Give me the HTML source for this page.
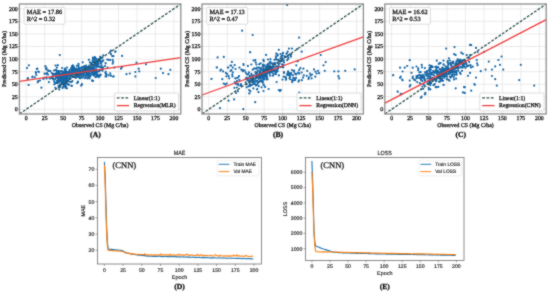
<!DOCTYPE html>
<html><head><meta charset="utf-8"><style>
html,body{margin:0;padding:0;background:#fff;overflow:hidden;}
svg{display:block;text-rendering:geometricPrecision;}
.sc text{stroke:#111;stroke-width:0.28px;}
.ln text{stroke:#222;stroke-width:0.15px;}
.ln text.cn,.ln text.bl{stroke:#111;stroke-width:0.25px;}
</style></head><body>
<svg width="550" height="294" viewBox="0 0 550 294">
<defs><filter id="bl" x="0" y="0" width="550" height="294" filterUnits="userSpaceOnUse" color-interpolation-filters="sRGB"><feConvolveMatrix order="3" kernelMatrix="1 2 1 2 14 2 1 2 1" divisor="26" edgeMode="duplicate"/></filter></defs>
<g filter="url(#bl)">
<rect width="550" height="294" fill="#fff"/>
<g class="sc" font-family='"Liberation Serif", serif' fill="#1a1a1a"><line x1="26.20" y1="4.0" x2="26.20" y2="113.95" stroke="#e2e2e2" stroke-width="0.7"/>
<line x1="19.4" y1="109.32" x2="180.80" y2="109.32" stroke="#e2e2e2" stroke-width="0.7"/>
<line x1="26.20" y1="113.95" x2="26.20" y2="115.75" stroke="#8e8e8e" stroke-width="0.6"/>
<line x1="17.599999999999998" y1="109.32" x2="19.4" y2="109.32" stroke="#8e8e8e" stroke-width="0.6"/>
<text transform="translate(26.20,120.45)" text-anchor="middle" font-size="5.8">0</text>
<text transform="translate(17.70,111.32)" text-anchor="end" font-size="5.8">0</text>
<line x1="44.66" y1="4.0" x2="44.66" y2="113.95" stroke="#e2e2e2" stroke-width="0.7"/>
<line x1="19.4" y1="96.76" x2="180.80" y2="96.76" stroke="#e2e2e2" stroke-width="0.7"/>
<line x1="44.66" y1="113.95" x2="44.66" y2="115.75" stroke="#8e8e8e" stroke-width="0.6"/>
<line x1="17.599999999999998" y1="96.76" x2="19.4" y2="96.76" stroke="#8e8e8e" stroke-width="0.6"/>
<text transform="translate(44.66,120.45)" text-anchor="middle" font-size="5.8">25</text>
<text transform="translate(17.70,98.76)" text-anchor="end" font-size="5.8">25</text>
<line x1="63.13" y1="4.0" x2="63.13" y2="113.95" stroke="#e2e2e2" stroke-width="0.7"/>
<line x1="19.4" y1="84.19" x2="180.80" y2="84.19" stroke="#e2e2e2" stroke-width="0.7"/>
<line x1="63.13" y1="113.95" x2="63.13" y2="115.75" stroke="#8e8e8e" stroke-width="0.6"/>
<line x1="17.599999999999998" y1="84.19" x2="19.4" y2="84.19" stroke="#8e8e8e" stroke-width="0.6"/>
<text transform="translate(63.13,120.45)" text-anchor="middle" font-size="5.8">50</text>
<text transform="translate(17.70,86.19)" text-anchor="end" font-size="5.8">50</text>
<line x1="81.60" y1="4.0" x2="81.60" y2="113.95" stroke="#e2e2e2" stroke-width="0.7"/>
<line x1="19.4" y1="71.62" x2="180.80" y2="71.62" stroke="#e2e2e2" stroke-width="0.7"/>
<line x1="81.60" y1="113.95" x2="81.60" y2="115.75" stroke="#8e8e8e" stroke-width="0.6"/>
<line x1="17.599999999999998" y1="71.62" x2="19.4" y2="71.62" stroke="#8e8e8e" stroke-width="0.6"/>
<text transform="translate(81.60,120.45)" text-anchor="middle" font-size="5.8">75</text>
<text transform="translate(17.70,73.62)" text-anchor="end" font-size="5.8">75</text>
<line x1="100.06" y1="4.0" x2="100.06" y2="113.95" stroke="#e2e2e2" stroke-width="0.7"/>
<line x1="19.4" y1="59.05" x2="180.80" y2="59.05" stroke="#e2e2e2" stroke-width="0.7"/>
<line x1="100.06" y1="113.95" x2="100.06" y2="115.75" stroke="#8e8e8e" stroke-width="0.6"/>
<line x1="17.599999999999998" y1="59.05" x2="19.4" y2="59.05" stroke="#8e8e8e" stroke-width="0.6"/>
<text transform="translate(100.06,120.45)" text-anchor="middle" font-size="5.8">100</text>
<text transform="translate(17.70,61.05)" text-anchor="end" font-size="5.8">100</text>
<line x1="118.53" y1="4.0" x2="118.53" y2="113.95" stroke="#e2e2e2" stroke-width="0.7"/>
<line x1="19.4" y1="46.48" x2="180.80" y2="46.48" stroke="#e2e2e2" stroke-width="0.7"/>
<line x1="118.53" y1="113.95" x2="118.53" y2="115.75" stroke="#8e8e8e" stroke-width="0.6"/>
<line x1="17.599999999999998" y1="46.48" x2="19.4" y2="46.48" stroke="#8e8e8e" stroke-width="0.6"/>
<text transform="translate(118.53,120.45)" text-anchor="middle" font-size="5.8">125</text>
<text transform="translate(17.70,48.48)" text-anchor="end" font-size="5.8">125</text>
<line x1="137.00" y1="4.0" x2="137.00" y2="113.95" stroke="#e2e2e2" stroke-width="0.7"/>
<line x1="19.4" y1="33.91" x2="180.80" y2="33.91" stroke="#e2e2e2" stroke-width="0.7"/>
<line x1="137.00" y1="113.95" x2="137.00" y2="115.75" stroke="#8e8e8e" stroke-width="0.6"/>
<line x1="17.599999999999998" y1="33.91" x2="19.4" y2="33.91" stroke="#8e8e8e" stroke-width="0.6"/>
<text transform="translate(137.00,120.45)" text-anchor="middle" font-size="5.8">150</text>
<text transform="translate(17.70,35.91)" text-anchor="end" font-size="5.8">150</text>
<line x1="155.46" y1="4.0" x2="155.46" y2="113.95" stroke="#e2e2e2" stroke-width="0.7"/>
<line x1="19.4" y1="21.34" x2="180.80" y2="21.34" stroke="#e2e2e2" stroke-width="0.7"/>
<line x1="155.46" y1="113.95" x2="155.46" y2="115.75" stroke="#8e8e8e" stroke-width="0.6"/>
<line x1="17.599999999999998" y1="21.34" x2="19.4" y2="21.34" stroke="#8e8e8e" stroke-width="0.6"/>
<text transform="translate(155.46,120.45)" text-anchor="middle" font-size="5.8">175</text>
<text transform="translate(17.70,23.34)" text-anchor="end" font-size="5.8">175</text>
<line x1="173.93" y1="4.0" x2="173.93" y2="113.95" stroke="#e2e2e2" stroke-width="0.7"/>
<line x1="19.4" y1="8.78" x2="180.80" y2="8.78" stroke="#e2e2e2" stroke-width="0.7"/>
<line x1="173.93" y1="113.95" x2="173.93" y2="115.75" stroke="#8e8e8e" stroke-width="0.6"/>
<line x1="17.599999999999998" y1="8.78" x2="19.4" y2="8.78" stroke="#8e8e8e" stroke-width="0.6"/>
<text transform="translate(173.93,120.45)" text-anchor="middle" font-size="5.8">200</text>
<text transform="translate(17.70,10.78)" text-anchor="end" font-size="5.8">200</text>
<path fill="#1666a6" d="M65.5 72.6a1.1 1.1 0 1 0 2.2 0a1.1 1.1 0 1 0 -2.2 0M70.7 74.7a1.1 1.1 0 1 0 2.2 0a1.1 1.1 0 1 0 -2.2 0M70.2 76.1a1.1 1.1 0 1 0 2.2 0a1.1 1.1 0 1 0 -2.2 0M84.1 78.0a1.1 1.1 0 1 0 2.2 0a1.1 1.1 0 1 0 -2.2 0M76.6 71.7a1.1 1.1 0 1 0 2.2 0a1.1 1.1 0 1 0 -2.2 0M81.4 70.6a1.1 1.1 0 1 0 2.2 0a1.1 1.1 0 1 0 -2.2 0M90.6 69.4a1.1 1.1 0 1 0 2.2 0a1.1 1.1 0 1 0 -2.2 0M90.2 64.3a1.1 1.1 0 1 0 2.2 0a1.1 1.1 0 1 0 -2.2 0M85.5 67.2a1.1 1.1 0 1 0 2.2 0a1.1 1.1 0 1 0 -2.2 0M74.1 73.1a1.1 1.1 0 1 0 2.2 0a1.1 1.1 0 1 0 -2.2 0M70.2 73.6a1.1 1.1 0 1 0 2.2 0a1.1 1.1 0 1 0 -2.2 0M70.4 81.8a1.1 1.1 0 1 0 2.2 0a1.1 1.1 0 1 0 -2.2 0M76.0 76.6a1.1 1.1 0 1 0 2.2 0a1.1 1.1 0 1 0 -2.2 0M79.5 74.5a1.1 1.1 0 1 0 2.2 0a1.1 1.1 0 1 0 -2.2 0M67.9 78.3a1.1 1.1 0 1 0 2.2 0a1.1 1.1 0 1 0 -2.2 0M65.0 71.5a1.1 1.1 0 1 0 2.2 0a1.1 1.1 0 1 0 -2.2 0M83.6 69.5a1.1 1.1 0 1 0 2.2 0a1.1 1.1 0 1 0 -2.2 0M55.7 72.3a1.1 1.1 0 1 0 2.2 0a1.1 1.1 0 1 0 -2.2 0M77.5 71.6a1.1 1.1 0 1 0 2.2 0a1.1 1.1 0 1 0 -2.2 0M86.3 78.4a1.1 1.1 0 1 0 2.2 0a1.1 1.1 0 1 0 -2.2 0M67.1 72.6a1.1 1.1 0 1 0 2.2 0a1.1 1.1 0 1 0 -2.2 0M65.3 71.5a1.1 1.1 0 1 0 2.2 0a1.1 1.1 0 1 0 -2.2 0M70.1 73.2a1.1 1.1 0 1 0 2.2 0a1.1 1.1 0 1 0 -2.2 0M88.6 73.7a1.1 1.1 0 1 0 2.2 0a1.1 1.1 0 1 0 -2.2 0M78.4 73.7a1.1 1.1 0 1 0 2.2 0a1.1 1.1 0 1 0 -2.2 0M56.1 77.7a1.1 1.1 0 1 0 2.2 0a1.1 1.1 0 1 0 -2.2 0M73.9 68.5a1.1 1.1 0 1 0 2.2 0a1.1 1.1 0 1 0 -2.2 0M92.6 67.4a1.1 1.1 0 1 0 2.2 0a1.1 1.1 0 1 0 -2.2 0M92.5 69.6a1.1 1.1 0 1 0 2.2 0a1.1 1.1 0 1 0 -2.2 0M88.1 71.2a1.1 1.1 0 1 0 2.2 0a1.1 1.1 0 1 0 -2.2 0M77.4 76.9a1.1 1.1 0 1 0 2.2 0a1.1 1.1 0 1 0 -2.2 0M55.6 70.6a1.1 1.1 0 1 0 2.2 0a1.1 1.1 0 1 0 -2.2 0M82.3 73.8a1.1 1.1 0 1 0 2.2 0a1.1 1.1 0 1 0 -2.2 0M77.5 71.4a1.1 1.1 0 1 0 2.2 0a1.1 1.1 0 1 0 -2.2 0M81.1 73.9a1.1 1.1 0 1 0 2.2 0a1.1 1.1 0 1 0 -2.2 0M99.5 67.3a1.1 1.1 0 1 0 2.2 0a1.1 1.1 0 1 0 -2.2 0M81.7 67.0a1.1 1.1 0 1 0 2.2 0a1.1 1.1 0 1 0 -2.2 0M83.9 75.5a1.1 1.1 0 1 0 2.2 0a1.1 1.1 0 1 0 -2.2 0M87.8 72.0a1.1 1.1 0 1 0 2.2 0a1.1 1.1 0 1 0 -2.2 0M75.8 65.8a1.1 1.1 0 1 0 2.2 0a1.1 1.1 0 1 0 -2.2 0M71.6 75.3a1.1 1.1 0 1 0 2.2 0a1.1 1.1 0 1 0 -2.2 0M70.0 69.7a1.1 1.1 0 1 0 2.2 0a1.1 1.1 0 1 0 -2.2 0M89.7 70.4a1.1 1.1 0 1 0 2.2 0a1.1 1.1 0 1 0 -2.2 0M86.4 71.1a1.1 1.1 0 1 0 2.2 0a1.1 1.1 0 1 0 -2.2 0M73.0 68.2a1.1 1.1 0 1 0 2.2 0a1.1 1.1 0 1 0 -2.2 0M95.2 73.8a1.1 1.1 0 1 0 2.2 0a1.1 1.1 0 1 0 -2.2 0M82.1 69.9a1.1 1.1 0 1 0 2.2 0a1.1 1.1 0 1 0 -2.2 0M63.3 79.5a1.1 1.1 0 1 0 2.2 0a1.1 1.1 0 1 0 -2.2 0M87.9 72.6a1.1 1.1 0 1 0 2.2 0a1.1 1.1 0 1 0 -2.2 0M78.3 73.9a1.1 1.1 0 1 0 2.2 0a1.1 1.1 0 1 0 -2.2 0M62.9 74.9a1.1 1.1 0 1 0 2.2 0a1.1 1.1 0 1 0 -2.2 0M87.4 77.7a1.1 1.1 0 1 0 2.2 0a1.1 1.1 0 1 0 -2.2 0M75.0 69.1a1.1 1.1 0 1 0 2.2 0a1.1 1.1 0 1 0 -2.2 0M74.5 69.9a1.1 1.1 0 1 0 2.2 0a1.1 1.1 0 1 0 -2.2 0M87.2 68.8a1.1 1.1 0 1 0 2.2 0a1.1 1.1 0 1 0 -2.2 0M52.1 79.3a1.1 1.1 0 1 0 2.2 0a1.1 1.1 0 1 0 -2.2 0M63.8 77.5a1.1 1.1 0 1 0 2.2 0a1.1 1.1 0 1 0 -2.2 0M74.5 72.9a1.1 1.1 0 1 0 2.2 0a1.1 1.1 0 1 0 -2.2 0M83.2 72.5a1.1 1.1 0 1 0 2.2 0a1.1 1.1 0 1 0 -2.2 0M70.6 67.5a1.1 1.1 0 1 0 2.2 0a1.1 1.1 0 1 0 -2.2 0M67.6 78.5a1.1 1.1 0 1 0 2.2 0a1.1 1.1 0 1 0 -2.2 0M66.2 72.9a1.1 1.1 0 1 0 2.2 0a1.1 1.1 0 1 0 -2.2 0M78.4 72.6a1.1 1.1 0 1 0 2.2 0a1.1 1.1 0 1 0 -2.2 0M88.5 69.9a1.1 1.1 0 1 0 2.2 0a1.1 1.1 0 1 0 -2.2 0M61.5 76.5a1.1 1.1 0 1 0 2.2 0a1.1 1.1 0 1 0 -2.2 0M53.0 74.5a1.1 1.1 0 1 0 2.2 0a1.1 1.1 0 1 0 -2.2 0M76.1 72.8a1.1 1.1 0 1 0 2.2 0a1.1 1.1 0 1 0 -2.2 0M75.0 72.9a1.1 1.1 0 1 0 2.2 0a1.1 1.1 0 1 0 -2.2 0M68.0 71.7a1.1 1.1 0 1 0 2.2 0a1.1 1.1 0 1 0 -2.2 0M87.5 68.9a1.1 1.1 0 1 0 2.2 0a1.1 1.1 0 1 0 -2.2 0M90.4 72.0a1.1 1.1 0 1 0 2.2 0a1.1 1.1 0 1 0 -2.2 0M72.8 74.2a1.1 1.1 0 1 0 2.2 0a1.1 1.1 0 1 0 -2.2 0M75.8 75.0a1.1 1.1 0 1 0 2.2 0a1.1 1.1 0 1 0 -2.2 0M87.9 76.0a1.1 1.1 0 1 0 2.2 0a1.1 1.1 0 1 0 -2.2 0M73.8 68.5a1.1 1.1 0 1 0 2.2 0a1.1 1.1 0 1 0 -2.2 0M61.0 68.0a1.1 1.1 0 1 0 2.2 0a1.1 1.1 0 1 0 -2.2 0M78.9 70.7a1.1 1.1 0 1 0 2.2 0a1.1 1.1 0 1 0 -2.2 0M68.8 77.7a1.1 1.1 0 1 0 2.2 0a1.1 1.1 0 1 0 -2.2 0M84.1 71.3a1.1 1.1 0 1 0 2.2 0a1.1 1.1 0 1 0 -2.2 0M72.6 66.7a1.1 1.1 0 1 0 2.2 0a1.1 1.1 0 1 0 -2.2 0M78.1 77.6a1.1 1.1 0 1 0 2.2 0a1.1 1.1 0 1 0 -2.2 0M86.8 72.9a1.1 1.1 0 1 0 2.2 0a1.1 1.1 0 1 0 -2.2 0M77.7 67.2a1.1 1.1 0 1 0 2.2 0a1.1 1.1 0 1 0 -2.2 0M71.4 70.2a1.1 1.1 0 1 0 2.2 0a1.1 1.1 0 1 0 -2.2 0M67.0 73.9a1.1 1.1 0 1 0 2.2 0a1.1 1.1 0 1 0 -2.2 0M101.9 67.4a1.1 1.1 0 1 0 2.2 0a1.1 1.1 0 1 0 -2.2 0M94.1 69.8a1.1 1.1 0 1 0 2.2 0a1.1 1.1 0 1 0 -2.2 0M60.7 76.1a1.1 1.1 0 1 0 2.2 0a1.1 1.1 0 1 0 -2.2 0M66.3 73.7a1.1 1.1 0 1 0 2.2 0a1.1 1.1 0 1 0 -2.2 0M88.0 75.8a1.1 1.1 0 1 0 2.2 0a1.1 1.1 0 1 0 -2.2 0M72.2 72.3a1.1 1.1 0 1 0 2.2 0a1.1 1.1 0 1 0 -2.2 0M80.7 77.0a1.1 1.1 0 1 0 2.2 0a1.1 1.1 0 1 0 -2.2 0M90.2 68.7a1.1 1.1 0 1 0 2.2 0a1.1 1.1 0 1 0 -2.2 0M81.1 67.9a1.1 1.1 0 1 0 2.2 0a1.1 1.1 0 1 0 -2.2 0M77.4 65.1a1.1 1.1 0 1 0 2.2 0a1.1 1.1 0 1 0 -2.2 0M73.4 69.8a1.1 1.1 0 1 0 2.2 0a1.1 1.1 0 1 0 -2.2 0M78.8 72.4a1.1 1.1 0 1 0 2.2 0a1.1 1.1 0 1 0 -2.2 0M85.3 74.6a1.1 1.1 0 1 0 2.2 0a1.1 1.1 0 1 0 -2.2 0M100.9 57.7a1.1 1.1 0 1 0 2.2 0a1.1 1.1 0 1 0 -2.2 0M93.6 70.2a1.1 1.1 0 1 0 2.2 0a1.1 1.1 0 1 0 -2.2 0M76.9 69.0a1.1 1.1 0 1 0 2.2 0a1.1 1.1 0 1 0 -2.2 0M92.0 72.9a1.1 1.1 0 1 0 2.2 0a1.1 1.1 0 1 0 -2.2 0M81.2 70.1a1.1 1.1 0 1 0 2.2 0a1.1 1.1 0 1 0 -2.2 0M60.9 75.3a1.1 1.1 0 1 0 2.2 0a1.1 1.1 0 1 0 -2.2 0M79.3 78.2a1.1 1.1 0 1 0 2.2 0a1.1 1.1 0 1 0 -2.2 0M92.8 70.8a1.1 1.1 0 1 0 2.2 0a1.1 1.1 0 1 0 -2.2 0M72.1 72.4a1.1 1.1 0 1 0 2.2 0a1.1 1.1 0 1 0 -2.2 0M92.4 73.8a1.1 1.1 0 1 0 2.2 0a1.1 1.1 0 1 0 -2.2 0M76.1 73.4a1.1 1.1 0 1 0 2.2 0a1.1 1.1 0 1 0 -2.2 0M80.2 71.3a1.1 1.1 0 1 0 2.2 0a1.1 1.1 0 1 0 -2.2 0M63.9 68.5a1.1 1.1 0 1 0 2.2 0a1.1 1.1 0 1 0 -2.2 0M106.5 67.5a1.1 1.1 0 1 0 2.2 0a1.1 1.1 0 1 0 -2.2 0M85.1 65.6a1.1 1.1 0 1 0 2.2 0a1.1 1.1 0 1 0 -2.2 0M93.0 71.0a1.1 1.1 0 1 0 2.2 0a1.1 1.1 0 1 0 -2.2 0M74.3 74.6a1.1 1.1 0 1 0 2.2 0a1.1 1.1 0 1 0 -2.2 0M61.0 74.5a1.1 1.1 0 1 0 2.2 0a1.1 1.1 0 1 0 -2.2 0M96.3 76.2a1.1 1.1 0 1 0 2.2 0a1.1 1.1 0 1 0 -2.2 0M70.2 69.2a1.1 1.1 0 1 0 2.2 0a1.1 1.1 0 1 0 -2.2 0M101.4 70.7a1.1 1.1 0 1 0 2.2 0a1.1 1.1 0 1 0 -2.2 0M77.7 72.4a1.1 1.1 0 1 0 2.2 0a1.1 1.1 0 1 0 -2.2 0M100.4 65.4a1.1 1.1 0 1 0 2.2 0a1.1 1.1 0 1 0 -2.2 0M70.7 74.8a1.1 1.1 0 1 0 2.2 0a1.1 1.1 0 1 0 -2.2 0M57.5 77.5a1.1 1.1 0 1 0 2.2 0a1.1 1.1 0 1 0 -2.2 0M89.4 74.6a1.1 1.1 0 1 0 2.2 0a1.1 1.1 0 1 0 -2.2 0M78.9 71.5a1.1 1.1 0 1 0 2.2 0a1.1 1.1 0 1 0 -2.2 0M80.1 74.1a1.1 1.1 0 1 0 2.2 0a1.1 1.1 0 1 0 -2.2 0M93.2 68.1a1.1 1.1 0 1 0 2.2 0a1.1 1.1 0 1 0 -2.2 0M69.1 78.3a1.1 1.1 0 1 0 2.2 0a1.1 1.1 0 1 0 -2.2 0M63.9 80.0a1.1 1.1 0 1 0 2.2 0a1.1 1.1 0 1 0 -2.2 0M64.9 74.3a1.1 1.1 0 1 0 2.2 0a1.1 1.1 0 1 0 -2.2 0M58.3 75.4a1.1 1.1 0 1 0 2.2 0a1.1 1.1 0 1 0 -2.2 0M56.1 71.3a1.1 1.1 0 1 0 2.2 0a1.1 1.1 0 1 0 -2.2 0M63.3 74.1a1.1 1.1 0 1 0 2.2 0a1.1 1.1 0 1 0 -2.2 0M67.2 72.3a1.1 1.1 0 1 0 2.2 0a1.1 1.1 0 1 0 -2.2 0M74.1 73.5a1.1 1.1 0 1 0 2.2 0a1.1 1.1 0 1 0 -2.2 0M63.7 69.2a1.1 1.1 0 1 0 2.2 0a1.1 1.1 0 1 0 -2.2 0M78.7 78.2a1.1 1.1 0 1 0 2.2 0a1.1 1.1 0 1 0 -2.2 0M89.4 71.5a1.1 1.1 0 1 0 2.2 0a1.1 1.1 0 1 0 -2.2 0M77.1 76.0a1.1 1.1 0 1 0 2.2 0a1.1 1.1 0 1 0 -2.2 0M85.0 73.1a1.1 1.1 0 1 0 2.2 0a1.1 1.1 0 1 0 -2.2 0M67.4 72.6a1.1 1.1 0 1 0 2.2 0a1.1 1.1 0 1 0 -2.2 0M83.8 78.1a1.1 1.1 0 1 0 2.2 0a1.1 1.1 0 1 0 -2.2 0M85.6 75.1a1.1 1.1 0 1 0 2.2 0a1.1 1.1 0 1 0 -2.2 0M70.0 68.2a1.1 1.1 0 1 0 2.2 0a1.1 1.1 0 1 0 -2.2 0M59.1 74.5a1.1 1.1 0 1 0 2.2 0a1.1 1.1 0 1 0 -2.2 0M76.2 71.7a1.1 1.1 0 1 0 2.2 0a1.1 1.1 0 1 0 -2.2 0M78.1 69.5a1.1 1.1 0 1 0 2.2 0a1.1 1.1 0 1 0 -2.2 0M97.6 77.2a1.1 1.1 0 1 0 2.2 0a1.1 1.1 0 1 0 -2.2 0M72.4 68.8a1.1 1.1 0 1 0 2.2 0a1.1 1.1 0 1 0 -2.2 0M99.7 74.8a1.1 1.1 0 1 0 2.2 0a1.1 1.1 0 1 0 -2.2 0M46.4 70.3a1.1 1.1 0 1 0 2.2 0a1.1 1.1 0 1 0 -2.2 0M74.4 77.4a1.1 1.1 0 1 0 2.2 0a1.1 1.1 0 1 0 -2.2 0M71.2 71.3a1.1 1.1 0 1 0 2.2 0a1.1 1.1 0 1 0 -2.2 0M71.8 65.4a1.1 1.1 0 1 0 2.2 0a1.1 1.1 0 1 0 -2.2 0M70.9 74.1a1.1 1.1 0 1 0 2.2 0a1.1 1.1 0 1 0 -2.2 0M77.1 74.0a1.1 1.1 0 1 0 2.2 0a1.1 1.1 0 1 0 -2.2 0M98.1 66.7a1.1 1.1 0 1 0 2.2 0a1.1 1.1 0 1 0 -2.2 0M76.0 76.2a1.1 1.1 0 1 0 2.2 0a1.1 1.1 0 1 0 -2.2 0M92.0 64.8a1.1 1.1 0 1 0 2.2 0a1.1 1.1 0 1 0 -2.2 0M76.7 76.3a1.1 1.1 0 1 0 2.2 0a1.1 1.1 0 1 0 -2.2 0M79.0 74.2a1.1 1.1 0 1 0 2.2 0a1.1 1.1 0 1 0 -2.2 0M47.8 82.1a1.1 1.1 0 1 0 2.2 0a1.1 1.1 0 1 0 -2.2 0M78.3 70.9a1.1 1.1 0 1 0 2.2 0a1.1 1.1 0 1 0 -2.2 0M85.5 74.4a1.1 1.1 0 1 0 2.2 0a1.1 1.1 0 1 0 -2.2 0M62.6 72.2a1.1 1.1 0 1 0 2.2 0a1.1 1.1 0 1 0 -2.2 0M69.9 76.1a1.1 1.1 0 1 0 2.2 0a1.1 1.1 0 1 0 -2.2 0M66.6 74.6a1.1 1.1 0 1 0 2.2 0a1.1 1.1 0 1 0 -2.2 0M104.7 71.8a1.1 1.1 0 1 0 2.2 0a1.1 1.1 0 1 0 -2.2 0M64.3 69.6a1.1 1.1 0 1 0 2.2 0a1.1 1.1 0 1 0 -2.2 0M68.3 75.2a1.1 1.1 0 1 0 2.2 0a1.1 1.1 0 1 0 -2.2 0M42.9 77.9a1.1 1.1 0 1 0 2.2 0a1.1 1.1 0 1 0 -2.2 0M57.8 79.9a1.1 1.1 0 1 0 2.2 0a1.1 1.1 0 1 0 -2.2 0M79.8 70.9a1.1 1.1 0 1 0 2.2 0a1.1 1.1 0 1 0 -2.2 0M60.9 73.8a1.1 1.1 0 1 0 2.2 0a1.1 1.1 0 1 0 -2.2 0M42.3 78.9a1.1 1.1 0 1 0 2.2 0a1.1 1.1 0 1 0 -2.2 0M73.7 74.6a1.1 1.1 0 1 0 2.2 0a1.1 1.1 0 1 0 -2.2 0M77.4 63.8a1.1 1.1 0 1 0 2.2 0a1.1 1.1 0 1 0 -2.2 0M80.4 71.1a1.1 1.1 0 1 0 2.2 0a1.1 1.1 0 1 0 -2.2 0M82.2 74.7a1.1 1.1 0 1 0 2.2 0a1.1 1.1 0 1 0 -2.2 0M69.2 72.2a1.1 1.1 0 1 0 2.2 0a1.1 1.1 0 1 0 -2.2 0M112.0 61.8a1.1 1.1 0 1 0 2.2 0a1.1 1.1 0 1 0 -2.2 0M69.9 72.1a1.1 1.1 0 1 0 2.2 0a1.1 1.1 0 1 0 -2.2 0M82.7 71.6a1.1 1.1 0 1 0 2.2 0a1.1 1.1 0 1 0 -2.2 0M60.6 71.1a1.1 1.1 0 1 0 2.2 0a1.1 1.1 0 1 0 -2.2 0M69.2 73.6a1.1 1.1 0 1 0 2.2 0a1.1 1.1 0 1 0 -2.2 0M57.2 71.1a1.1 1.1 0 1 0 2.2 0a1.1 1.1 0 1 0 -2.2 0M79.8 71.4a1.1 1.1 0 1 0 2.2 0a1.1 1.1 0 1 0 -2.2 0M72.1 73.3a1.1 1.1 0 1 0 2.2 0a1.1 1.1 0 1 0 -2.2 0M65.1 79.9a1.1 1.1 0 1 0 2.2 0a1.1 1.1 0 1 0 -2.2 0M51.8 76.7a1.1 1.1 0 1 0 2.2 0a1.1 1.1 0 1 0 -2.2 0M84.7 75.8a1.1 1.1 0 1 0 2.2 0a1.1 1.1 0 1 0 -2.2 0M87.7 71.8a1.1 1.1 0 1 0 2.2 0a1.1 1.1 0 1 0 -2.2 0M87.4 67.2a1.1 1.1 0 1 0 2.2 0a1.1 1.1 0 1 0 -2.2 0M75.6 68.6a1.1 1.1 0 1 0 2.2 0a1.1 1.1 0 1 0 -2.2 0M86.4 73.9a1.1 1.1 0 1 0 2.2 0a1.1 1.1 0 1 0 -2.2 0M88.2 65.5a1.1 1.1 0 1 0 2.2 0a1.1 1.1 0 1 0 -2.2 0M83.2 66.2a1.1 1.1 0 1 0 2.2 0a1.1 1.1 0 1 0 -2.2 0M96.0 73.1a1.1 1.1 0 1 0 2.2 0a1.1 1.1 0 1 0 -2.2 0M75.0 69.8a1.1 1.1 0 1 0 2.2 0a1.1 1.1 0 1 0 -2.2 0M79.6 68.1a1.1 1.1 0 1 0 2.2 0a1.1 1.1 0 1 0 -2.2 0M58.9 80.2a1.1 1.1 0 1 0 2.2 0a1.1 1.1 0 1 0 -2.2 0M103.9 66.1a1.1 1.1 0 1 0 2.2 0a1.1 1.1 0 1 0 -2.2 0M68.4 75.5a1.1 1.1 0 1 0 2.2 0a1.1 1.1 0 1 0 -2.2 0M81.9 71.6a1.1 1.1 0 1 0 2.2 0a1.1 1.1 0 1 0 -2.2 0M85.9 71.7a1.1 1.1 0 1 0 2.2 0a1.1 1.1 0 1 0 -2.2 0M67.5 73.6a1.1 1.1 0 1 0 2.2 0a1.1 1.1 0 1 0 -2.2 0M77.8 75.7a1.1 1.1 0 1 0 2.2 0a1.1 1.1 0 1 0 -2.2 0M87.4 76.1a1.1 1.1 0 1 0 2.2 0a1.1 1.1 0 1 0 -2.2 0M76.4 69.2a1.1 1.1 0 1 0 2.2 0a1.1 1.1 0 1 0 -2.2 0M74.8 77.8a1.1 1.1 0 1 0 2.2 0a1.1 1.1 0 1 0 -2.2 0M74.0 72.0a1.1 1.1 0 1 0 2.2 0a1.1 1.1 0 1 0 -2.2 0M69.0 72.7a1.1 1.1 0 1 0 2.2 0a1.1 1.1 0 1 0 -2.2 0M76.3 74.7a1.1 1.1 0 1 0 2.2 0a1.1 1.1 0 1 0 -2.2 0M82.7 69.8a1.1 1.1 0 1 0 2.2 0a1.1 1.1 0 1 0 -2.2 0M83.7 68.4a1.1 1.1 0 1 0 2.2 0a1.1 1.1 0 1 0 -2.2 0M92.9 75.5a1.1 1.1 0 1 0 2.2 0a1.1 1.1 0 1 0 -2.2 0M78.8 70.1a1.1 1.1 0 1 0 2.2 0a1.1 1.1 0 1 0 -2.2 0M71.0 65.9a1.1 1.1 0 1 0 2.2 0a1.1 1.1 0 1 0 -2.2 0M87.8 59.8a1.1 1.1 0 1 0 2.2 0a1.1 1.1 0 1 0 -2.2 0M83.0 72.7a1.1 1.1 0 1 0 2.2 0a1.1 1.1 0 1 0 -2.2 0M91.2 70.1a1.1 1.1 0 1 0 2.2 0a1.1 1.1 0 1 0 -2.2 0M81.6 77.6a1.1 1.1 0 1 0 2.2 0a1.1 1.1 0 1 0 -2.2 0M84.9 67.4a1.1 1.1 0 1 0 2.2 0a1.1 1.1 0 1 0 -2.2 0M83.1 67.4a1.1 1.1 0 1 0 2.2 0a1.1 1.1 0 1 0 -2.2 0M87.9 71.1a1.1 1.1 0 1 0 2.2 0a1.1 1.1 0 1 0 -2.2 0M66.7 78.1a1.1 1.1 0 1 0 2.2 0a1.1 1.1 0 1 0 -2.2 0M77.9 77.0a1.1 1.1 0 1 0 2.2 0a1.1 1.1 0 1 0 -2.2 0M81.0 72.0a1.1 1.1 0 1 0 2.2 0a1.1 1.1 0 1 0 -2.2 0M100.3 67.3a1.1 1.1 0 1 0 2.2 0a1.1 1.1 0 1 0 -2.2 0M77.8 72.7a1.1 1.1 0 1 0 2.2 0a1.1 1.1 0 1 0 -2.2 0M85.2 76.5a1.1 1.1 0 1 0 2.2 0a1.1 1.1 0 1 0 -2.2 0M76.4 72.1a1.1 1.1 0 1 0 2.2 0a1.1 1.1 0 1 0 -2.2 0M52.2 73.9a1.1 1.1 0 1 0 2.2 0a1.1 1.1 0 1 0 -2.2 0M94.8 71.7a1.1 1.1 0 1 0 2.2 0a1.1 1.1 0 1 0 -2.2 0M87.4 71.8a1.1 1.1 0 1 0 2.2 0a1.1 1.1 0 1 0 -2.2 0M94.7 70.6a1.1 1.1 0 1 0 2.2 0a1.1 1.1 0 1 0 -2.2 0M62.2 81.3a1.1 1.1 0 1 0 2.2 0a1.1 1.1 0 1 0 -2.2 0M82.6 74.0a1.1 1.1 0 1 0 2.2 0a1.1 1.1 0 1 0 -2.2 0M81.0 72.3a1.1 1.1 0 1 0 2.2 0a1.1 1.1 0 1 0 -2.2 0M58.6 73.5a1.1 1.1 0 1 0 2.2 0a1.1 1.1 0 1 0 -2.2 0M84.5 70.5a1.1 1.1 0 1 0 2.2 0a1.1 1.1 0 1 0 -2.2 0M71.2 74.8a1.1 1.1 0 1 0 2.2 0a1.1 1.1 0 1 0 -2.2 0M85.3 73.8a1.1 1.1 0 1 0 2.2 0a1.1 1.1 0 1 0 -2.2 0M57.3 72.7a1.1 1.1 0 1 0 2.2 0a1.1 1.1 0 1 0 -2.2 0M67.2 71.8a1.1 1.1 0 1 0 2.2 0a1.1 1.1 0 1 0 -2.2 0M69.6 72.4a1.1 1.1 0 1 0 2.2 0a1.1 1.1 0 1 0 -2.2 0M58.9 71.4a1.1 1.1 0 1 0 2.2 0a1.1 1.1 0 1 0 -2.2 0M79.9 75.8a1.1 1.1 0 1 0 2.2 0a1.1 1.1 0 1 0 -2.2 0M95.1 67.1a1.1 1.1 0 1 0 2.2 0a1.1 1.1 0 1 0 -2.2 0M78.5 72.7a1.1 1.1 0 1 0 2.2 0a1.1 1.1 0 1 0 -2.2 0M87.2 74.5a1.1 1.1 0 1 0 2.2 0a1.1 1.1 0 1 0 -2.2 0M97.1 66.6a1.1 1.1 0 1 0 2.2 0a1.1 1.1 0 1 0 -2.2 0M85.5 68.5a1.1 1.1 0 1 0 2.2 0a1.1 1.1 0 1 0 -2.2 0M73.9 72.3a1.1 1.1 0 1 0 2.2 0a1.1 1.1 0 1 0 -2.2 0M54.5 76.9a1.1 1.1 0 1 0 2.2 0a1.1 1.1 0 1 0 -2.2 0M83.3 72.3a1.1 1.1 0 1 0 2.2 0a1.1 1.1 0 1 0 -2.2 0M74.6 72.9a1.1 1.1 0 1 0 2.2 0a1.1 1.1 0 1 0 -2.2 0M73.4 77.1a1.1 1.1 0 1 0 2.2 0a1.1 1.1 0 1 0 -2.2 0M87.8 69.1a1.1 1.1 0 1 0 2.2 0a1.1 1.1 0 1 0 -2.2 0M85.5 69.1a1.1 1.1 0 1 0 2.2 0a1.1 1.1 0 1 0 -2.2 0M59.0 76.8a1.1 1.1 0 1 0 2.2 0a1.1 1.1 0 1 0 -2.2 0M81.9 72.2a1.1 1.1 0 1 0 2.2 0a1.1 1.1 0 1 0 -2.2 0M75.1 75.9a1.1 1.1 0 1 0 2.2 0a1.1 1.1 0 1 0 -2.2 0M90.2 74.5a1.1 1.1 0 1 0 2.2 0a1.1 1.1 0 1 0 -2.2 0M78.1 68.6a1.1 1.1 0 1 0 2.2 0a1.1 1.1 0 1 0 -2.2 0M89.8 63.7a1.1 1.1 0 1 0 2.2 0a1.1 1.1 0 1 0 -2.2 0M70.6 75.1a1.1 1.1 0 1 0 2.2 0a1.1 1.1 0 1 0 -2.2 0M73.7 72.7a1.1 1.1 0 1 0 2.2 0a1.1 1.1 0 1 0 -2.2 0M72.0 74.0a1.1 1.1 0 1 0 2.2 0a1.1 1.1 0 1 0 -2.2 0M76.1 69.4a1.1 1.1 0 1 0 2.2 0a1.1 1.1 0 1 0 -2.2 0M76.1 75.2a1.1 1.1 0 1 0 2.2 0a1.1 1.1 0 1 0 -2.2 0M93.9 69.6a1.1 1.1 0 1 0 2.2 0a1.1 1.1 0 1 0 -2.2 0M66.5 75.6a1.1 1.1 0 1 0 2.2 0a1.1 1.1 0 1 0 -2.2 0M80.3 75.1a1.1 1.1 0 1 0 2.2 0a1.1 1.1 0 1 0 -2.2 0M64.0 74.4a1.1 1.1 0 1 0 2.2 0a1.1 1.1 0 1 0 -2.2 0M60.4 74.2a1.1 1.1 0 1 0 2.2 0a1.1 1.1 0 1 0 -2.2 0M70.9 70.8a1.1 1.1 0 1 0 2.2 0a1.1 1.1 0 1 0 -2.2 0M60.7 83.6a1.1 1.1 0 1 0 2.2 0a1.1 1.1 0 1 0 -2.2 0M80.5 67.3a1.1 1.1 0 1 0 2.2 0a1.1 1.1 0 1 0 -2.2 0M69.7 75.7a1.1 1.1 0 1 0 2.2 0a1.1 1.1 0 1 0 -2.2 0M71.4 68.0a1.1 1.1 0 1 0 2.2 0a1.1 1.1 0 1 0 -2.2 0M84.3 68.7a1.1 1.1 0 1 0 2.2 0a1.1 1.1 0 1 0 -2.2 0M99.3 74.5a1.1 1.1 0 1 0 2.2 0a1.1 1.1 0 1 0 -2.2 0M71.7 70.6a1.1 1.1 0 1 0 2.2 0a1.1 1.1 0 1 0 -2.2 0M54.3 78.8a1.1 1.1 0 1 0 2.2 0a1.1 1.1 0 1 0 -2.2 0M73.6 71.5a1.1 1.1 0 1 0 2.2 0a1.1 1.1 0 1 0 -2.2 0M79.2 75.1a1.1 1.1 0 1 0 2.2 0a1.1 1.1 0 1 0 -2.2 0M92.8 65.7a1.1 1.1 0 1 0 2.2 0a1.1 1.1 0 1 0 -2.2 0M77.9 68.4a1.1 1.1 0 1 0 2.2 0a1.1 1.1 0 1 0 -2.2 0M68.2 78.4a1.1 1.1 0 1 0 2.2 0a1.1 1.1 0 1 0 -2.2 0M90.9 71.8a1.1 1.1 0 1 0 2.2 0a1.1 1.1 0 1 0 -2.2 0M92.4 67.0a1.1 1.1 0 1 0 2.2 0a1.1 1.1 0 1 0 -2.2 0M76.4 70.8a1.1 1.1 0 1 0 2.2 0a1.1 1.1 0 1 0 -2.2 0M81.6 62.3a1.1 1.1 0 1 0 2.2 0a1.1 1.1 0 1 0 -2.2 0M83.6 70.5a1.1 1.1 0 1 0 2.2 0a1.1 1.1 0 1 0 -2.2 0M111.6 63.6a1.1 1.1 0 1 0 2.2 0a1.1 1.1 0 1 0 -2.2 0M71.1 69.8a1.1 1.1 0 1 0 2.2 0a1.1 1.1 0 1 0 -2.2 0M74.5 77.8a1.1 1.1 0 1 0 2.2 0a1.1 1.1 0 1 0 -2.2 0M77.7 70.4a1.1 1.1 0 1 0 2.2 0a1.1 1.1 0 1 0 -2.2 0M88.2 68.8a1.1 1.1 0 1 0 2.2 0a1.1 1.1 0 1 0 -2.2 0M56.3 76.2a1.1 1.1 0 1 0 2.2 0a1.1 1.1 0 1 0 -2.2 0M65.2 79.8a1.1 1.1 0 1 0 2.2 0a1.1 1.1 0 1 0 -2.2 0M64.6 70.7a1.1 1.1 0 1 0 2.2 0a1.1 1.1 0 1 0 -2.2 0M57.6 81.0a1.1 1.1 0 1 0 2.2 0a1.1 1.1 0 1 0 -2.2 0M53.5 74.1a1.1 1.1 0 1 0 2.2 0a1.1 1.1 0 1 0 -2.2 0M60.7 80.9a1.1 1.1 0 1 0 2.2 0a1.1 1.1 0 1 0 -2.2 0M62.4 77.0a1.1 1.1 0 1 0 2.2 0a1.1 1.1 0 1 0 -2.2 0M51.9 78.6a1.1 1.1 0 1 0 2.2 0a1.1 1.1 0 1 0 -2.2 0M67.5 73.7a1.1 1.1 0 1 0 2.2 0a1.1 1.1 0 1 0 -2.2 0M57.2 77.2a1.1 1.1 0 1 0 2.2 0a1.1 1.1 0 1 0 -2.2 0M62.3 72.1a1.1 1.1 0 1 0 2.2 0a1.1 1.1 0 1 0 -2.2 0M57.9 74.3a1.1 1.1 0 1 0 2.2 0a1.1 1.1 0 1 0 -2.2 0M57.9 71.1a1.1 1.1 0 1 0 2.2 0a1.1 1.1 0 1 0 -2.2 0M66.4 77.0a1.1 1.1 0 1 0 2.2 0a1.1 1.1 0 1 0 -2.2 0M62.2 72.9a1.1 1.1 0 1 0 2.2 0a1.1 1.1 0 1 0 -2.2 0M54.2 87.8a1.1 1.1 0 1 0 2.2 0a1.1 1.1 0 1 0 -2.2 0M63.4 73.4a1.1 1.1 0 1 0 2.2 0a1.1 1.1 0 1 0 -2.2 0M65.9 67.6a1.1 1.1 0 1 0 2.2 0a1.1 1.1 0 1 0 -2.2 0M60.9 82.3a1.1 1.1 0 1 0 2.2 0a1.1 1.1 0 1 0 -2.2 0M67.1 75.7a1.1 1.1 0 1 0 2.2 0a1.1 1.1 0 1 0 -2.2 0M57.1 79.5a1.1 1.1 0 1 0 2.2 0a1.1 1.1 0 1 0 -2.2 0M66.5 77.6a1.1 1.1 0 1 0 2.2 0a1.1 1.1 0 1 0 -2.2 0M62.8 73.8a1.1 1.1 0 1 0 2.2 0a1.1 1.1 0 1 0 -2.2 0M62.6 74.6a1.1 1.1 0 1 0 2.2 0a1.1 1.1 0 1 0 -2.2 0M68.6 72.5a1.1 1.1 0 1 0 2.2 0a1.1 1.1 0 1 0 -2.2 0M65.2 83.6a1.1 1.1 0 1 0 2.2 0a1.1 1.1 0 1 0 -2.2 0M60.2 80.2a1.1 1.1 0 1 0 2.2 0a1.1 1.1 0 1 0 -2.2 0M64.3 71.4a1.1 1.1 0 1 0 2.2 0a1.1 1.1 0 1 0 -2.2 0M58.4 81.7a1.1 1.1 0 1 0 2.2 0a1.1 1.1 0 1 0 -2.2 0M64.3 79.9a1.1 1.1 0 1 0 2.2 0a1.1 1.1 0 1 0 -2.2 0M68.3 70.0a1.1 1.1 0 1 0 2.2 0a1.1 1.1 0 1 0 -2.2 0M67.8 73.6a1.1 1.1 0 1 0 2.2 0a1.1 1.1 0 1 0 -2.2 0M58.2 79.0a1.1 1.1 0 1 0 2.2 0a1.1 1.1 0 1 0 -2.2 0M60.6 78.5a1.1 1.1 0 1 0 2.2 0a1.1 1.1 0 1 0 -2.2 0M64.9 86.4a1.1 1.1 0 1 0 2.2 0a1.1 1.1 0 1 0 -2.2 0M64.7 77.2a1.1 1.1 0 1 0 2.2 0a1.1 1.1 0 1 0 -2.2 0M58.0 81.5a1.1 1.1 0 1 0 2.2 0a1.1 1.1 0 1 0 -2.2 0M62.8 75.1a1.1 1.1 0 1 0 2.2 0a1.1 1.1 0 1 0 -2.2 0M63.7 76.7a1.1 1.1 0 1 0 2.2 0a1.1 1.1 0 1 0 -2.2 0M69.3 77.3a1.1 1.1 0 1 0 2.2 0a1.1 1.1 0 1 0 -2.2 0M62.9 77.0a1.1 1.1 0 1 0 2.2 0a1.1 1.1 0 1 0 -2.2 0M61.3 78.1a1.1 1.1 0 1 0 2.2 0a1.1 1.1 0 1 0 -2.2 0M56.3 77.6a1.1 1.1 0 1 0 2.2 0a1.1 1.1 0 1 0 -2.2 0M54.9 69.9a1.1 1.1 0 1 0 2.2 0a1.1 1.1 0 1 0 -2.2 0M66.3 80.3a1.1 1.1 0 1 0 2.2 0a1.1 1.1 0 1 0 -2.2 0M62.1 72.1a1.1 1.1 0 1 0 2.2 0a1.1 1.1 0 1 0 -2.2 0M59.5 80.9a1.1 1.1 0 1 0 2.2 0a1.1 1.1 0 1 0 -2.2 0M66.6 80.1a1.1 1.1 0 1 0 2.2 0a1.1 1.1 0 1 0 -2.2 0M64.1 80.3a1.1 1.1 0 1 0 2.2 0a1.1 1.1 0 1 0 -2.2 0M61.2 74.6a1.1 1.1 0 1 0 2.2 0a1.1 1.1 0 1 0 -2.2 0M65.3 78.5a1.1 1.1 0 1 0 2.2 0a1.1 1.1 0 1 0 -2.2 0M59.7 80.5a1.1 1.1 0 1 0 2.2 0a1.1 1.1 0 1 0 -2.2 0M65.3 74.9a1.1 1.1 0 1 0 2.2 0a1.1 1.1 0 1 0 -2.2 0M63.7 70.6a1.1 1.1 0 1 0 2.2 0a1.1 1.1 0 1 0 -2.2 0M59.6 85.0a1.1 1.1 0 1 0 2.2 0a1.1 1.1 0 1 0 -2.2 0M59.8 76.2a1.1 1.1 0 1 0 2.2 0a1.1 1.1 0 1 0 -2.2 0M58.1 75.0a1.1 1.1 0 1 0 2.2 0a1.1 1.1 0 1 0 -2.2 0M66.2 72.8a1.1 1.1 0 1 0 2.2 0a1.1 1.1 0 1 0 -2.2 0M61.1 71.7a1.1 1.1 0 1 0 2.2 0a1.1 1.1 0 1 0 -2.2 0M56.7 65.2a1.1 1.1 0 1 0 2.2 0a1.1 1.1 0 1 0 -2.2 0M65.4 72.4a1.1 1.1 0 1 0 2.2 0a1.1 1.1 0 1 0 -2.2 0M64.2 72.4a1.1 1.1 0 1 0 2.2 0a1.1 1.1 0 1 0 -2.2 0M61.8 73.4a1.1 1.1 0 1 0 2.2 0a1.1 1.1 0 1 0 -2.2 0M62.8 86.0a1.1 1.1 0 1 0 2.2 0a1.1 1.1 0 1 0 -2.2 0M59.9 76.8a1.1 1.1 0 1 0 2.2 0a1.1 1.1 0 1 0 -2.2 0M58.8 75.5a1.1 1.1 0 1 0 2.2 0a1.1 1.1 0 1 0 -2.2 0M66.0 77.7a1.1 1.1 0 1 0 2.2 0a1.1 1.1 0 1 0 -2.2 0M56.1 73.9a1.1 1.1 0 1 0 2.2 0a1.1 1.1 0 1 0 -2.2 0M54.1 83.2a1.1 1.1 0 1 0 2.2 0a1.1 1.1 0 1 0 -2.2 0M55.1 82.9a1.1 1.1 0 1 0 2.2 0a1.1 1.1 0 1 0 -2.2 0M66.0 74.0a1.1 1.1 0 1 0 2.2 0a1.1 1.1 0 1 0 -2.2 0M56.4 81.9a1.1 1.1 0 1 0 2.2 0a1.1 1.1 0 1 0 -2.2 0M60.3 80.8a1.1 1.1 0 1 0 2.2 0a1.1 1.1 0 1 0 -2.2 0M58.1 89.4a1.1 1.1 0 1 0 2.2 0a1.1 1.1 0 1 0 -2.2 0M56.6 83.1a1.1 1.1 0 1 0 2.2 0a1.1 1.1 0 1 0 -2.2 0M60.8 71.2a1.1 1.1 0 1 0 2.2 0a1.1 1.1 0 1 0 -2.2 0M61.0 75.7a1.1 1.1 0 1 0 2.2 0a1.1 1.1 0 1 0 -2.2 0M71.4 81.1a1.1 1.1 0 1 0 2.2 0a1.1 1.1 0 1 0 -2.2 0M60.0 80.1a1.1 1.1 0 1 0 2.2 0a1.1 1.1 0 1 0 -2.2 0M62.9 83.1a1.1 1.1 0 1 0 2.2 0a1.1 1.1 0 1 0 -2.2 0M71.7 76.9a1.1 1.1 0 1 0 2.2 0a1.1 1.1 0 1 0 -2.2 0M68.7 78.7a1.1 1.1 0 1 0 2.2 0a1.1 1.1 0 1 0 -2.2 0M64.8 84.1a1.1 1.1 0 1 0 2.2 0a1.1 1.1 0 1 0 -2.2 0M66.2 80.2a1.1 1.1 0 1 0 2.2 0a1.1 1.1 0 1 0 -2.2 0M61.6 77.4a1.1 1.1 0 1 0 2.2 0a1.1 1.1 0 1 0 -2.2 0M65.9 88.3a1.1 1.1 0 1 0 2.2 0a1.1 1.1 0 1 0 -2.2 0M63.1 77.2a1.1 1.1 0 1 0 2.2 0a1.1 1.1 0 1 0 -2.2 0M57.7 78.3a1.1 1.1 0 1 0 2.2 0a1.1 1.1 0 1 0 -2.2 0M70.4 73.7a1.1 1.1 0 1 0 2.2 0a1.1 1.1 0 1 0 -2.2 0M61.8 78.8a1.1 1.1 0 1 0 2.2 0a1.1 1.1 0 1 0 -2.2 0M64.7 69.8a1.1 1.1 0 1 0 2.2 0a1.1 1.1 0 1 0 -2.2 0M59.3 84.5a1.1 1.1 0 1 0 2.2 0a1.1 1.1 0 1 0 -2.2 0M55.8 67.6a1.1 1.1 0 1 0 2.2 0a1.1 1.1 0 1 0 -2.2 0M53.1 81.5a1.1 1.1 0 1 0 2.2 0a1.1 1.1 0 1 0 -2.2 0M45.4 73.7a1.1 1.1 0 1 0 2.2 0a1.1 1.1 0 1 0 -2.2 0M64.8 79.1a1.1 1.1 0 1 0 2.2 0a1.1 1.1 0 1 0 -2.2 0M53.1 84.3a1.1 1.1 0 1 0 2.2 0a1.1 1.1 0 1 0 -2.2 0M59.1 77.6a1.1 1.1 0 1 0 2.2 0a1.1 1.1 0 1 0 -2.2 0M61.8 79.8a1.1 1.1 0 1 0 2.2 0a1.1 1.1 0 1 0 -2.2 0M54.4 74.6a1.1 1.1 0 1 0 2.2 0a1.1 1.1 0 1 0 -2.2 0M59.2 76.1a1.1 1.1 0 1 0 2.2 0a1.1 1.1 0 1 0 -2.2 0M63.6 83.0a1.1 1.1 0 1 0 2.2 0a1.1 1.1 0 1 0 -2.2 0M60.5 74.2a1.1 1.1 0 1 0 2.2 0a1.1 1.1 0 1 0 -2.2 0M64.6 81.5a1.1 1.1 0 1 0 2.2 0a1.1 1.1 0 1 0 -2.2 0M48.5 78.4a1.1 1.1 0 1 0 2.2 0a1.1 1.1 0 1 0 -2.2 0M64.7 75.7a1.1 1.1 0 1 0 2.2 0a1.1 1.1 0 1 0 -2.2 0M66.0 81.8a1.1 1.1 0 1 0 2.2 0a1.1 1.1 0 1 0 -2.2 0M55.1 73.2a1.1 1.1 0 1 0 2.2 0a1.1 1.1 0 1 0 -2.2 0M65.6 79.0a1.1 1.1 0 1 0 2.2 0a1.1 1.1 0 1 0 -2.2 0M59.8 71.5a1.1 1.1 0 1 0 2.2 0a1.1 1.1 0 1 0 -2.2 0M95.6 62.9a1.1 1.1 0 1 0 2.2 0a1.1 1.1 0 1 0 -2.2 0M93.5 65.6a1.1 1.1 0 1 0 2.2 0a1.1 1.1 0 1 0 -2.2 0M94.3 58.2a1.1 1.1 0 1 0 2.2 0a1.1 1.1 0 1 0 -2.2 0M99.7 63.3a1.1 1.1 0 1 0 2.2 0a1.1 1.1 0 1 0 -2.2 0M97.7 59.0a1.1 1.1 0 1 0 2.2 0a1.1 1.1 0 1 0 -2.2 0M97.3 61.9a1.1 1.1 0 1 0 2.2 0a1.1 1.1 0 1 0 -2.2 0M97.1 62.8a1.1 1.1 0 1 0 2.2 0a1.1 1.1 0 1 0 -2.2 0M95.5 64.0a1.1 1.1 0 1 0 2.2 0a1.1 1.1 0 1 0 -2.2 0M94.5 62.0a1.1 1.1 0 1 0 2.2 0a1.1 1.1 0 1 0 -2.2 0M91.5 60.1a1.1 1.1 0 1 0 2.2 0a1.1 1.1 0 1 0 -2.2 0M102.1 60.4a1.1 1.1 0 1 0 2.2 0a1.1 1.1 0 1 0 -2.2 0M97.1 64.6a1.1 1.1 0 1 0 2.2 0a1.1 1.1 0 1 0 -2.2 0M96.8 64.6a1.1 1.1 0 1 0 2.2 0a1.1 1.1 0 1 0 -2.2 0M97.5 64.1a1.1 1.1 0 1 0 2.2 0a1.1 1.1 0 1 0 -2.2 0M95.6 66.6a1.1 1.1 0 1 0 2.2 0a1.1 1.1 0 1 0 -2.2 0M101.2 61.4a1.1 1.1 0 1 0 2.2 0a1.1 1.1 0 1 0 -2.2 0M94.1 61.7a1.1 1.1 0 1 0 2.2 0a1.1 1.1 0 1 0 -2.2 0M94.1 64.9a1.1 1.1 0 1 0 2.2 0a1.1 1.1 0 1 0 -2.2 0M99.0 56.8a1.1 1.1 0 1 0 2.2 0a1.1 1.1 0 1 0 -2.2 0M98.8 60.0a1.1 1.1 0 1 0 2.2 0a1.1 1.1 0 1 0 -2.2 0M97.6 61.1a1.1 1.1 0 1 0 2.2 0a1.1 1.1 0 1 0 -2.2 0M95.9 65.0a1.1 1.1 0 1 0 2.2 0a1.1 1.1 0 1 0 -2.2 0M99.2 59.0a1.1 1.1 0 1 0 2.2 0a1.1 1.1 0 1 0 -2.2 0M95.5 61.4a1.1 1.1 0 1 0 2.2 0a1.1 1.1 0 1 0 -2.2 0M95.8 60.3a1.1 1.1 0 1 0 2.2 0a1.1 1.1 0 1 0 -2.2 0M99.3 61.2a1.1 1.1 0 1 0 2.2 0a1.1 1.1 0 1 0 -2.2 0M94.1 57.9a1.1 1.1 0 1 0 2.2 0a1.1 1.1 0 1 0 -2.2 0M91.8 57.7a1.1 1.1 0 1 0 2.2 0a1.1 1.1 0 1 0 -2.2 0M92.2 68.7a1.1 1.1 0 1 0 2.2 0a1.1 1.1 0 1 0 -2.2 0M100.2 62.8a1.1 1.1 0 1 0 2.2 0a1.1 1.1 0 1 0 -2.2 0M90.7 66.7a1.1 1.1 0 1 0 2.2 0a1.1 1.1 0 1 0 -2.2 0M94.1 63.8a1.1 1.1 0 1 0 2.2 0a1.1 1.1 0 1 0 -2.2 0M92.5 62.0a1.1 1.1 0 1 0 2.2 0a1.1 1.1 0 1 0 -2.2 0M92.3 59.5a1.1 1.1 0 1 0 2.2 0a1.1 1.1 0 1 0 -2.2 0M95.0 63.5a1.1 1.1 0 1 0 2.2 0a1.1 1.1 0 1 0 -2.2 0M95.3 58.9a1.1 1.1 0 1 0 2.2 0a1.1 1.1 0 1 0 -2.2 0M95.8 64.5a1.1 1.1 0 1 0 2.2 0a1.1 1.1 0 1 0 -2.2 0M88.5 66.7a1.1 1.1 0 1 0 2.2 0a1.1 1.1 0 1 0 -2.2 0M93.6 59.0a1.1 1.1 0 1 0 2.2 0a1.1 1.1 0 1 0 -2.2 0M92.6 64.4a1.1 1.1 0 1 0 2.2 0a1.1 1.1 0 1 0 -2.2 0M92.1 58.9a1.1 1.1 0 1 0 2.2 0a1.1 1.1 0 1 0 -2.2 0M91.1 62.4a1.1 1.1 0 1 0 2.2 0a1.1 1.1 0 1 0 -2.2 0M96.1 64.3a1.1 1.1 0 1 0 2.2 0a1.1 1.1 0 1 0 -2.2 0M93.7 61.0a1.1 1.1 0 1 0 2.2 0a1.1 1.1 0 1 0 -2.2 0M97.0 60.3a1.1 1.1 0 1 0 2.2 0a1.1 1.1 0 1 0 -2.2 0M87.3 74.9a1.1 1.1 0 1 0 2.2 0a1.1 1.1 0 1 0 -2.2 0M87.9 74.0a1.1 1.1 0 1 0 2.2 0a1.1 1.1 0 1 0 -2.2 0M95.3 69.7a1.1 1.1 0 1 0 2.2 0a1.1 1.1 0 1 0 -2.2 0M92.8 75.1a1.1 1.1 0 1 0 2.2 0a1.1 1.1 0 1 0 -2.2 0M93.1 75.7a1.1 1.1 0 1 0 2.2 0a1.1 1.1 0 1 0 -2.2 0M83.0 69.5a1.1 1.1 0 1 0 2.2 0a1.1 1.1 0 1 0 -2.2 0M89.4 69.4a1.1 1.1 0 1 0 2.2 0a1.1 1.1 0 1 0 -2.2 0M87.0 70.9a1.1 1.1 0 1 0 2.2 0a1.1 1.1 0 1 0 -2.2 0M91.4 73.3a1.1 1.1 0 1 0 2.2 0a1.1 1.1 0 1 0 -2.2 0M85.8 69.3a1.1 1.1 0 1 0 2.2 0a1.1 1.1 0 1 0 -2.2 0M95.7 75.8a1.1 1.1 0 1 0 2.2 0a1.1 1.1 0 1 0 -2.2 0M104.2 72.8a1.1 1.1 0 1 0 2.2 0a1.1 1.1 0 1 0 -2.2 0M91.6 74.7a1.1 1.1 0 1 0 2.2 0a1.1 1.1 0 1 0 -2.2 0M88.2 70.6a1.1 1.1 0 1 0 2.2 0a1.1 1.1 0 1 0 -2.2 0M94.9 69.7a1.1 1.1 0 1 0 2.2 0a1.1 1.1 0 1 0 -2.2 0M82.9 73.5a1.1 1.1 0 1 0 2.2 0a1.1 1.1 0 1 0 -2.2 0M88.4 78.4a1.1 1.1 0 1 0 2.2 0a1.1 1.1 0 1 0 -2.2 0M95.3 74.7a1.1 1.1 0 1 0 2.2 0a1.1 1.1 0 1 0 -2.2 0M89.2 76.4a1.1 1.1 0 1 0 2.2 0a1.1 1.1 0 1 0 -2.2 0M90.9 71.2a1.1 1.1 0 1 0 2.2 0a1.1 1.1 0 1 0 -2.2 0M97.8 70.7a1.1 1.1 0 1 0 2.2 0a1.1 1.1 0 1 0 -2.2 0M92.2 72.4a1.1 1.1 0 1 0 2.2 0a1.1 1.1 0 1 0 -2.2 0M93.9 74.3a1.1 1.1 0 1 0 2.2 0a1.1 1.1 0 1 0 -2.2 0M86.3 72.6a1.1 1.1 0 1 0 2.2 0a1.1 1.1 0 1 0 -2.2 0M101.6 68.9a1.1 1.1 0 1 0 2.2 0a1.1 1.1 0 1 0 -2.2 0M89.3 67.8a1.1 1.1 0 1 0 2.2 0a1.1 1.1 0 1 0 -2.2 0M93.4 73.2a1.1 1.1 0 1 0 2.2 0a1.1 1.1 0 1 0 -2.2 0M91.5 71.9a1.1 1.1 0 1 0 2.2 0a1.1 1.1 0 1 0 -2.2 0M90.9 80.4a1.1 1.1 0 1 0 2.2 0a1.1 1.1 0 1 0 -2.2 0M85.0 70.6a1.1 1.1 0 1 0 2.2 0a1.1 1.1 0 1 0 -2.2 0M89.9 69.5a1.1 1.1 0 1 0 2.2 0a1.1 1.1 0 1 0 -2.2 0M91.7 74.4a1.1 1.1 0 1 0 2.2 0a1.1 1.1 0 1 0 -2.2 0M98.1 71.3a1.1 1.1 0 1 0 2.2 0a1.1 1.1 0 1 0 -2.2 0M92.1 72.3a1.1 1.1 0 1 0 2.2 0a1.1 1.1 0 1 0 -2.2 0M89.1 75.1a1.1 1.1 0 1 0 2.2 0a1.1 1.1 0 1 0 -2.2 0M92.3 69.2a1.1 1.1 0 1 0 2.2 0a1.1 1.1 0 1 0 -2.2 0M92.1 70.7a1.1 1.1 0 1 0 2.2 0a1.1 1.1 0 1 0 -2.2 0M90.8 70.1a1.1 1.1 0 1 0 2.2 0a1.1 1.1 0 1 0 -2.2 0M92.6 70.0a1.1 1.1 0 1 0 2.2 0a1.1 1.1 0 1 0 -2.2 0M99.3 70.0a1.1 1.1 0 1 0 2.2 0a1.1 1.1 0 1 0 -2.2 0M91.3 71.1a1.1 1.1 0 1 0 2.2 0a1.1 1.1 0 1 0 -2.2 0M85.0 76.0a1.1 1.1 0 1 0 2.2 0a1.1 1.1 0 1 0 -2.2 0M88.7 71.5a1.1 1.1 0 1 0 2.2 0a1.1 1.1 0 1 0 -2.2 0M89.9 69.0a1.1 1.1 0 1 0 2.2 0a1.1 1.1 0 1 0 -2.2 0M87.8 71.5a1.1 1.1 0 1 0 2.2 0a1.1 1.1 0 1 0 -2.2 0M92.1 69.9a1.1 1.1 0 1 0 2.2 0a1.1 1.1 0 1 0 -2.2 0M96.0 72.2a1.1 1.1 0 1 0 2.2 0a1.1 1.1 0 1 0 -2.2 0M81.7 71.8a1.1 1.1 0 1 0 2.2 0a1.1 1.1 0 1 0 -2.2 0M85.9 69.6a1.1 1.1 0 1 0 2.2 0a1.1 1.1 0 1 0 -2.2 0M89.0 71.1a1.1 1.1 0 1 0 2.2 0a1.1 1.1 0 1 0 -2.2 0M94.5 73.7a1.1 1.1 0 1 0 2.2 0a1.1 1.1 0 1 0 -2.2 0M82.4 75.9a1.1 1.1 0 1 0 2.2 0a1.1 1.1 0 1 0 -2.2 0M96.2 71.7a1.1 1.1 0 1 0 2.2 0a1.1 1.1 0 1 0 -2.2 0M98.8 76.0a1.1 1.1 0 1 0 2.2 0a1.1 1.1 0 1 0 -2.2 0M97.2 75.1a1.1 1.1 0 1 0 2.2 0a1.1 1.1 0 1 0 -2.2 0M92.5 68.0a1.1 1.1 0 1 0 2.2 0a1.1 1.1 0 1 0 -2.2 0M84.9 70.4a1.1 1.1 0 1 0 2.2 0a1.1 1.1 0 1 0 -2.2 0M88.8 62.3a1.1 1.1 0 1 0 2.2 0a1.1 1.1 0 1 0 -2.2 0M88.1 68.7a1.1 1.1 0 1 0 2.2 0a1.1 1.1 0 1 0 -2.2 0M91.8 71.2a1.1 1.1 0 1 0 2.2 0a1.1 1.1 0 1 0 -2.2 0M58.7 84.7a1.1 1.1 0 1 0 2.2 0a1.1 1.1 0 1 0 -2.2 0M60.9 80.3a1.1 1.1 0 1 0 2.2 0a1.1 1.1 0 1 0 -2.2 0M58.6 78.8a1.1 1.1 0 1 0 2.2 0a1.1 1.1 0 1 0 -2.2 0M63.7 84.5a1.1 1.1 0 1 0 2.2 0a1.1 1.1 0 1 0 -2.2 0M61.4 87.9a1.1 1.1 0 1 0 2.2 0a1.1 1.1 0 1 0 -2.2 0M63.6 83.2a1.1 1.1 0 1 0 2.2 0a1.1 1.1 0 1 0 -2.2 0M61.1 79.8a1.1 1.1 0 1 0 2.2 0a1.1 1.1 0 1 0 -2.2 0M62.6 82.6a1.1 1.1 0 1 0 2.2 0a1.1 1.1 0 1 0 -2.2 0M64.1 78.6a1.1 1.1 0 1 0 2.2 0a1.1 1.1 0 1 0 -2.2 0M57.2 79.1a1.1 1.1 0 1 0 2.2 0a1.1 1.1 0 1 0 -2.2 0M69.0 81.8a1.1 1.1 0 1 0 2.2 0a1.1 1.1 0 1 0 -2.2 0M62.4 84.2a1.1 1.1 0 1 0 2.2 0a1.1 1.1 0 1 0 -2.2 0M63.3 82.7a1.1 1.1 0 1 0 2.2 0a1.1 1.1 0 1 0 -2.2 0M60.2 80.1a1.1 1.1 0 1 0 2.2 0a1.1 1.1 0 1 0 -2.2 0M58.3 77.4a1.1 1.1 0 1 0 2.2 0a1.1 1.1 0 1 0 -2.2 0M57.5 86.0a1.1 1.1 0 1 0 2.2 0a1.1 1.1 0 1 0 -2.2 0M60.3 83.3a1.1 1.1 0 1 0 2.2 0a1.1 1.1 0 1 0 -2.2 0M57.6 87.2a1.1 1.1 0 1 0 2.2 0a1.1 1.1 0 1 0 -2.2 0M55.9 80.8a1.1 1.1 0 1 0 2.2 0a1.1 1.1 0 1 0 -2.2 0M65.6 75.1a1.1 1.1 0 1 0 2.2 0a1.1 1.1 0 1 0 -2.2 0M62.8 85.0a1.1 1.1 0 1 0 2.2 0a1.1 1.1 0 1 0 -2.2 0M62.2 86.8a1.1 1.1 0 1 0 2.2 0a1.1 1.1 0 1 0 -2.2 0M59.1 86.7a1.1 1.1 0 1 0 2.2 0a1.1 1.1 0 1 0 -2.2 0M62.3 84.3a1.1 1.1 0 1 0 2.2 0a1.1 1.1 0 1 0 -2.2 0M62.0 83.2a1.1 1.1 0 1 0 2.2 0a1.1 1.1 0 1 0 -2.2 0M64.7 83.5a1.1 1.1 0 1 0 2.2 0a1.1 1.1 0 1 0 -2.2 0M60.8 81.6a1.1 1.1 0 1 0 2.2 0a1.1 1.1 0 1 0 -2.2 0M64.3 87.7a1.1 1.1 0 1 0 2.2 0a1.1 1.1 0 1 0 -2.2 0M67.7 84.9a1.1 1.1 0 1 0 2.2 0a1.1 1.1 0 1 0 -2.2 0M62.2 77.9a1.1 1.1 0 1 0 2.2 0a1.1 1.1 0 1 0 -2.2 0M66.8 84.3a1.1 1.1 0 1 0 2.2 0a1.1 1.1 0 1 0 -2.2 0M53.7 79.5a1.1 1.1 0 1 0 2.2 0a1.1 1.1 0 1 0 -2.2 0M61.0 83.9a1.1 1.1 0 1 0 2.2 0a1.1 1.1 0 1 0 -2.2 0M65.9 80.3a1.1 1.1 0 1 0 2.2 0a1.1 1.1 0 1 0 -2.2 0M63.7 86.1a1.1 1.1 0 1 0 2.2 0a1.1 1.1 0 1 0 -2.2 0M67.3 81.1a1.1 1.1 0 1 0 2.2 0a1.1 1.1 0 1 0 -2.2 0M60.6 82.6a1.1 1.1 0 1 0 2.2 0a1.1 1.1 0 1 0 -2.2 0M67.2 84.1a1.1 1.1 0 1 0 2.2 0a1.1 1.1 0 1 0 -2.2 0M54.2 83.4a1.1 1.1 0 1 0 2.2 0a1.1 1.1 0 1 0 -2.2 0M58.3 81.9a1.1 1.1 0 1 0 2.2 0a1.1 1.1 0 1 0 -2.2 0M27.8 65.3a1.1 1.1 0 1 0 2.2 0a1.1 1.1 0 1 0 -2.2 0M25.9 68.1a1.1 1.1 0 1 0 2.2 0a1.1 1.1 0 1 0 -2.2 0M36.3 68.7a1.1 1.1 0 1 0 2.2 0a1.1 1.1 0 1 0 -2.2 0M34.7 72.2a1.1 1.1 0 1 0 2.2 0a1.1 1.1 0 1 0 -2.2 0M37.8 71.9a1.1 1.1 0 1 0 2.2 0a1.1 1.1 0 1 0 -2.2 0M35.2 75.0a1.1 1.1 0 1 0 2.2 0a1.1 1.1 0 1 0 -2.2 0M31.2 77.3a1.1 1.1 0 1 0 2.2 0a1.1 1.1 0 1 0 -2.2 0M33.7 77.3a1.1 1.1 0 1 0 2.2 0a1.1 1.1 0 1 0 -2.2 0M26.6 78.8a1.1 1.1 0 1 0 2.2 0a1.1 1.1 0 1 0 -2.2 0M44.4 66.3a1.1 1.1 0 1 0 2.2 0a1.1 1.1 0 1 0 -2.2 0M44.9 68.9a1.1 1.1 0 1 0 2.2 0a1.1 1.1 0 1 0 -2.2 0M47.5 70.9a1.1 1.1 0 1 0 2.2 0a1.1 1.1 0 1 0 -2.2 0M43.4 73.5a1.1 1.1 0 1 0 2.2 0a1.1 1.1 0 1 0 -2.2 0M45.5 74.0a1.1 1.1 0 1 0 2.2 0a1.1 1.1 0 1 0 -2.2 0M47.0 74.5a1.1 1.1 0 1 0 2.2 0a1.1 1.1 0 1 0 -2.2 0M50.6 73.0a1.1 1.1 0 1 0 2.2 0a1.1 1.1 0 1 0 -2.2 0M51.6 75.0a1.1 1.1 0 1 0 2.2 0a1.1 1.1 0 1 0 -2.2 0M45.5 78.6a1.1 1.1 0 1 0 2.2 0a1.1 1.1 0 1 0 -2.2 0M53.1 70.4a1.1 1.1 0 1 0 2.2 0a1.1 1.1 0 1 0 -2.2 0M27.6 85.0a1.1 1.1 0 1 0 2.2 0a1.1 1.1 0 1 0 -2.2 0M40.3 87.7a1.1 1.1 0 1 0 2.2 0a1.1 1.1 0 1 0 -2.2 0M37.1 81.2a1.1 1.1 0 1 0 2.2 0a1.1 1.1 0 1 0 -2.2 0M38.9 80.5a1.1 1.1 0 1 0 2.2 0a1.1 1.1 0 1 0 -2.2 0M35.7 68.9a1.1 1.1 0 1 0 2.2 0a1.1 1.1 0 1 0 -2.2 0M37.1 71.6a1.1 1.1 0 1 0 2.2 0a1.1 1.1 0 1 0 -2.2 0M34.9 73.1a1.1 1.1 0 1 0 2.2 0a1.1 1.1 0 1 0 -2.2 0M31.5 76.5a1.1 1.1 0 1 0 2.2 0a1.1 1.1 0 1 0 -2.2 0M26.9 78.2a1.1 1.1 0 1 0 2.2 0a1.1 1.1 0 1 0 -2.2 0M36.6 82.2a1.1 1.1 0 1 0 2.2 0a1.1 1.1 0 1 0 -2.2 0M44.2 66.3a1.1 1.1 0 1 0 2.2 0a1.1 1.1 0 1 0 -2.2 0M45.4 68.0a1.1 1.1 0 1 0 2.2 0a1.1 1.1 0 1 0 -2.2 0M43.4 73.7a1.1 1.1 0 1 0 2.2 0a1.1 1.1 0 1 0 -2.2 0M45.9 73.1a1.1 1.1 0 1 0 2.2 0a1.1 1.1 0 1 0 -2.2 0M47.6 70.6a1.1 1.1 0 1 0 2.2 0a1.1 1.1 0 1 0 -2.2 0M49.3 71.1a1.1 1.1 0 1 0 2.2 0a1.1 1.1 0 1 0 -2.2 0M45.1 77.4a1.1 1.1 0 1 0 2.2 0a1.1 1.1 0 1 0 -2.2 0M50.2 78.2a1.1 1.1 0 1 0 2.2 0a1.1 1.1 0 1 0 -2.2 0M54.4 65.5a1.1 1.1 0 1 0 2.2 0a1.1 1.1 0 1 0 -2.2 0M58.7 55.0a1.1 1.1 0 1 0 2.2 0a1.1 1.1 0 1 0 -2.2 0M121.0 55.9a1.1 1.1 0 1 0 2.2 0a1.1 1.1 0 1 0 -2.2 0M114.4 51.4a1.1 1.1 0 1 0 2.2 0a1.1 1.1 0 1 0 -2.2 0M109.5 51.4a1.1 1.1 0 1 0 2.2 0a1.1 1.1 0 1 0 -2.2 0M111.1 56.1a1.1 1.1 0 1 0 2.2 0a1.1 1.1 0 1 0 -2.2 0M107.7 59.8a1.1 1.1 0 1 0 2.2 0a1.1 1.1 0 1 0 -2.2 0M111.5 59.8a1.1 1.1 0 1 0 2.2 0a1.1 1.1 0 1 0 -2.2 0M113.3 67.6a1.1 1.1 0 1 0 2.2 0a1.1 1.1 0 1 0 -2.2 0M119.9 68.7a1.1 1.1 0 1 0 2.2 0a1.1 1.1 0 1 0 -2.2 0M121.0 67.1a1.1 1.1 0 1 0 2.2 0a1.1 1.1 0 1 0 -2.2 0M105.5 74.2a1.1 1.1 0 1 0 2.2 0a1.1 1.1 0 1 0 -2.2 0M107.7 75.3a1.1 1.1 0 1 0 2.2 0a1.1 1.1 0 1 0 -2.2 0M112.6 76.4a1.1 1.1 0 1 0 2.2 0a1.1 1.1 0 1 0 -2.2 0M104.4 76.4a1.1 1.1 0 1 0 2.2 0a1.1 1.1 0 1 0 -2.2 0M125.4 74.2a1.1 1.1 0 1 0 2.2 0a1.1 1.1 0 1 0 -2.2 0M128.7 73.5a1.1 1.1 0 1 0 2.2 0a1.1 1.1 0 1 0 -2.2 0M134.3 72.0a1.1 1.1 0 1 0 2.2 0a1.1 1.1 0 1 0 -2.2 0M134.3 76.4a1.1 1.1 0 1 0 2.2 0a1.1 1.1 0 1 0 -2.2 0M135.4 62.7a1.1 1.1 0 1 0 2.2 0a1.1 1.1 0 1 0 -2.2 0M138.2 71.3a1.1 1.1 0 1 0 2.2 0a1.1 1.1 0 1 0 -2.2 0M137.6 68.7a1.1 1.1 0 1 0 2.2 0a1.1 1.1 0 1 0 -2.2 0M144.9 64.3a1.1 1.1 0 1 0 2.2 0a1.1 1.1 0 1 0 -2.2 0M154.6 78.0a1.1 1.1 0 1 0 2.2 0a1.1 1.1 0 1 0 -2.2 0M159.7 68.7a1.1 1.1 0 1 0 2.2 0a1.1 1.1 0 1 0 -2.2 0M161.9 73.1a1.1 1.1 0 1 0 2.2 0a1.1 1.1 0 1 0 -2.2 0M167.4 74.2a1.1 1.1 0 1 0 2.2 0a1.1 1.1 0 1 0 -2.2 0M169.2 69.8a1.1 1.1 0 1 0 2.2 0a1.1 1.1 0 1 0 -2.2 0M109.9 50.5a1.1 1.1 0 1 0 2.2 0a1.1 1.1 0 1 0 -2.2 0M114.1 51.9a1.1 1.1 0 1 0 2.2 0a1.1 1.1 0 1 0 -2.2 0M112.4 56.1a1.1 1.1 0 1 0 2.2 0a1.1 1.1 0 1 0 -2.2 0M109.0 60.0a1.1 1.1 0 1 0 2.2 0a1.1 1.1 0 1 0 -2.2 0M104.5 63.0a1.1 1.1 0 1 0 2.2 0a1.1 1.1 0 1 0 -2.2 0M105.1 74.8a1.1 1.1 0 1 0 2.2 0a1.1 1.1 0 1 0 -2.2 0M109.9 75.7a1.1 1.1 0 1 0 2.2 0a1.1 1.1 0 1 0 -2.2 0M111.9 76.5a1.1 1.1 0 1 0 2.2 0a1.1 1.1 0 1 0 -2.2 0M99.7 58.4a1.1 1.1 0 1 0 2.2 0a1.1 1.1 0 1 0 -2.2 0M93.7 57.0a1.1 1.1 0 1 0 2.2 0a1.1 1.1 0 1 0 -2.2 0M94.6 58.7a1.1 1.1 0 1 0 2.2 0a1.1 1.1 0 1 0 -2.2 0M92.0 80.8a1.1 1.1 0 1 0 2.2 0a1.1 1.1 0 1 0 -2.2 0M81.0 84.5a1.1 1.1 0 1 0 2.2 0a1.1 1.1 0 1 0 -2.2 0M76.7 82.5a1.1 1.1 0 1 0 2.2 0a1.1 1.1 0 1 0 -2.2 0M70.8 85.9a1.1 1.1 0 1 0 2.2 0a1.1 1.1 0 1 0 -2.2 0M64.0 82.5a1.1 1.1 0 1 0 2.2 0a1.1 1.1 0 1 0 -2.2 0M70.3 85.7a1.1 1.1 0 1 0 2.2 0a1.1 1.1 0 1 0 -2.2 0M76.0 82.9a1.1 1.1 0 1 0 2.2 0a1.1 1.1 0 1 0 -2.2 0M80.8 84.0a1.1 1.1 0 1 0 2.2 0a1.1 1.1 0 1 0 -2.2 0M80.0 85.6a1.1 1.1 0 1 0 2.2 0a1.1 1.1 0 1 0 -2.2 0M91.5 81.0a1.1 1.1 0 1 0 2.2 0a1.1 1.1 0 1 0 -2.2 0M76.9 81.7a1.1 1.1 0 1 0 2.2 0a1.1 1.1 0 1 0 -2.2 0M94.6 77.2a1.1 1.1 0 1 0 2.2 0a1.1 1.1 0 1 0 -2.2 0M109.9 54.2a1.1 1.1 0 1 0 2.2 0a1.1 1.1 0 1 0 -2.2 0M102.2 55.4a1.1 1.1 0 1 0 2.2 0a1.1 1.1 0 1 0 -2.2 0M106.1 59.5a1.1 1.1 0 1 0 2.2 0a1.1 1.1 0 1 0 -2.2 0M104.5 63.4a1.1 1.1 0 1 0 2.2 0a1.1 1.1 0 1 0 -2.2 0M109.1 73.3a1.1 1.1 0 1 0 2.2 0a1.1 1.1 0 1 0 -2.2 0M109.9 75.6a1.1 1.1 0 1 0 2.2 0a1.1 1.1 0 1 0 -2.2 0M105.3 76.4a1.1 1.1 0 1 0 2.2 0a1.1 1.1 0 1 0 -2.2 0"/>
<line x1="19.4" y1="113.95" x2="180.80" y2="4.0" stroke="#2f4f4f" stroke-width="1.3" stroke-dasharray="2.8 1.5"/>
<line x1="19.4" y1="81.3" x2="180.80" y2="57.7" stroke="#f03c3c" stroke-width="1.3"/>
<rect x="19.4" y="4.0" width="161.4" height="109.95" fill="none" stroke="#8e8e8e" stroke-width="1.3"/>
<rect x="24.10" y="7.5" width="40.9" height="16.7" rx="0.6" fill="white" fill-opacity="0.9" stroke="#cfcfcf" stroke-width="0.7"/>
<text transform="translate(26.80,13.90)" font-size="6.4">MAE = 17.86</text>
<text transform="translate(26.80,20.90)" font-size="6.4">R^2 = 0.32</text>
<rect x="114.40" y="93" width="64.2" height="17.9" rx="0.6" fill="white" fill-opacity="0.9" stroke="#cfcfcf" stroke-width="0.7"/>
<line x1="116.80" y1="97.9" x2="129.00" y2="97.9" stroke="#2f4f4f" stroke-width="1.3" stroke-dasharray="2.8 1.5"/>
<line x1="116.80" y1="105.6" x2="129.00" y2="105.6" stroke="#f03c3c" stroke-width="1.3"/>
<text transform="translate(133.70,99.60)" font-size="5.75">Linear(1:1)</text>
<text transform="translate(133.70,107.40)" font-size="5.75">Regression(MLR)</text>
<text transform="translate(100.10,126.90)" text-anchor="middle" font-size="5.8">Observed CS (Mg C/ha)</text>
<text transform="translate(6.00,59.00) rotate(-90)" text-anchor="middle" font-size="5.8">Predicted CS (Mg C/ha)</text>
<text transform="translate(95.40,137.00)" text-anchor="middle" font-size="7.7" font-weight="bold" fill="#000">(A)</text></g>
<g class="sc" font-family='"Liberation Serif", serif' fill="#1a1a1a"><line x1="208.80" y1="4.0" x2="208.80" y2="113.95" stroke="#e2e2e2" stroke-width="0.7"/>
<line x1="202.0" y1="109.32" x2="363.40" y2="109.32" stroke="#e2e2e2" stroke-width="0.7"/>
<line x1="208.80" y1="113.95" x2="208.80" y2="115.75" stroke="#8e8e8e" stroke-width="0.6"/>
<line x1="200.2" y1="109.32" x2="202.0" y2="109.32" stroke="#8e8e8e" stroke-width="0.6"/>
<text transform="translate(208.80,120.45)" text-anchor="middle" font-size="5.8">0</text>
<text transform="translate(200.30,111.32)" text-anchor="end" font-size="5.8">0</text>
<line x1="227.26" y1="4.0" x2="227.26" y2="113.95" stroke="#e2e2e2" stroke-width="0.7"/>
<line x1="202.0" y1="96.76" x2="363.40" y2="96.76" stroke="#e2e2e2" stroke-width="0.7"/>
<line x1="227.26" y1="113.95" x2="227.26" y2="115.75" stroke="#8e8e8e" stroke-width="0.6"/>
<line x1="200.2" y1="96.76" x2="202.0" y2="96.76" stroke="#8e8e8e" stroke-width="0.6"/>
<text transform="translate(227.26,120.45)" text-anchor="middle" font-size="5.8">25</text>
<text transform="translate(200.30,98.76)" text-anchor="end" font-size="5.8">25</text>
<line x1="245.73" y1="4.0" x2="245.73" y2="113.95" stroke="#e2e2e2" stroke-width="0.7"/>
<line x1="202.0" y1="84.19" x2="363.40" y2="84.19" stroke="#e2e2e2" stroke-width="0.7"/>
<line x1="245.73" y1="113.95" x2="245.73" y2="115.75" stroke="#8e8e8e" stroke-width="0.6"/>
<line x1="200.2" y1="84.19" x2="202.0" y2="84.19" stroke="#8e8e8e" stroke-width="0.6"/>
<text transform="translate(245.73,120.45)" text-anchor="middle" font-size="5.8">50</text>
<text transform="translate(200.30,86.19)" text-anchor="end" font-size="5.8">50</text>
<line x1="264.20" y1="4.0" x2="264.20" y2="113.95" stroke="#e2e2e2" stroke-width="0.7"/>
<line x1="202.0" y1="71.62" x2="363.40" y2="71.62" stroke="#e2e2e2" stroke-width="0.7"/>
<line x1="264.20" y1="113.95" x2="264.20" y2="115.75" stroke="#8e8e8e" stroke-width="0.6"/>
<line x1="200.2" y1="71.62" x2="202.0" y2="71.62" stroke="#8e8e8e" stroke-width="0.6"/>
<text transform="translate(264.20,120.45)" text-anchor="middle" font-size="5.8">75</text>
<text transform="translate(200.30,73.62)" text-anchor="end" font-size="5.8">75</text>
<line x1="282.66" y1="4.0" x2="282.66" y2="113.95" stroke="#e2e2e2" stroke-width="0.7"/>
<line x1="202.0" y1="59.05" x2="363.40" y2="59.05" stroke="#e2e2e2" stroke-width="0.7"/>
<line x1="282.66" y1="113.95" x2="282.66" y2="115.75" stroke="#8e8e8e" stroke-width="0.6"/>
<line x1="200.2" y1="59.05" x2="202.0" y2="59.05" stroke="#8e8e8e" stroke-width="0.6"/>
<text transform="translate(282.66,120.45)" text-anchor="middle" font-size="5.8">100</text>
<text transform="translate(200.30,61.05)" text-anchor="end" font-size="5.8">100</text>
<line x1="301.13" y1="4.0" x2="301.13" y2="113.95" stroke="#e2e2e2" stroke-width="0.7"/>
<line x1="202.0" y1="46.48" x2="363.40" y2="46.48" stroke="#e2e2e2" stroke-width="0.7"/>
<line x1="301.13" y1="113.95" x2="301.13" y2="115.75" stroke="#8e8e8e" stroke-width="0.6"/>
<line x1="200.2" y1="46.48" x2="202.0" y2="46.48" stroke="#8e8e8e" stroke-width="0.6"/>
<text transform="translate(301.13,120.45)" text-anchor="middle" font-size="5.8">125</text>
<text transform="translate(200.30,48.48)" text-anchor="end" font-size="5.8">125</text>
<line x1="319.60" y1="4.0" x2="319.60" y2="113.95" stroke="#e2e2e2" stroke-width="0.7"/>
<line x1="202.0" y1="33.91" x2="363.40" y2="33.91" stroke="#e2e2e2" stroke-width="0.7"/>
<line x1="319.60" y1="113.95" x2="319.60" y2="115.75" stroke="#8e8e8e" stroke-width="0.6"/>
<line x1="200.2" y1="33.91" x2="202.0" y2="33.91" stroke="#8e8e8e" stroke-width="0.6"/>
<text transform="translate(319.60,120.45)" text-anchor="middle" font-size="5.8">150</text>
<text transform="translate(200.30,35.91)" text-anchor="end" font-size="5.8">150</text>
<line x1="338.06" y1="4.0" x2="338.06" y2="113.95" stroke="#e2e2e2" stroke-width="0.7"/>
<line x1="202.0" y1="21.34" x2="363.40" y2="21.34" stroke="#e2e2e2" stroke-width="0.7"/>
<line x1="338.06" y1="113.95" x2="338.06" y2="115.75" stroke="#8e8e8e" stroke-width="0.6"/>
<line x1="200.2" y1="21.34" x2="202.0" y2="21.34" stroke="#8e8e8e" stroke-width="0.6"/>
<text transform="translate(338.06,120.45)" text-anchor="middle" font-size="5.8">175</text>
<text transform="translate(200.30,23.34)" text-anchor="end" font-size="5.8">175</text>
<line x1="356.53" y1="4.0" x2="356.53" y2="113.95" stroke="#e2e2e2" stroke-width="0.7"/>
<line x1="202.0" y1="8.78" x2="363.40" y2="8.78" stroke="#e2e2e2" stroke-width="0.7"/>
<line x1="356.53" y1="113.95" x2="356.53" y2="115.75" stroke="#8e8e8e" stroke-width="0.6"/>
<line x1="200.2" y1="8.78" x2="202.0" y2="8.78" stroke="#8e8e8e" stroke-width="0.6"/>
<text transform="translate(356.53,120.45)" text-anchor="middle" font-size="5.8">200</text>
<text transform="translate(200.30,10.78)" text-anchor="end" font-size="5.8">200</text>
<path fill="#1666a6" d="M265.6 74.2a1.1 1.1 0 1 0 2.2 0a1.1 1.1 0 1 0 -2.2 0M273.9 63.1a1.1 1.1 0 1 0 2.2 0a1.1 1.1 0 1 0 -2.2 0M269.3 59.1a1.1 1.1 0 1 0 2.2 0a1.1 1.1 0 1 0 -2.2 0M258.2 73.3a1.1 1.1 0 1 0 2.2 0a1.1 1.1 0 1 0 -2.2 0M262.1 75.1a1.1 1.1 0 1 0 2.2 0a1.1 1.1 0 1 0 -2.2 0M261.1 77.7a1.1 1.1 0 1 0 2.2 0a1.1 1.1 0 1 0 -2.2 0M268.9 69.7a1.1 1.1 0 1 0 2.2 0a1.1 1.1 0 1 0 -2.2 0M263.6 73.0a1.1 1.1 0 1 0 2.2 0a1.1 1.1 0 1 0 -2.2 0M271.0 69.6a1.1 1.1 0 1 0 2.2 0a1.1 1.1 0 1 0 -2.2 0M248.5 82.7a1.1 1.1 0 1 0 2.2 0a1.1 1.1 0 1 0 -2.2 0M279.3 67.1a1.1 1.1 0 1 0 2.2 0a1.1 1.1 0 1 0 -2.2 0M263.5 73.5a1.1 1.1 0 1 0 2.2 0a1.1 1.1 0 1 0 -2.2 0M270.1 69.5a1.1 1.1 0 1 0 2.2 0a1.1 1.1 0 1 0 -2.2 0M264.1 75.1a1.1 1.1 0 1 0 2.2 0a1.1 1.1 0 1 0 -2.2 0M258.3 71.3a1.1 1.1 0 1 0 2.2 0a1.1 1.1 0 1 0 -2.2 0M266.0 67.5a1.1 1.1 0 1 0 2.2 0a1.1 1.1 0 1 0 -2.2 0M274.2 72.6a1.1 1.1 0 1 0 2.2 0a1.1 1.1 0 1 0 -2.2 0M263.0 74.8a1.1 1.1 0 1 0 2.2 0a1.1 1.1 0 1 0 -2.2 0M262.0 72.5a1.1 1.1 0 1 0 2.2 0a1.1 1.1 0 1 0 -2.2 0M270.3 69.6a1.1 1.1 0 1 0 2.2 0a1.1 1.1 0 1 0 -2.2 0M255.7 76.1a1.1 1.1 0 1 0 2.2 0a1.1 1.1 0 1 0 -2.2 0M252.3 82.3a1.1 1.1 0 1 0 2.2 0a1.1 1.1 0 1 0 -2.2 0M265.5 68.0a1.1 1.1 0 1 0 2.2 0a1.1 1.1 0 1 0 -2.2 0M259.1 77.3a1.1 1.1 0 1 0 2.2 0a1.1 1.1 0 1 0 -2.2 0M244.7 78.7a1.1 1.1 0 1 0 2.2 0a1.1 1.1 0 1 0 -2.2 0M260.4 81.6a1.1 1.1 0 1 0 2.2 0a1.1 1.1 0 1 0 -2.2 0M258.9 73.6a1.1 1.1 0 1 0 2.2 0a1.1 1.1 0 1 0 -2.2 0M250.5 74.4a1.1 1.1 0 1 0 2.2 0a1.1 1.1 0 1 0 -2.2 0M251.3 80.5a1.1 1.1 0 1 0 2.2 0a1.1 1.1 0 1 0 -2.2 0M263.3 71.1a1.1 1.1 0 1 0 2.2 0a1.1 1.1 0 1 0 -2.2 0M271.5 67.7a1.1 1.1 0 1 0 2.2 0a1.1 1.1 0 1 0 -2.2 0M259.3 70.2a1.1 1.1 0 1 0 2.2 0a1.1 1.1 0 1 0 -2.2 0M258.8 78.2a1.1 1.1 0 1 0 2.2 0a1.1 1.1 0 1 0 -2.2 0M275.5 82.0a1.1 1.1 0 1 0 2.2 0a1.1 1.1 0 1 0 -2.2 0M266.7 64.1a1.1 1.1 0 1 0 2.2 0a1.1 1.1 0 1 0 -2.2 0M262.3 75.4a1.1 1.1 0 1 0 2.2 0a1.1 1.1 0 1 0 -2.2 0M267.6 68.3a1.1 1.1 0 1 0 2.2 0a1.1 1.1 0 1 0 -2.2 0M272.8 67.0a1.1 1.1 0 1 0 2.2 0a1.1 1.1 0 1 0 -2.2 0M258.0 67.9a1.1 1.1 0 1 0 2.2 0a1.1 1.1 0 1 0 -2.2 0M254.6 73.6a1.1 1.1 0 1 0 2.2 0a1.1 1.1 0 1 0 -2.2 0M267.8 71.9a1.1 1.1 0 1 0 2.2 0a1.1 1.1 0 1 0 -2.2 0M265.8 70.9a1.1 1.1 0 1 0 2.2 0a1.1 1.1 0 1 0 -2.2 0M276.6 71.3a1.1 1.1 0 1 0 2.2 0a1.1 1.1 0 1 0 -2.2 0M251.9 77.8a1.1 1.1 0 1 0 2.2 0a1.1 1.1 0 1 0 -2.2 0M259.0 77.0a1.1 1.1 0 1 0 2.2 0a1.1 1.1 0 1 0 -2.2 0M264.0 86.9a1.1 1.1 0 1 0 2.2 0a1.1 1.1 0 1 0 -2.2 0M248.1 80.2a1.1 1.1 0 1 0 2.2 0a1.1 1.1 0 1 0 -2.2 0M262.8 68.8a1.1 1.1 0 1 0 2.2 0a1.1 1.1 0 1 0 -2.2 0M268.1 69.3a1.1 1.1 0 1 0 2.2 0a1.1 1.1 0 1 0 -2.2 0M257.8 76.7a1.1 1.1 0 1 0 2.2 0a1.1 1.1 0 1 0 -2.2 0M277.1 67.1a1.1 1.1 0 1 0 2.2 0a1.1 1.1 0 1 0 -2.2 0M270.9 68.1a1.1 1.1 0 1 0 2.2 0a1.1 1.1 0 1 0 -2.2 0M267.2 66.4a1.1 1.1 0 1 0 2.2 0a1.1 1.1 0 1 0 -2.2 0M267.6 70.8a1.1 1.1 0 1 0 2.2 0a1.1 1.1 0 1 0 -2.2 0M277.8 75.4a1.1 1.1 0 1 0 2.2 0a1.1 1.1 0 1 0 -2.2 0M256.1 84.4a1.1 1.1 0 1 0 2.2 0a1.1 1.1 0 1 0 -2.2 0M262.3 59.9a1.1 1.1 0 1 0 2.2 0a1.1 1.1 0 1 0 -2.2 0M268.4 68.5a1.1 1.1 0 1 0 2.2 0a1.1 1.1 0 1 0 -2.2 0M247.5 80.1a1.1 1.1 0 1 0 2.2 0a1.1 1.1 0 1 0 -2.2 0M268.2 72.5a1.1 1.1 0 1 0 2.2 0a1.1 1.1 0 1 0 -2.2 0M261.5 73.4a1.1 1.1 0 1 0 2.2 0a1.1 1.1 0 1 0 -2.2 0M274.8 74.2a1.1 1.1 0 1 0 2.2 0a1.1 1.1 0 1 0 -2.2 0M262.5 78.1a1.1 1.1 0 1 0 2.2 0a1.1 1.1 0 1 0 -2.2 0M265.8 75.5a1.1 1.1 0 1 0 2.2 0a1.1 1.1 0 1 0 -2.2 0M267.1 71.1a1.1 1.1 0 1 0 2.2 0a1.1 1.1 0 1 0 -2.2 0M256.7 77.5a1.1 1.1 0 1 0 2.2 0a1.1 1.1 0 1 0 -2.2 0M269.5 70.1a1.1 1.1 0 1 0 2.2 0a1.1 1.1 0 1 0 -2.2 0M266.1 77.3a1.1 1.1 0 1 0 2.2 0a1.1 1.1 0 1 0 -2.2 0M269.1 71.3a1.1 1.1 0 1 0 2.2 0a1.1 1.1 0 1 0 -2.2 0M258.9 74.4a1.1 1.1 0 1 0 2.2 0a1.1 1.1 0 1 0 -2.2 0M275.7 70.2a1.1 1.1 0 1 0 2.2 0a1.1 1.1 0 1 0 -2.2 0M269.2 69.6a1.1 1.1 0 1 0 2.2 0a1.1 1.1 0 1 0 -2.2 0M262.3 73.3a1.1 1.1 0 1 0 2.2 0a1.1 1.1 0 1 0 -2.2 0M267.2 66.2a1.1 1.1 0 1 0 2.2 0a1.1 1.1 0 1 0 -2.2 0M272.8 63.3a1.1 1.1 0 1 0 2.2 0a1.1 1.1 0 1 0 -2.2 0M276.9 59.9a1.1 1.1 0 1 0 2.2 0a1.1 1.1 0 1 0 -2.2 0M244.6 72.7a1.1 1.1 0 1 0 2.2 0a1.1 1.1 0 1 0 -2.2 0M273.4 70.6a1.1 1.1 0 1 0 2.2 0a1.1 1.1 0 1 0 -2.2 0M269.0 71.6a1.1 1.1 0 1 0 2.2 0a1.1 1.1 0 1 0 -2.2 0M262.6 72.4a1.1 1.1 0 1 0 2.2 0a1.1 1.1 0 1 0 -2.2 0M258.2 81.8a1.1 1.1 0 1 0 2.2 0a1.1 1.1 0 1 0 -2.2 0M275.1 66.5a1.1 1.1 0 1 0 2.2 0a1.1 1.1 0 1 0 -2.2 0M254.6 81.1a1.1 1.1 0 1 0 2.2 0a1.1 1.1 0 1 0 -2.2 0M262.7 61.2a1.1 1.1 0 1 0 2.2 0a1.1 1.1 0 1 0 -2.2 0M273.9 64.1a1.1 1.1 0 1 0 2.2 0a1.1 1.1 0 1 0 -2.2 0M252.2 83.6a1.1 1.1 0 1 0 2.2 0a1.1 1.1 0 1 0 -2.2 0M265.2 79.5a1.1 1.1 0 1 0 2.2 0a1.1 1.1 0 1 0 -2.2 0M257.6 86.2a1.1 1.1 0 1 0 2.2 0a1.1 1.1 0 1 0 -2.2 0M269.2 75.7a1.1 1.1 0 1 0 2.2 0a1.1 1.1 0 1 0 -2.2 0M273.4 59.8a1.1 1.1 0 1 0 2.2 0a1.1 1.1 0 1 0 -2.2 0M275.1 53.5a1.1 1.1 0 1 0 2.2 0a1.1 1.1 0 1 0 -2.2 0M250.9 84.8a1.1 1.1 0 1 0 2.2 0a1.1 1.1 0 1 0 -2.2 0M259.3 76.0a1.1 1.1 0 1 0 2.2 0a1.1 1.1 0 1 0 -2.2 0M271.9 71.5a1.1 1.1 0 1 0 2.2 0a1.1 1.1 0 1 0 -2.2 0M276.4 62.8a1.1 1.1 0 1 0 2.2 0a1.1 1.1 0 1 0 -2.2 0M267.8 70.7a1.1 1.1 0 1 0 2.2 0a1.1 1.1 0 1 0 -2.2 0M254.3 72.0a1.1 1.1 0 1 0 2.2 0a1.1 1.1 0 1 0 -2.2 0M267.4 72.2a1.1 1.1 0 1 0 2.2 0a1.1 1.1 0 1 0 -2.2 0M262.7 71.2a1.1 1.1 0 1 0 2.2 0a1.1 1.1 0 1 0 -2.2 0M263.1 74.8a1.1 1.1 0 1 0 2.2 0a1.1 1.1 0 1 0 -2.2 0M259.0 78.3a1.1 1.1 0 1 0 2.2 0a1.1 1.1 0 1 0 -2.2 0M266.8 69.8a1.1 1.1 0 1 0 2.2 0a1.1 1.1 0 1 0 -2.2 0M267.1 71.7a1.1 1.1 0 1 0 2.2 0a1.1 1.1 0 1 0 -2.2 0M263.1 73.0a1.1 1.1 0 1 0 2.2 0a1.1 1.1 0 1 0 -2.2 0M263.9 76.3a1.1 1.1 0 1 0 2.2 0a1.1 1.1 0 1 0 -2.2 0M254.7 81.7a1.1 1.1 0 1 0 2.2 0a1.1 1.1 0 1 0 -2.2 0M258.7 73.6a1.1 1.1 0 1 0 2.2 0a1.1 1.1 0 1 0 -2.2 0M272.3 63.5a1.1 1.1 0 1 0 2.2 0a1.1 1.1 0 1 0 -2.2 0M266.5 79.3a1.1 1.1 0 1 0 2.2 0a1.1 1.1 0 1 0 -2.2 0M252.0 80.6a1.1 1.1 0 1 0 2.2 0a1.1 1.1 0 1 0 -2.2 0M277.0 67.9a1.1 1.1 0 1 0 2.2 0a1.1 1.1 0 1 0 -2.2 0M269.1 70.7a1.1 1.1 0 1 0 2.2 0a1.1 1.1 0 1 0 -2.2 0M279.6 58.3a1.1 1.1 0 1 0 2.2 0a1.1 1.1 0 1 0 -2.2 0M262.6 69.7a1.1 1.1 0 1 0 2.2 0a1.1 1.1 0 1 0 -2.2 0M260.4 75.6a1.1 1.1 0 1 0 2.2 0a1.1 1.1 0 1 0 -2.2 0M252.8 81.8a1.1 1.1 0 1 0 2.2 0a1.1 1.1 0 1 0 -2.2 0M276.1 66.7a1.1 1.1 0 1 0 2.2 0a1.1 1.1 0 1 0 -2.2 0M281.7 53.3a1.1 1.1 0 1 0 2.2 0a1.1 1.1 0 1 0 -2.2 0M255.9 75.4a1.1 1.1 0 1 0 2.2 0a1.1 1.1 0 1 0 -2.2 0M258.4 76.0a1.1 1.1 0 1 0 2.2 0a1.1 1.1 0 1 0 -2.2 0M272.5 74.2a1.1 1.1 0 1 0 2.2 0a1.1 1.1 0 1 0 -2.2 0M251.6 69.7a1.1 1.1 0 1 0 2.2 0a1.1 1.1 0 1 0 -2.2 0M262.7 75.5a1.1 1.1 0 1 0 2.2 0a1.1 1.1 0 1 0 -2.2 0M259.8 72.8a1.1 1.1 0 1 0 2.2 0a1.1 1.1 0 1 0 -2.2 0M266.5 72.8a1.1 1.1 0 1 0 2.2 0a1.1 1.1 0 1 0 -2.2 0M271.6 64.5a1.1 1.1 0 1 0 2.2 0a1.1 1.1 0 1 0 -2.2 0M264.9 73.6a1.1 1.1 0 1 0 2.2 0a1.1 1.1 0 1 0 -2.2 0M275.0 72.2a1.1 1.1 0 1 0 2.2 0a1.1 1.1 0 1 0 -2.2 0M261.3 76.1a1.1 1.1 0 1 0 2.2 0a1.1 1.1 0 1 0 -2.2 0M267.6 72.0a1.1 1.1 0 1 0 2.2 0a1.1 1.1 0 1 0 -2.2 0M247.5 86.3a1.1 1.1 0 1 0 2.2 0a1.1 1.1 0 1 0 -2.2 0M250.4 78.6a1.1 1.1 0 1 0 2.2 0a1.1 1.1 0 1 0 -2.2 0M271.6 69.6a1.1 1.1 0 1 0 2.2 0a1.1 1.1 0 1 0 -2.2 0M258.6 75.3a1.1 1.1 0 1 0 2.2 0a1.1 1.1 0 1 0 -2.2 0M266.7 66.5a1.1 1.1 0 1 0 2.2 0a1.1 1.1 0 1 0 -2.2 0M268.2 69.2a1.1 1.1 0 1 0 2.2 0a1.1 1.1 0 1 0 -2.2 0M274.1 64.0a1.1 1.1 0 1 0 2.2 0a1.1 1.1 0 1 0 -2.2 0M272.2 70.2a1.1 1.1 0 1 0 2.2 0a1.1 1.1 0 1 0 -2.2 0M272.0 66.4a1.1 1.1 0 1 0 2.2 0a1.1 1.1 0 1 0 -2.2 0M261.8 71.4a1.1 1.1 0 1 0 2.2 0a1.1 1.1 0 1 0 -2.2 0M261.7 81.3a1.1 1.1 0 1 0 2.2 0a1.1 1.1 0 1 0 -2.2 0M260.3 80.0a1.1 1.1 0 1 0 2.2 0a1.1 1.1 0 1 0 -2.2 0M262.9 79.5a1.1 1.1 0 1 0 2.2 0a1.1 1.1 0 1 0 -2.2 0M256.2 81.1a1.1 1.1 0 1 0 2.2 0a1.1 1.1 0 1 0 -2.2 0M259.2 75.4a1.1 1.1 0 1 0 2.2 0a1.1 1.1 0 1 0 -2.2 0M262.2 71.7a1.1 1.1 0 1 0 2.2 0a1.1 1.1 0 1 0 -2.2 0M265.3 70.1a1.1 1.1 0 1 0 2.2 0a1.1 1.1 0 1 0 -2.2 0M263.4 77.6a1.1 1.1 0 1 0 2.2 0a1.1 1.1 0 1 0 -2.2 0M248.6 84.2a1.1 1.1 0 1 0 2.2 0a1.1 1.1 0 1 0 -2.2 0M259.8 68.1a1.1 1.1 0 1 0 2.2 0a1.1 1.1 0 1 0 -2.2 0M265.6 71.0a1.1 1.1 0 1 0 2.2 0a1.1 1.1 0 1 0 -2.2 0M269.3 61.5a1.1 1.1 0 1 0 2.2 0a1.1 1.1 0 1 0 -2.2 0M269.0 69.6a1.1 1.1 0 1 0 2.2 0a1.1 1.1 0 1 0 -2.2 0M255.9 72.4a1.1 1.1 0 1 0 2.2 0a1.1 1.1 0 1 0 -2.2 0M255.1 72.7a1.1 1.1 0 1 0 2.2 0a1.1 1.1 0 1 0 -2.2 0M280.4 61.1a1.1 1.1 0 1 0 2.2 0a1.1 1.1 0 1 0 -2.2 0M269.8 67.8a1.1 1.1 0 1 0 2.2 0a1.1 1.1 0 1 0 -2.2 0M274.8 56.4a1.1 1.1 0 1 0 2.2 0a1.1 1.1 0 1 0 -2.2 0M282.9 62.4a1.1 1.1 0 1 0 2.2 0a1.1 1.1 0 1 0 -2.2 0M262.4 84.3a1.1 1.1 0 1 0 2.2 0a1.1 1.1 0 1 0 -2.2 0M263.5 65.4a1.1 1.1 0 1 0 2.2 0a1.1 1.1 0 1 0 -2.2 0M271.9 75.7a1.1 1.1 0 1 0 2.2 0a1.1 1.1 0 1 0 -2.2 0M266.8 67.0a1.1 1.1 0 1 0 2.2 0a1.1 1.1 0 1 0 -2.2 0M267.1 67.7a1.1 1.1 0 1 0 2.2 0a1.1 1.1 0 1 0 -2.2 0M265.1 70.7a1.1 1.1 0 1 0 2.2 0a1.1 1.1 0 1 0 -2.2 0M261.9 66.8a1.1 1.1 0 1 0 2.2 0a1.1 1.1 0 1 0 -2.2 0M254.8 85.5a1.1 1.1 0 1 0 2.2 0a1.1 1.1 0 1 0 -2.2 0M263.7 75.1a1.1 1.1 0 1 0 2.2 0a1.1 1.1 0 1 0 -2.2 0M256.1 74.5a1.1 1.1 0 1 0 2.2 0a1.1 1.1 0 1 0 -2.2 0M264.3 70.9a1.1 1.1 0 1 0 2.2 0a1.1 1.1 0 1 0 -2.2 0M256.6 70.3a1.1 1.1 0 1 0 2.2 0a1.1 1.1 0 1 0 -2.2 0M268.1 67.7a1.1 1.1 0 1 0 2.2 0a1.1 1.1 0 1 0 -2.2 0M272.7 70.7a1.1 1.1 0 1 0 2.2 0a1.1 1.1 0 1 0 -2.2 0M262.4 65.1a1.1 1.1 0 1 0 2.2 0a1.1 1.1 0 1 0 -2.2 0M265.4 69.2a1.1 1.1 0 1 0 2.2 0a1.1 1.1 0 1 0 -2.2 0M265.0 72.4a1.1 1.1 0 1 0 2.2 0a1.1 1.1 0 1 0 -2.2 0M262.7 78.5a1.1 1.1 0 1 0 2.2 0a1.1 1.1 0 1 0 -2.2 0M265.7 77.8a1.1 1.1 0 1 0 2.2 0a1.1 1.1 0 1 0 -2.2 0M258.8 73.9a1.1 1.1 0 1 0 2.2 0a1.1 1.1 0 1 0 -2.2 0M265.3 67.8a1.1 1.1 0 1 0 2.2 0a1.1 1.1 0 1 0 -2.2 0M265.1 73.9a1.1 1.1 0 1 0 2.2 0a1.1 1.1 0 1 0 -2.2 0M267.7 67.9a1.1 1.1 0 1 0 2.2 0a1.1 1.1 0 1 0 -2.2 0M252.4 79.3a1.1 1.1 0 1 0 2.2 0a1.1 1.1 0 1 0 -2.2 0M273.6 70.8a1.1 1.1 0 1 0 2.2 0a1.1 1.1 0 1 0 -2.2 0M261.7 82.5a1.1 1.1 0 1 0 2.2 0a1.1 1.1 0 1 0 -2.2 0M258.6 77.7a1.1 1.1 0 1 0 2.2 0a1.1 1.1 0 1 0 -2.2 0M261.9 73.0a1.1 1.1 0 1 0 2.2 0a1.1 1.1 0 1 0 -2.2 0M260.7 77.7a1.1 1.1 0 1 0 2.2 0a1.1 1.1 0 1 0 -2.2 0M261.8 64.7a1.1 1.1 0 1 0 2.2 0a1.1 1.1 0 1 0 -2.2 0M259.2 75.8a1.1 1.1 0 1 0 2.2 0a1.1 1.1 0 1 0 -2.2 0M252.8 75.4a1.1 1.1 0 1 0 2.2 0a1.1 1.1 0 1 0 -2.2 0M262.7 85.2a1.1 1.1 0 1 0 2.2 0a1.1 1.1 0 1 0 -2.2 0M276.2 67.1a1.1 1.1 0 1 0 2.2 0a1.1 1.1 0 1 0 -2.2 0M264.6 72.7a1.1 1.1 0 1 0 2.2 0a1.1 1.1 0 1 0 -2.2 0M254.0 78.7a1.1 1.1 0 1 0 2.2 0a1.1 1.1 0 1 0 -2.2 0M258.1 64.3a1.1 1.1 0 1 0 2.2 0a1.1 1.1 0 1 0 -2.2 0M253.0 84.0a1.1 1.1 0 1 0 2.2 0a1.1 1.1 0 1 0 -2.2 0M282.2 67.3a1.1 1.1 0 1 0 2.2 0a1.1 1.1 0 1 0 -2.2 0M249.9 79.1a1.1 1.1 0 1 0 2.2 0a1.1 1.1 0 1 0 -2.2 0M269.4 71.9a1.1 1.1 0 1 0 2.2 0a1.1 1.1 0 1 0 -2.2 0M270.0 71.6a1.1 1.1 0 1 0 2.2 0a1.1 1.1 0 1 0 -2.2 0M248.5 76.0a1.1 1.1 0 1 0 2.2 0a1.1 1.1 0 1 0 -2.2 0M268.5 73.8a1.1 1.1 0 1 0 2.2 0a1.1 1.1 0 1 0 -2.2 0M275.2 71.0a1.1 1.1 0 1 0 2.2 0a1.1 1.1 0 1 0 -2.2 0M268.2 70.5a1.1 1.1 0 1 0 2.2 0a1.1 1.1 0 1 0 -2.2 0M265.9 70.8a1.1 1.1 0 1 0 2.2 0a1.1 1.1 0 1 0 -2.2 0M273.4 69.5a1.1 1.1 0 1 0 2.2 0a1.1 1.1 0 1 0 -2.2 0M261.6 66.6a1.1 1.1 0 1 0 2.2 0a1.1 1.1 0 1 0 -2.2 0M266.8 70.8a1.1 1.1 0 1 0 2.2 0a1.1 1.1 0 1 0 -2.2 0M265.4 76.7a1.1 1.1 0 1 0 2.2 0a1.1 1.1 0 1 0 -2.2 0M266.1 64.8a1.1 1.1 0 1 0 2.2 0a1.1 1.1 0 1 0 -2.2 0M258.6 81.2a1.1 1.1 0 1 0 2.2 0a1.1 1.1 0 1 0 -2.2 0M269.3 66.5a1.1 1.1 0 1 0 2.2 0a1.1 1.1 0 1 0 -2.2 0M254.9 68.7a1.1 1.1 0 1 0 2.2 0a1.1 1.1 0 1 0 -2.2 0M254.8 78.6a1.1 1.1 0 1 0 2.2 0a1.1 1.1 0 1 0 -2.2 0M264.6 67.2a1.1 1.1 0 1 0 2.2 0a1.1 1.1 0 1 0 -2.2 0M278.3 63.6a1.1 1.1 0 1 0 2.2 0a1.1 1.1 0 1 0 -2.2 0M268.9 63.1a1.1 1.1 0 1 0 2.2 0a1.1 1.1 0 1 0 -2.2 0M262.2 78.9a1.1 1.1 0 1 0 2.2 0a1.1 1.1 0 1 0 -2.2 0M267.8 66.0a1.1 1.1 0 1 0 2.2 0a1.1 1.1 0 1 0 -2.2 0M261.1 76.3a1.1 1.1 0 1 0 2.2 0a1.1 1.1 0 1 0 -2.2 0M261.5 71.3a1.1 1.1 0 1 0 2.2 0a1.1 1.1 0 1 0 -2.2 0M263.9 70.9a1.1 1.1 0 1 0 2.2 0a1.1 1.1 0 1 0 -2.2 0M248.0 90.0a1.1 1.1 0 1 0 2.2 0a1.1 1.1 0 1 0 -2.2 0M266.0 72.1a1.1 1.1 0 1 0 2.2 0a1.1 1.1 0 1 0 -2.2 0M254.6 77.3a1.1 1.1 0 1 0 2.2 0a1.1 1.1 0 1 0 -2.2 0M255.3 72.5a1.1 1.1 0 1 0 2.2 0a1.1 1.1 0 1 0 -2.2 0M254.7 84.9a1.1 1.1 0 1 0 2.2 0a1.1 1.1 0 1 0 -2.2 0M253.4 83.8a1.1 1.1 0 1 0 2.2 0a1.1 1.1 0 1 0 -2.2 0M255.5 77.0a1.1 1.1 0 1 0 2.2 0a1.1 1.1 0 1 0 -2.2 0M271.2 68.4a1.1 1.1 0 1 0 2.2 0a1.1 1.1 0 1 0 -2.2 0M275.0 59.4a1.1 1.1 0 1 0 2.2 0a1.1 1.1 0 1 0 -2.2 0M261.3 69.4a1.1 1.1 0 1 0 2.2 0a1.1 1.1 0 1 0 -2.2 0M270.8 63.4a1.1 1.1 0 1 0 2.2 0a1.1 1.1 0 1 0 -2.2 0M262.6 75.2a1.1 1.1 0 1 0 2.2 0a1.1 1.1 0 1 0 -2.2 0M249.1 84.7a1.1 1.1 0 1 0 2.2 0a1.1 1.1 0 1 0 -2.2 0M263.4 69.2a1.1 1.1 0 1 0 2.2 0a1.1 1.1 0 1 0 -2.2 0M269.2 72.3a1.1 1.1 0 1 0 2.2 0a1.1 1.1 0 1 0 -2.2 0M262.3 77.6a1.1 1.1 0 1 0 2.2 0a1.1 1.1 0 1 0 -2.2 0M266.8 71.3a1.1 1.1 0 1 0 2.2 0a1.1 1.1 0 1 0 -2.2 0M271.0 72.5a1.1 1.1 0 1 0 2.2 0a1.1 1.1 0 1 0 -2.2 0M256.2 76.6a1.1 1.1 0 1 0 2.2 0a1.1 1.1 0 1 0 -2.2 0M251.7 80.8a1.1 1.1 0 1 0 2.2 0a1.1 1.1 0 1 0 -2.2 0M263.2 75.3a1.1 1.1 0 1 0 2.2 0a1.1 1.1 0 1 0 -2.2 0M262.1 73.6a1.1 1.1 0 1 0 2.2 0a1.1 1.1 0 1 0 -2.2 0M262.9 77.1a1.1 1.1 0 1 0 2.2 0a1.1 1.1 0 1 0 -2.2 0M268.9 62.6a1.1 1.1 0 1 0 2.2 0a1.1 1.1 0 1 0 -2.2 0M281.2 67.0a1.1 1.1 0 1 0 2.2 0a1.1 1.1 0 1 0 -2.2 0M258.7 72.4a1.1 1.1 0 1 0 2.2 0a1.1 1.1 0 1 0 -2.2 0M269.2 67.9a1.1 1.1 0 1 0 2.2 0a1.1 1.1 0 1 0 -2.2 0M268.3 62.5a1.1 1.1 0 1 0 2.2 0a1.1 1.1 0 1 0 -2.2 0M271.1 70.3a1.1 1.1 0 1 0 2.2 0a1.1 1.1 0 1 0 -2.2 0M275.4 70.5a1.1 1.1 0 1 0 2.2 0a1.1 1.1 0 1 0 -2.2 0M263.3 78.3a1.1 1.1 0 1 0 2.2 0a1.1 1.1 0 1 0 -2.2 0M271.8 70.8a1.1 1.1 0 1 0 2.2 0a1.1 1.1 0 1 0 -2.2 0M276.6 55.6a1.1 1.1 0 1 0 2.2 0a1.1 1.1 0 1 0 -2.2 0M268.6 65.2a1.1 1.1 0 1 0 2.2 0a1.1 1.1 0 1 0 -2.2 0M257.8 74.6a1.1 1.1 0 1 0 2.2 0a1.1 1.1 0 1 0 -2.2 0M266.6 65.9a1.1 1.1 0 1 0 2.2 0a1.1 1.1 0 1 0 -2.2 0M276.8 68.7a1.1 1.1 0 1 0 2.2 0a1.1 1.1 0 1 0 -2.2 0M267.3 70.9a1.1 1.1 0 1 0 2.2 0a1.1 1.1 0 1 0 -2.2 0M259.3 75.7a1.1 1.1 0 1 0 2.2 0a1.1 1.1 0 1 0 -2.2 0M277.5 65.0a1.1 1.1 0 1 0 2.2 0a1.1 1.1 0 1 0 -2.2 0M251.6 76.8a1.1 1.1 0 1 0 2.2 0a1.1 1.1 0 1 0 -2.2 0M265.8 66.6a1.1 1.1 0 1 0 2.2 0a1.1 1.1 0 1 0 -2.2 0M261.7 69.7a1.1 1.1 0 1 0 2.2 0a1.1 1.1 0 1 0 -2.2 0M255.4 81.1a1.1 1.1 0 1 0 2.2 0a1.1 1.1 0 1 0 -2.2 0M274.6 66.4a1.1 1.1 0 1 0 2.2 0a1.1 1.1 0 1 0 -2.2 0M268.1 72.3a1.1 1.1 0 1 0 2.2 0a1.1 1.1 0 1 0 -2.2 0M257.0 82.8a1.1 1.1 0 1 0 2.2 0a1.1 1.1 0 1 0 -2.2 0M278.1 60.6a1.1 1.1 0 1 0 2.2 0a1.1 1.1 0 1 0 -2.2 0M280.1 56.6a1.1 1.1 0 1 0 2.2 0a1.1 1.1 0 1 0 -2.2 0M284.8 57.0a1.1 1.1 0 1 0 2.2 0a1.1 1.1 0 1 0 -2.2 0M280.9 64.4a1.1 1.1 0 1 0 2.2 0a1.1 1.1 0 1 0 -2.2 0M281.5 58.3a1.1 1.1 0 1 0 2.2 0a1.1 1.1 0 1 0 -2.2 0M289.9 56.6a1.1 1.1 0 1 0 2.2 0a1.1 1.1 0 1 0 -2.2 0M288.8 54.3a1.1 1.1 0 1 0 2.2 0a1.1 1.1 0 1 0 -2.2 0M286.6 51.6a1.1 1.1 0 1 0 2.2 0a1.1 1.1 0 1 0 -2.2 0M283.7 56.4a1.1 1.1 0 1 0 2.2 0a1.1 1.1 0 1 0 -2.2 0M281.6 55.6a1.1 1.1 0 1 0 2.2 0a1.1 1.1 0 1 0 -2.2 0M289.4 55.4a1.1 1.1 0 1 0 2.2 0a1.1 1.1 0 1 0 -2.2 0M280.7 55.8a1.1 1.1 0 1 0 2.2 0a1.1 1.1 0 1 0 -2.2 0M287.2 58.7a1.1 1.1 0 1 0 2.2 0a1.1 1.1 0 1 0 -2.2 0M290.1 54.3a1.1 1.1 0 1 0 2.2 0a1.1 1.1 0 1 0 -2.2 0M279.4 54.0a1.1 1.1 0 1 0 2.2 0a1.1 1.1 0 1 0 -2.2 0M282.6 60.4a1.1 1.1 0 1 0 2.2 0a1.1 1.1 0 1 0 -2.2 0M286.1 60.2a1.1 1.1 0 1 0 2.2 0a1.1 1.1 0 1 0 -2.2 0M285.2 53.6a1.1 1.1 0 1 0 2.2 0a1.1 1.1 0 1 0 -2.2 0M287.3 57.6a1.1 1.1 0 1 0 2.2 0a1.1 1.1 0 1 0 -2.2 0M281.9 52.9a1.1 1.1 0 1 0 2.2 0a1.1 1.1 0 1 0 -2.2 0M286.5 55.9a1.1 1.1 0 1 0 2.2 0a1.1 1.1 0 1 0 -2.2 0M275.0 58.3a1.1 1.1 0 1 0 2.2 0a1.1 1.1 0 1 0 -2.2 0M281.1 60.5a1.1 1.1 0 1 0 2.2 0a1.1 1.1 0 1 0 -2.2 0M281.9 52.9a1.1 1.1 0 1 0 2.2 0a1.1 1.1 0 1 0 -2.2 0M276.3 54.4a1.1 1.1 0 1 0 2.2 0a1.1 1.1 0 1 0 -2.2 0M279.1 61.7a1.1 1.1 0 1 0 2.2 0a1.1 1.1 0 1 0 -2.2 0M282.4 65.2a1.1 1.1 0 1 0 2.2 0a1.1 1.1 0 1 0 -2.2 0M279.3 58.5a1.1 1.1 0 1 0 2.2 0a1.1 1.1 0 1 0 -2.2 0M252.7 81.2a1.1 1.1 0 1 0 2.2 0a1.1 1.1 0 1 0 -2.2 0M247.7 78.1a1.1 1.1 0 1 0 2.2 0a1.1 1.1 0 1 0 -2.2 0M244.6 82.3a1.1 1.1 0 1 0 2.2 0a1.1 1.1 0 1 0 -2.2 0M251.2 79.5a1.1 1.1 0 1 0 2.2 0a1.1 1.1 0 1 0 -2.2 0M258.4 76.7a1.1 1.1 0 1 0 2.2 0a1.1 1.1 0 1 0 -2.2 0M238.3 79.9a1.1 1.1 0 1 0 2.2 0a1.1 1.1 0 1 0 -2.2 0M250.8 81.8a1.1 1.1 0 1 0 2.2 0a1.1 1.1 0 1 0 -2.2 0M249.3 91.3a1.1 1.1 0 1 0 2.2 0a1.1 1.1 0 1 0 -2.2 0M236.9 77.5a1.1 1.1 0 1 0 2.2 0a1.1 1.1 0 1 0 -2.2 0M258.2 81.5a1.1 1.1 0 1 0 2.2 0a1.1 1.1 0 1 0 -2.2 0M260.5 87.3a1.1 1.1 0 1 0 2.2 0a1.1 1.1 0 1 0 -2.2 0M240.2 69.6a1.1 1.1 0 1 0 2.2 0a1.1 1.1 0 1 0 -2.2 0M259.1 71.3a1.1 1.1 0 1 0 2.2 0a1.1 1.1 0 1 0 -2.2 0M247.3 74.1a1.1 1.1 0 1 0 2.2 0a1.1 1.1 0 1 0 -2.2 0M245.8 79.4a1.1 1.1 0 1 0 2.2 0a1.1 1.1 0 1 0 -2.2 0M257.4 92.2a1.1 1.1 0 1 0 2.2 0a1.1 1.1 0 1 0 -2.2 0M248.5 82.0a1.1 1.1 0 1 0 2.2 0a1.1 1.1 0 1 0 -2.2 0M249.2 86.0a1.1 1.1 0 1 0 2.2 0a1.1 1.1 0 1 0 -2.2 0M257.5 78.9a1.1 1.1 0 1 0 2.2 0a1.1 1.1 0 1 0 -2.2 0M255.9 67.7a1.1 1.1 0 1 0 2.2 0a1.1 1.1 0 1 0 -2.2 0M253.2 68.4a1.1 1.1 0 1 0 2.2 0a1.1 1.1 0 1 0 -2.2 0M237.1 85.1a1.1 1.1 0 1 0 2.2 0a1.1 1.1 0 1 0 -2.2 0M235.9 80.9a1.1 1.1 0 1 0 2.2 0a1.1 1.1 0 1 0 -2.2 0M254.8 73.5a1.1 1.1 0 1 0 2.2 0a1.1 1.1 0 1 0 -2.2 0M240.4 85.6a1.1 1.1 0 1 0 2.2 0a1.1 1.1 0 1 0 -2.2 0M247.9 72.3a1.1 1.1 0 1 0 2.2 0a1.1 1.1 0 1 0 -2.2 0M239.4 85.7a1.1 1.1 0 1 0 2.2 0a1.1 1.1 0 1 0 -2.2 0M245.6 87.3a1.1 1.1 0 1 0 2.2 0a1.1 1.1 0 1 0 -2.2 0M237.9 76.2a1.1 1.1 0 1 0 2.2 0a1.1 1.1 0 1 0 -2.2 0M258.3 74.5a1.1 1.1 0 1 0 2.2 0a1.1 1.1 0 1 0 -2.2 0M239.8 84.2a1.1 1.1 0 1 0 2.2 0a1.1 1.1 0 1 0 -2.2 0M246.0 74.5a1.1 1.1 0 1 0 2.2 0a1.1 1.1 0 1 0 -2.2 0M245.6 84.3a1.1 1.1 0 1 0 2.2 0a1.1 1.1 0 1 0 -2.2 0M255.3 74.0a1.1 1.1 0 1 0 2.2 0a1.1 1.1 0 1 0 -2.2 0M237.0 84.0a1.1 1.1 0 1 0 2.2 0a1.1 1.1 0 1 0 -2.2 0M246.7 80.5a1.1 1.1 0 1 0 2.2 0a1.1 1.1 0 1 0 -2.2 0M245.4 77.8a1.1 1.1 0 1 0 2.2 0a1.1 1.1 0 1 0 -2.2 0M250.6 75.5a1.1 1.1 0 1 0 2.2 0a1.1 1.1 0 1 0 -2.2 0M250.2 81.2a1.1 1.1 0 1 0 2.2 0a1.1 1.1 0 1 0 -2.2 0M243.7 70.5a1.1 1.1 0 1 0 2.2 0a1.1 1.1 0 1 0 -2.2 0M291.1 82.1a1.1 1.1 0 1 0 2.2 0a1.1 1.1 0 1 0 -2.2 0M289.9 73.1a1.1 1.1 0 1 0 2.2 0a1.1 1.1 0 1 0 -2.2 0M300.7 80.2a1.1 1.1 0 1 0 2.2 0a1.1 1.1 0 1 0 -2.2 0M281.4 79.6a1.1 1.1 0 1 0 2.2 0a1.1 1.1 0 1 0 -2.2 0M311.0 74.5a1.1 1.1 0 1 0 2.2 0a1.1 1.1 0 1 0 -2.2 0M290.8 70.0a1.1 1.1 0 1 0 2.2 0a1.1 1.1 0 1 0 -2.2 0M282.5 76.6a1.1 1.1 0 1 0 2.2 0a1.1 1.1 0 1 0 -2.2 0M307.8 77.4a1.1 1.1 0 1 0 2.2 0a1.1 1.1 0 1 0 -2.2 0M310.5 78.4a1.1 1.1 0 1 0 2.2 0a1.1 1.1 0 1 0 -2.2 0M292.0 75.3a1.1 1.1 0 1 0 2.2 0a1.1 1.1 0 1 0 -2.2 0M285.0 79.2a1.1 1.1 0 1 0 2.2 0a1.1 1.1 0 1 0 -2.2 0M294.1 79.9a1.1 1.1 0 1 0 2.2 0a1.1 1.1 0 1 0 -2.2 0M287.0 71.3a1.1 1.1 0 1 0 2.2 0a1.1 1.1 0 1 0 -2.2 0M290.8 80.0a1.1 1.1 0 1 0 2.2 0a1.1 1.1 0 1 0 -2.2 0M309.5 75.6a1.1 1.1 0 1 0 2.2 0a1.1 1.1 0 1 0 -2.2 0M297.8 73.0a1.1 1.1 0 1 0 2.2 0a1.1 1.1 0 1 0 -2.2 0M295.4 73.9a1.1 1.1 0 1 0 2.2 0a1.1 1.1 0 1 0 -2.2 0M297.4 81.6a1.1 1.1 0 1 0 2.2 0a1.1 1.1 0 1 0 -2.2 0M293.3 78.4a1.1 1.1 0 1 0 2.2 0a1.1 1.1 0 1 0 -2.2 0M302.3 68.7a1.1 1.1 0 1 0 2.2 0a1.1 1.1 0 1 0 -2.2 0M302.7 75.3a1.1 1.1 0 1 0 2.2 0a1.1 1.1 0 1 0 -2.2 0M290.2 74.5a1.1 1.1 0 1 0 2.2 0a1.1 1.1 0 1 0 -2.2 0M295.0 74.4a1.1 1.1 0 1 0 2.2 0a1.1 1.1 0 1 0 -2.2 0M318.0 73.2a1.1 1.1 0 1 0 2.2 0a1.1 1.1 0 1 0 -2.2 0M298.1 69.9a1.1 1.1 0 1 0 2.2 0a1.1 1.1 0 1 0 -2.2 0M292.0 78.0a1.1 1.1 0 1 0 2.2 0a1.1 1.1 0 1 0 -2.2 0M314.4 71.7a1.1 1.1 0 1 0 2.2 0a1.1 1.1 0 1 0 -2.2 0M294.0 73.7a1.1 1.1 0 1 0 2.2 0a1.1 1.1 0 1 0 -2.2 0M282.9 72.9a1.1 1.1 0 1 0 2.2 0a1.1 1.1 0 1 0 -2.2 0M300.6 72.5a1.1 1.1 0 1 0 2.2 0a1.1 1.1 0 1 0 -2.2 0M284.9 77.6a1.1 1.1 0 1 0 2.2 0a1.1 1.1 0 1 0 -2.2 0M288.9 76.3a1.1 1.1 0 1 0 2.2 0a1.1 1.1 0 1 0 -2.2 0M297.2 72.6a1.1 1.1 0 1 0 2.2 0a1.1 1.1 0 1 0 -2.2 0M292.6 71.7a1.1 1.1 0 1 0 2.2 0a1.1 1.1 0 1 0 -2.2 0M286.3 73.4a1.1 1.1 0 1 0 2.2 0a1.1 1.1 0 1 0 -2.2 0M288.4 78.4a1.1 1.1 0 1 0 2.2 0a1.1 1.1 0 1 0 -2.2 0M288.0 75.4a1.1 1.1 0 1 0 2.2 0a1.1 1.1 0 1 0 -2.2 0M305.6 75.8a1.1 1.1 0 1 0 2.2 0a1.1 1.1 0 1 0 -2.2 0M286.7 73.9a1.1 1.1 0 1 0 2.2 0a1.1 1.1 0 1 0 -2.2 0M288.2 74.1a1.1 1.1 0 1 0 2.2 0a1.1 1.1 0 1 0 -2.2 0M242.3 64.1a1.1 1.1 0 1 0 2.2 0a1.1 1.1 0 1 0 -2.2 0M224.2 84.4a1.1 1.1 0 1 0 2.2 0a1.1 1.1 0 1 0 -2.2 0M260.8 74.2a1.1 1.1 0 1 0 2.2 0a1.1 1.1 0 1 0 -2.2 0M231.7 67.6a1.1 1.1 0 1 0 2.2 0a1.1 1.1 0 1 0 -2.2 0M233.6 65.1a1.1 1.1 0 1 0 2.2 0a1.1 1.1 0 1 0 -2.2 0M254.6 62.4a1.1 1.1 0 1 0 2.2 0a1.1 1.1 0 1 0 -2.2 0M246.0 77.9a1.1 1.1 0 1 0 2.2 0a1.1 1.1 0 1 0 -2.2 0M241.9 70.1a1.1 1.1 0 1 0 2.2 0a1.1 1.1 0 1 0 -2.2 0M234.4 69.0a1.1 1.1 0 1 0 2.2 0a1.1 1.1 0 1 0 -2.2 0M225.3 76.3a1.1 1.1 0 1 0 2.2 0a1.1 1.1 0 1 0 -2.2 0M245.7 78.5a1.1 1.1 0 1 0 2.2 0a1.1 1.1 0 1 0 -2.2 0M252.4 60.5a1.1 1.1 0 1 0 2.2 0a1.1 1.1 0 1 0 -2.2 0M231.7 72.3a1.1 1.1 0 1 0 2.2 0a1.1 1.1 0 1 0 -2.2 0M254.2 60.1a1.1 1.1 0 1 0 2.2 0a1.1 1.1 0 1 0 -2.2 0M233.3 87.8a1.1 1.1 0 1 0 2.2 0a1.1 1.1 0 1 0 -2.2 0M236.9 84.6a1.1 1.1 0 1 0 2.2 0a1.1 1.1 0 1 0 -2.2 0M248.8 76.1a1.1 1.1 0 1 0 2.2 0a1.1 1.1 0 1 0 -2.2 0M241.7 71.2a1.1 1.1 0 1 0 2.2 0a1.1 1.1 0 1 0 -2.2 0M250.3 73.9a1.1 1.1 0 1 0 2.2 0a1.1 1.1 0 1 0 -2.2 0M230.8 61.9a1.1 1.1 0 1 0 2.2 0a1.1 1.1 0 1 0 -2.2 0M231.4 76.5a1.1 1.1 0 1 0 2.2 0a1.1 1.1 0 1 0 -2.2 0M220.0 69.6a1.1 1.1 0 1 0 2.2 0a1.1 1.1 0 1 0 -2.2 0M227.1 67.7a1.1 1.1 0 1 0 2.2 0a1.1 1.1 0 1 0 -2.2 0M229.4 71.0a1.1 1.1 0 1 0 2.2 0a1.1 1.1 0 1 0 -2.2 0M226.2 74.0a1.1 1.1 0 1 0 2.2 0a1.1 1.1 0 1 0 -2.2 0M246.1 74.4a1.1 1.1 0 1 0 2.2 0a1.1 1.1 0 1 0 -2.2 0M235.9 78.0a1.1 1.1 0 1 0 2.2 0a1.1 1.1 0 1 0 -2.2 0M221.2 79.2a1.1 1.1 0 1 0 2.2 0a1.1 1.1 0 1 0 -2.2 0M266.8 59.5a1.1 1.1 0 1 0 2.2 0a1.1 1.1 0 1 0 -2.2 0M234.1 78.3a1.1 1.1 0 1 0 2.2 0a1.1 1.1 0 1 0 -2.2 0M286.0 4.9a1.1 1.1 0 1 0 2.2 0a1.1 1.1 0 1 0 -2.2 0M241.0 30.7a1.1 1.1 0 1 0 2.2 0a1.1 1.1 0 1 0 -2.2 0M251.6 35.0a1.1 1.1 0 1 0 2.2 0a1.1 1.1 0 1 0 -2.2 0M249.0 52.3a1.1 1.1 0 1 0 2.2 0a1.1 1.1 0 1 0 -2.2 0M216.5 57.4a1.1 1.1 0 1 0 2.2 0a1.1 1.1 0 1 0 -2.2 0M222.7 56.9a1.1 1.1 0 1 0 2.2 0a1.1 1.1 0 1 0 -2.2 0M215.9 67.6a1.1 1.1 0 1 0 2.2 0a1.1 1.1 0 1 0 -2.2 0M226.7 67.6a1.1 1.1 0 1 0 2.2 0a1.1 1.1 0 1 0 -2.2 0M230.1 65.6a1.1 1.1 0 1 0 2.2 0a1.1 1.1 0 1 0 -2.2 0M238.3 67.6a1.1 1.1 0 1 0 2.2 0a1.1 1.1 0 1 0 -2.2 0M242.5 65.0a1.1 1.1 0 1 0 2.2 0a1.1 1.1 0 1 0 -2.2 0M246.8 65.9a1.1 1.1 0 1 0 2.2 0a1.1 1.1 0 1 0 -2.2 0M250.2 64.5a1.1 1.1 0 1 0 2.2 0a1.1 1.1 0 1 0 -2.2 0M255.3 64.5a1.1 1.1 0 1 0 2.2 0a1.1 1.1 0 1 0 -2.2 0M259.5 63.3a1.1 1.1 0 1 0 2.2 0a1.1 1.1 0 1 0 -2.2 0M257.9 67.6a1.1 1.1 0 1 0 2.2 0a1.1 1.1 0 1 0 -2.2 0M215.6 67.3a1.1 1.1 0 1 0 2.2 0a1.1 1.1 0 1 0 -2.2 0M210.4 78.9a1.1 1.1 0 1 0 2.2 0a1.1 1.1 0 1 0 -2.2 0M219.2 70.6a1.1 1.1 0 1 0 2.2 0a1.1 1.1 0 1 0 -2.2 0M222.0 71.4a1.1 1.1 0 1 0 2.2 0a1.1 1.1 0 1 0 -2.2 0M224.8 72.8a1.1 1.1 0 1 0 2.2 0a1.1 1.1 0 1 0 -2.2 0M222.6 83.5a1.1 1.1 0 1 0 2.2 0a1.1 1.1 0 1 0 -2.2 0M225.7 83.5a1.1 1.1 0 1 0 2.2 0a1.1 1.1 0 1 0 -2.2 0M227.5 76.1a1.1 1.1 0 1 0 2.2 0a1.1 1.1 0 1 0 -2.2 0M228.1 78.3a1.1 1.1 0 1 0 2.2 0a1.1 1.1 0 1 0 -2.2 0M229.3 65.5a1.1 1.1 0 1 0 2.2 0a1.1 1.1 0 1 0 -2.2 0M230.3 70.1a1.1 1.1 0 1 0 2.2 0a1.1 1.1 0 1 0 -2.2 0M231.2 74.7a1.1 1.1 0 1 0 2.2 0a1.1 1.1 0 1 0 -2.2 0M233.6 82.0a1.1 1.1 0 1 0 2.2 0a1.1 1.1 0 1 0 -2.2 0M234.9 83.9a1.1 1.1 0 1 0 2.2 0a1.1 1.1 0 1 0 -2.2 0M235.8 87.5a1.1 1.1 0 1 0 2.2 0a1.1 1.1 0 1 0 -2.2 0M236.7 91.2a1.1 1.1 0 1 0 2.2 0a1.1 1.1 0 1 0 -2.2 0M234.9 93.0a1.1 1.1 0 1 0 2.2 0a1.1 1.1 0 1 0 -2.2 0M227.5 100.7a1.1 1.1 0 1 0 2.2 0a1.1 1.1 0 1 0 -2.2 0M233.0 99.4a1.1 1.1 0 1 0 2.2 0a1.1 1.1 0 1 0 -2.2 0M218.9 108.1a1.1 1.1 0 1 0 2.2 0a1.1 1.1 0 1 0 -2.2 0M242.2 109.2a1.1 1.1 0 1 0 2.2 0a1.1 1.1 0 1 0 -2.2 0M248.2 93.4a1.1 1.1 0 1 0 2.2 0a1.1 1.1 0 1 0 -2.2 0M254.1 102.2a1.1 1.1 0 1 0 2.2 0a1.1 1.1 0 1 0 -2.2 0M255.9 89.4a1.1 1.1 0 1 0 2.2 0a1.1 1.1 0 1 0 -2.2 0M252.3 88.4a1.1 1.1 0 1 0 2.2 0a1.1 1.1 0 1 0 -2.2 0M249.1 52.2a1.1 1.1 0 1 0 2.2 0a1.1 1.1 0 1 0 -2.2 0M265.0 54.9a1.1 1.1 0 1 0 2.2 0a1.1 1.1 0 1 0 -2.2 0M277.7 49.8a1.1 1.1 0 1 0 2.2 0a1.1 1.1 0 1 0 -2.2 0M287.9 48.6a1.1 1.1 0 1 0 2.2 0a1.1 1.1 0 1 0 -2.2 0M290.9 48.6a1.1 1.1 0 1 0 2.2 0a1.1 1.1 0 1 0 -2.2 0M296.0 49.2a1.1 1.1 0 1 0 2.2 0a1.1 1.1 0 1 0 -2.2 0M285.8 53.3a1.1 1.1 0 1 0 2.2 0a1.1 1.1 0 1 0 -2.2 0M293.0 70.6a1.1 1.1 0 1 0 2.2 0a1.1 1.1 0 1 0 -2.2 0M298.1 73.7a1.1 1.1 0 1 0 2.2 0a1.1 1.1 0 1 0 -2.2 0M295.0 77.8a1.1 1.1 0 1 0 2.2 0a1.1 1.1 0 1 0 -2.2 0M288.9 76.7a1.1 1.1 0 1 0 2.2 0a1.1 1.1 0 1 0 -2.2 0M284.8 79.8a1.1 1.1 0 1 0 2.2 0a1.1 1.1 0 1 0 -2.2 0M277.7 90.0a1.1 1.1 0 1 0 2.2 0a1.1 1.1 0 1 0 -2.2 0M279.7 90.0a1.1 1.1 0 1 0 2.2 0a1.1 1.1 0 1 0 -2.2 0M298.1 92.7a1.1 1.1 0 1 0 2.2 0a1.1 1.1 0 1 0 -2.2 0M267.5 89.0a1.1 1.1 0 1 0 2.2 0a1.1 1.1 0 1 0 -2.2 0M262.4 91.0a1.1 1.1 0 1 0 2.2 0a1.1 1.1 0 1 0 -2.2 0M256.2 89.0a1.1 1.1 0 1 0 2.2 0a1.1 1.1 0 1 0 -2.2 0M248.1 93.5a1.1 1.1 0 1 0 2.2 0a1.1 1.1 0 1 0 -2.2 0M297.9 37.6a1.1 1.1 0 1 0 2.2 0a1.1 1.1 0 1 0 -2.2 0M300.6 51.7a1.1 1.1 0 1 0 2.2 0a1.1 1.1 0 1 0 -2.2 0M319.7 55.0a1.1 1.1 0 1 0 2.2 0a1.1 1.1 0 1 0 -2.2 0M324.6 62.1a1.1 1.1 0 1 0 2.2 0a1.1 1.1 0 1 0 -2.2 0M322.4 65.3a1.1 1.1 0 1 0 2.2 0a1.1 1.1 0 1 0 -2.2 0M296.6 61.3a1.1 1.1 0 1 0 2.2 0a1.1 1.1 0 1 0 -2.2 0M295.2 65.3a1.1 1.1 0 1 0 2.2 0a1.1 1.1 0 1 0 -2.2 0M299.3 68.0a1.1 1.1 0 1 0 2.2 0a1.1 1.1 0 1 0 -2.2 0M306.1 70.8a1.1 1.1 0 1 0 2.2 0a1.1 1.1 0 1 0 -2.2 0M308.8 73.5a1.1 1.1 0 1 0 2.2 0a1.1 1.1 0 1 0 -2.2 0M312.9 69.4a1.1 1.1 0 1 0 2.2 0a1.1 1.1 0 1 0 -2.2 0M315.6 73.5a1.1 1.1 0 1 0 2.2 0a1.1 1.1 0 1 0 -2.2 0M316.9 70.8a1.1 1.1 0 1 0 2.2 0a1.1 1.1 0 1 0 -2.2 0M323.7 70.8a1.1 1.1 0 1 0 2.2 0a1.1 1.1 0 1 0 -2.2 0M333.2 71.3a1.1 1.1 0 1 0 2.2 0a1.1 1.1 0 1 0 -2.2 0M337.3 71.3a1.1 1.1 0 1 0 2.2 0a1.1 1.1 0 1 0 -2.2 0M337.3 76.2a1.1 1.1 0 1 0 2.2 0a1.1 1.1 0 1 0 -2.2 0M338.1 78.4a1.1 1.1 0 1 0 2.2 0a1.1 1.1 0 1 0 -2.2 0M344.1 70.8a1.1 1.1 0 1 0 2.2 0a1.1 1.1 0 1 0 -2.2 0M353.6 69.4a1.1 1.1 0 1 0 2.2 0a1.1 1.1 0 1 0 -2.2 0M307.4 78.9a1.1 1.1 0 1 0 2.2 0a1.1 1.1 0 1 0 -2.2 0M302.0 77.6a1.1 1.1 0 1 0 2.2 0a1.1 1.1 0 1 0 -2.2 0M297.9 80.3a1.1 1.1 0 1 0 2.2 0a1.1 1.1 0 1 0 -2.2 0M292.5 80.3a1.1 1.1 0 1 0 2.2 0a1.1 1.1 0 1 0 -2.2 0M314.2 76.7a1.1 1.1 0 1 0 2.2 0a1.1 1.1 0 1 0 -2.2 0M278.9 91.1a1.1 1.1 0 1 0 2.2 0a1.1 1.1 0 1 0 -2.2 0M282.9 72.0a1.1 1.1 0 1 0 2.2 0a1.1 1.1 0 1 0 -2.2 0M285.9 75.0a1.1 1.1 0 1 0 2.2 0a1.1 1.1 0 1 0 -2.2 0M288.9 79.0a1.1 1.1 0 1 0 2.2 0a1.1 1.1 0 1 0 -2.2 0M283.9 77.0a1.1 1.1 0 1 0 2.2 0a1.1 1.1 0 1 0 -2.2 0M287.9 73.0a1.1 1.1 0 1 0 2.2 0a1.1 1.1 0 1 0 -2.2 0"/>
<line x1="202.0" y1="113.95" x2="363.40" y2="4.0" stroke="#2f4f4f" stroke-width="1.3" stroke-dasharray="2.8 1.5"/>
<line x1="202.0" y1="95.0" x2="363.40" y2="36.8" stroke="#f03c3c" stroke-width="1.3"/>
<rect x="202.0" y="4.0" width="161.4" height="109.95" fill="none" stroke="#8e8e8e" stroke-width="1.3"/>
<rect x="206.70" y="7.5" width="40.9" height="16.7" rx="0.6" fill="white" fill-opacity="0.9" stroke="#cfcfcf" stroke-width="0.7"/>
<text transform="translate(209.40,13.90)" font-size="6.4">MAE = 17.13</text>
<text transform="translate(209.40,20.90)" font-size="6.4">R^2 = 0.47</text>
<rect x="297.00" y="93" width="64.2" height="17.9" rx="0.6" fill="white" fill-opacity="0.9" stroke="#cfcfcf" stroke-width="0.7"/>
<line x1="299.40" y1="97.9" x2="311.60" y2="97.9" stroke="#2f4f4f" stroke-width="1.3" stroke-dasharray="2.8 1.5"/>
<line x1="299.40" y1="105.6" x2="311.60" y2="105.6" stroke="#f03c3c" stroke-width="1.3"/>
<text transform="translate(316.30,99.60)" font-size="5.75">Linear(1:1)</text>
<text transform="translate(316.30,107.40)" font-size="5.75">Regression(DNN)</text>
<text transform="translate(282.70,126.90)" text-anchor="middle" font-size="5.8">Observed CS (Mg C/ha)</text>
<text transform="translate(188.60,59.00) rotate(-90)" text-anchor="middle" font-size="5.8">Predicted CS (Mg C/ha)</text>
<text transform="translate(278.00,137.00)" text-anchor="middle" font-size="7.7" font-weight="bold" fill="#000">(B)</text></g>
<g class="sc" font-family='"Liberation Serif", serif' fill="#1a1a1a"><line x1="391.60" y1="4.0" x2="391.60" y2="113.95" stroke="#e2e2e2" stroke-width="0.7"/>
<line x1="384.8" y1="109.32" x2="546.20" y2="109.32" stroke="#e2e2e2" stroke-width="0.7"/>
<line x1="391.60" y1="113.95" x2="391.60" y2="115.75" stroke="#8e8e8e" stroke-width="0.6"/>
<line x1="383.0" y1="109.32" x2="384.8" y2="109.32" stroke="#8e8e8e" stroke-width="0.6"/>
<text transform="translate(391.60,120.45)" text-anchor="middle" font-size="5.8">0</text>
<text transform="translate(383.10,111.32)" text-anchor="end" font-size="5.8">0</text>
<line x1="410.06" y1="4.0" x2="410.06" y2="113.95" stroke="#e2e2e2" stroke-width="0.7"/>
<line x1="384.8" y1="96.76" x2="546.20" y2="96.76" stroke="#e2e2e2" stroke-width="0.7"/>
<line x1="410.06" y1="113.95" x2="410.06" y2="115.75" stroke="#8e8e8e" stroke-width="0.6"/>
<line x1="383.0" y1="96.76" x2="384.8" y2="96.76" stroke="#8e8e8e" stroke-width="0.6"/>
<text transform="translate(410.06,120.45)" text-anchor="middle" font-size="5.8">25</text>
<text transform="translate(383.10,98.76)" text-anchor="end" font-size="5.8">25</text>
<line x1="428.53" y1="4.0" x2="428.53" y2="113.95" stroke="#e2e2e2" stroke-width="0.7"/>
<line x1="384.8" y1="84.19" x2="546.20" y2="84.19" stroke="#e2e2e2" stroke-width="0.7"/>
<line x1="428.53" y1="113.95" x2="428.53" y2="115.75" stroke="#8e8e8e" stroke-width="0.6"/>
<line x1="383.0" y1="84.19" x2="384.8" y2="84.19" stroke="#8e8e8e" stroke-width="0.6"/>
<text transform="translate(428.53,120.45)" text-anchor="middle" font-size="5.8">50</text>
<text transform="translate(383.10,86.19)" text-anchor="end" font-size="5.8">50</text>
<line x1="447.00" y1="4.0" x2="447.00" y2="113.95" stroke="#e2e2e2" stroke-width="0.7"/>
<line x1="384.8" y1="71.62" x2="546.20" y2="71.62" stroke="#e2e2e2" stroke-width="0.7"/>
<line x1="447.00" y1="113.95" x2="447.00" y2="115.75" stroke="#8e8e8e" stroke-width="0.6"/>
<line x1="383.0" y1="71.62" x2="384.8" y2="71.62" stroke="#8e8e8e" stroke-width="0.6"/>
<text transform="translate(447.00,120.45)" text-anchor="middle" font-size="5.8">75</text>
<text transform="translate(383.10,73.62)" text-anchor="end" font-size="5.8">75</text>
<line x1="465.46" y1="4.0" x2="465.46" y2="113.95" stroke="#e2e2e2" stroke-width="0.7"/>
<line x1="384.8" y1="59.05" x2="546.20" y2="59.05" stroke="#e2e2e2" stroke-width="0.7"/>
<line x1="465.46" y1="113.95" x2="465.46" y2="115.75" stroke="#8e8e8e" stroke-width="0.6"/>
<line x1="383.0" y1="59.05" x2="384.8" y2="59.05" stroke="#8e8e8e" stroke-width="0.6"/>
<text transform="translate(465.46,120.45)" text-anchor="middle" font-size="5.8">100</text>
<text transform="translate(383.10,61.05)" text-anchor="end" font-size="5.8">100</text>
<line x1="483.93" y1="4.0" x2="483.93" y2="113.95" stroke="#e2e2e2" stroke-width="0.7"/>
<line x1="384.8" y1="46.48" x2="546.20" y2="46.48" stroke="#e2e2e2" stroke-width="0.7"/>
<line x1="483.93" y1="113.95" x2="483.93" y2="115.75" stroke="#8e8e8e" stroke-width="0.6"/>
<line x1="383.0" y1="46.48" x2="384.8" y2="46.48" stroke="#8e8e8e" stroke-width="0.6"/>
<text transform="translate(483.93,120.45)" text-anchor="middle" font-size="5.8">125</text>
<text transform="translate(383.10,48.48)" text-anchor="end" font-size="5.8">125</text>
<line x1="502.40" y1="4.0" x2="502.40" y2="113.95" stroke="#e2e2e2" stroke-width="0.7"/>
<line x1="384.8" y1="33.91" x2="546.20" y2="33.91" stroke="#e2e2e2" stroke-width="0.7"/>
<line x1="502.40" y1="113.95" x2="502.40" y2="115.75" stroke="#8e8e8e" stroke-width="0.6"/>
<line x1="383.0" y1="33.91" x2="384.8" y2="33.91" stroke="#8e8e8e" stroke-width="0.6"/>
<text transform="translate(502.40,120.45)" text-anchor="middle" font-size="5.8">150</text>
<text transform="translate(383.10,35.91)" text-anchor="end" font-size="5.8">150</text>
<line x1="520.86" y1="4.0" x2="520.86" y2="113.95" stroke="#e2e2e2" stroke-width="0.7"/>
<line x1="384.8" y1="21.34" x2="546.20" y2="21.34" stroke="#e2e2e2" stroke-width="0.7"/>
<line x1="520.86" y1="113.95" x2="520.86" y2="115.75" stroke="#8e8e8e" stroke-width="0.6"/>
<line x1="383.0" y1="21.34" x2="384.8" y2="21.34" stroke="#8e8e8e" stroke-width="0.6"/>
<text transform="translate(520.86,120.45)" text-anchor="middle" font-size="5.8">175</text>
<text transform="translate(383.10,23.34)" text-anchor="end" font-size="5.8">175</text>
<line x1="539.33" y1="4.0" x2="539.33" y2="113.95" stroke="#e2e2e2" stroke-width="0.7"/>
<line x1="384.8" y1="8.78" x2="546.20" y2="8.78" stroke="#e2e2e2" stroke-width="0.7"/>
<line x1="539.33" y1="113.95" x2="539.33" y2="115.75" stroke="#8e8e8e" stroke-width="0.6"/>
<line x1="383.0" y1="8.78" x2="384.8" y2="8.78" stroke="#8e8e8e" stroke-width="0.6"/>
<text transform="translate(539.33,120.45)" text-anchor="middle" font-size="5.8">200</text>
<text transform="translate(383.10,10.78)" text-anchor="end" font-size="5.8">200</text>
<path fill="#1666a6" d="M444.4 70.6a1.1 1.1 0 1 0 2.2 0a1.1 1.1 0 1 0 -2.2 0M456.3 66.2a1.1 1.1 0 1 0 2.2 0a1.1 1.1 0 1 0 -2.2 0M452.9 67.5a1.1 1.1 0 1 0 2.2 0a1.1 1.1 0 1 0 -2.2 0M450.3 62.5a1.1 1.1 0 1 0 2.2 0a1.1 1.1 0 1 0 -2.2 0M462.5 63.4a1.1 1.1 0 1 0 2.2 0a1.1 1.1 0 1 0 -2.2 0M432.7 79.6a1.1 1.1 0 1 0 2.2 0a1.1 1.1 0 1 0 -2.2 0M439.9 78.5a1.1 1.1 0 1 0 2.2 0a1.1 1.1 0 1 0 -2.2 0M431.7 80.6a1.1 1.1 0 1 0 2.2 0a1.1 1.1 0 1 0 -2.2 0M445.9 76.7a1.1 1.1 0 1 0 2.2 0a1.1 1.1 0 1 0 -2.2 0M456.5 68.0a1.1 1.1 0 1 0 2.2 0a1.1 1.1 0 1 0 -2.2 0M444.8 72.0a1.1 1.1 0 1 0 2.2 0a1.1 1.1 0 1 0 -2.2 0M446.6 61.2a1.1 1.1 0 1 0 2.2 0a1.1 1.1 0 1 0 -2.2 0M423.2 79.3a1.1 1.1 0 1 0 2.2 0a1.1 1.1 0 1 0 -2.2 0M449.7 77.6a1.1 1.1 0 1 0 2.2 0a1.1 1.1 0 1 0 -2.2 0M435.4 77.0a1.1 1.1 0 1 0 2.2 0a1.1 1.1 0 1 0 -2.2 0M465.9 66.2a1.1 1.1 0 1 0 2.2 0a1.1 1.1 0 1 0 -2.2 0M454.3 66.5a1.1 1.1 0 1 0 2.2 0a1.1 1.1 0 1 0 -2.2 0M454.1 64.2a1.1 1.1 0 1 0 2.2 0a1.1 1.1 0 1 0 -2.2 0M448.4 80.7a1.1 1.1 0 1 0 2.2 0a1.1 1.1 0 1 0 -2.2 0M452.4 70.2a1.1 1.1 0 1 0 2.2 0a1.1 1.1 0 1 0 -2.2 0M455.1 74.7a1.1 1.1 0 1 0 2.2 0a1.1 1.1 0 1 0 -2.2 0M442.3 75.8a1.1 1.1 0 1 0 2.2 0a1.1 1.1 0 1 0 -2.2 0M439.1 73.1a1.1 1.1 0 1 0 2.2 0a1.1 1.1 0 1 0 -2.2 0M439.5 63.1a1.1 1.1 0 1 0 2.2 0a1.1 1.1 0 1 0 -2.2 0M438.7 75.3a1.1 1.1 0 1 0 2.2 0a1.1 1.1 0 1 0 -2.2 0M435.6 68.3a1.1 1.1 0 1 0 2.2 0a1.1 1.1 0 1 0 -2.2 0M437.7 64.0a1.1 1.1 0 1 0 2.2 0a1.1 1.1 0 1 0 -2.2 0M439.6 80.7a1.1 1.1 0 1 0 2.2 0a1.1 1.1 0 1 0 -2.2 0M454.8 71.0a1.1 1.1 0 1 0 2.2 0a1.1 1.1 0 1 0 -2.2 0M428.9 82.6a1.1 1.1 0 1 0 2.2 0a1.1 1.1 0 1 0 -2.2 0M454.1 67.9a1.1 1.1 0 1 0 2.2 0a1.1 1.1 0 1 0 -2.2 0M438.2 74.9a1.1 1.1 0 1 0 2.2 0a1.1 1.1 0 1 0 -2.2 0M439.9 76.4a1.1 1.1 0 1 0 2.2 0a1.1 1.1 0 1 0 -2.2 0M430.7 79.3a1.1 1.1 0 1 0 2.2 0a1.1 1.1 0 1 0 -2.2 0M443.6 72.9a1.1 1.1 0 1 0 2.2 0a1.1 1.1 0 1 0 -2.2 0M443.8 76.2a1.1 1.1 0 1 0 2.2 0a1.1 1.1 0 1 0 -2.2 0M442.4 60.6a1.1 1.1 0 1 0 2.2 0a1.1 1.1 0 1 0 -2.2 0M441.0 78.3a1.1 1.1 0 1 0 2.2 0a1.1 1.1 0 1 0 -2.2 0M444.8 68.7a1.1 1.1 0 1 0 2.2 0a1.1 1.1 0 1 0 -2.2 0M466.5 66.2a1.1 1.1 0 1 0 2.2 0a1.1 1.1 0 1 0 -2.2 0M451.8 74.6a1.1 1.1 0 1 0 2.2 0a1.1 1.1 0 1 0 -2.2 0M437.2 71.2a1.1 1.1 0 1 0 2.2 0a1.1 1.1 0 1 0 -2.2 0M456.9 70.3a1.1 1.1 0 1 0 2.2 0a1.1 1.1 0 1 0 -2.2 0M445.1 75.7a1.1 1.1 0 1 0 2.2 0a1.1 1.1 0 1 0 -2.2 0M450.1 65.7a1.1 1.1 0 1 0 2.2 0a1.1 1.1 0 1 0 -2.2 0M450.6 66.4a1.1 1.1 0 1 0 2.2 0a1.1 1.1 0 1 0 -2.2 0M440.9 74.1a1.1 1.1 0 1 0 2.2 0a1.1 1.1 0 1 0 -2.2 0M419.6 72.1a1.1 1.1 0 1 0 2.2 0a1.1 1.1 0 1 0 -2.2 0M440.3 71.5a1.1 1.1 0 1 0 2.2 0a1.1 1.1 0 1 0 -2.2 0M451.3 69.6a1.1 1.1 0 1 0 2.2 0a1.1 1.1 0 1 0 -2.2 0M439.9 71.6a1.1 1.1 0 1 0 2.2 0a1.1 1.1 0 1 0 -2.2 0M446.6 62.7a1.1 1.1 0 1 0 2.2 0a1.1 1.1 0 1 0 -2.2 0M454.8 64.9a1.1 1.1 0 1 0 2.2 0a1.1 1.1 0 1 0 -2.2 0M442.0 80.6a1.1 1.1 0 1 0 2.2 0a1.1 1.1 0 1 0 -2.2 0M460.9 70.8a1.1 1.1 0 1 0 2.2 0a1.1 1.1 0 1 0 -2.2 0M462.3 62.8a1.1 1.1 0 1 0 2.2 0a1.1 1.1 0 1 0 -2.2 0M455.1 62.7a1.1 1.1 0 1 0 2.2 0a1.1 1.1 0 1 0 -2.2 0M457.6 65.6a1.1 1.1 0 1 0 2.2 0a1.1 1.1 0 1 0 -2.2 0M456.9 66.0a1.1 1.1 0 1 0 2.2 0a1.1 1.1 0 1 0 -2.2 0M468.1 57.3a1.1 1.1 0 1 0 2.2 0a1.1 1.1 0 1 0 -2.2 0M446.3 69.2a1.1 1.1 0 1 0 2.2 0a1.1 1.1 0 1 0 -2.2 0M446.1 74.1a1.1 1.1 0 1 0 2.2 0a1.1 1.1 0 1 0 -2.2 0M453.3 72.4a1.1 1.1 0 1 0 2.2 0a1.1 1.1 0 1 0 -2.2 0M430.3 65.9a1.1 1.1 0 1 0 2.2 0a1.1 1.1 0 1 0 -2.2 0M429.9 83.5a1.1 1.1 0 1 0 2.2 0a1.1 1.1 0 1 0 -2.2 0M435.6 76.6a1.1 1.1 0 1 0 2.2 0a1.1 1.1 0 1 0 -2.2 0M451.2 74.4a1.1 1.1 0 1 0 2.2 0a1.1 1.1 0 1 0 -2.2 0M450.0 69.0a1.1 1.1 0 1 0 2.2 0a1.1 1.1 0 1 0 -2.2 0M429.1 81.1a1.1 1.1 0 1 0 2.2 0a1.1 1.1 0 1 0 -2.2 0M427.6 87.9a1.1 1.1 0 1 0 2.2 0a1.1 1.1 0 1 0 -2.2 0M435.7 60.7a1.1 1.1 0 1 0 2.2 0a1.1 1.1 0 1 0 -2.2 0M446.0 79.1a1.1 1.1 0 1 0 2.2 0a1.1 1.1 0 1 0 -2.2 0M444.7 72.6a1.1 1.1 0 1 0 2.2 0a1.1 1.1 0 1 0 -2.2 0M448.7 60.5a1.1 1.1 0 1 0 2.2 0a1.1 1.1 0 1 0 -2.2 0M453.1 54.2a1.1 1.1 0 1 0 2.2 0a1.1 1.1 0 1 0 -2.2 0M448.0 71.6a1.1 1.1 0 1 0 2.2 0a1.1 1.1 0 1 0 -2.2 0M449.6 64.1a1.1 1.1 0 1 0 2.2 0a1.1 1.1 0 1 0 -2.2 0M434.9 81.3a1.1 1.1 0 1 0 2.2 0a1.1 1.1 0 1 0 -2.2 0M432.5 78.4a1.1 1.1 0 1 0 2.2 0a1.1 1.1 0 1 0 -2.2 0M447.2 69.8a1.1 1.1 0 1 0 2.2 0a1.1 1.1 0 1 0 -2.2 0M454.1 72.3a1.1 1.1 0 1 0 2.2 0a1.1 1.1 0 1 0 -2.2 0M453.2 68.6a1.1 1.1 0 1 0 2.2 0a1.1 1.1 0 1 0 -2.2 0M452.8 71.6a1.1 1.1 0 1 0 2.2 0a1.1 1.1 0 1 0 -2.2 0M455.1 71.0a1.1 1.1 0 1 0 2.2 0a1.1 1.1 0 1 0 -2.2 0M454.3 68.7a1.1 1.1 0 1 0 2.2 0a1.1 1.1 0 1 0 -2.2 0M427.4 83.7a1.1 1.1 0 1 0 2.2 0a1.1 1.1 0 1 0 -2.2 0M438.5 78.5a1.1 1.1 0 1 0 2.2 0a1.1 1.1 0 1 0 -2.2 0M447.2 63.5a1.1 1.1 0 1 0 2.2 0a1.1 1.1 0 1 0 -2.2 0M450.9 67.3a1.1 1.1 0 1 0 2.2 0a1.1 1.1 0 1 0 -2.2 0M428.2 78.7a1.1 1.1 0 1 0 2.2 0a1.1 1.1 0 1 0 -2.2 0M456.9 64.0a1.1 1.1 0 1 0 2.2 0a1.1 1.1 0 1 0 -2.2 0M437.0 67.1a1.1 1.1 0 1 0 2.2 0a1.1 1.1 0 1 0 -2.2 0M441.3 70.3a1.1 1.1 0 1 0 2.2 0a1.1 1.1 0 1 0 -2.2 0M448.5 71.5a1.1 1.1 0 1 0 2.2 0a1.1 1.1 0 1 0 -2.2 0M453.4 68.5a1.1 1.1 0 1 0 2.2 0a1.1 1.1 0 1 0 -2.2 0M432.3 85.1a1.1 1.1 0 1 0 2.2 0a1.1 1.1 0 1 0 -2.2 0M454.5 64.0a1.1 1.1 0 1 0 2.2 0a1.1 1.1 0 1 0 -2.2 0M444.9 69.3a1.1 1.1 0 1 0 2.2 0a1.1 1.1 0 1 0 -2.2 0M435.4 73.0a1.1 1.1 0 1 0 2.2 0a1.1 1.1 0 1 0 -2.2 0M441.3 71.6a1.1 1.1 0 1 0 2.2 0a1.1 1.1 0 1 0 -2.2 0M420.0 80.1a1.1 1.1 0 1 0 2.2 0a1.1 1.1 0 1 0 -2.2 0M434.2 67.0a1.1 1.1 0 1 0 2.2 0a1.1 1.1 0 1 0 -2.2 0M447.6 72.0a1.1 1.1 0 1 0 2.2 0a1.1 1.1 0 1 0 -2.2 0M439.1 79.2a1.1 1.1 0 1 0 2.2 0a1.1 1.1 0 1 0 -2.2 0M443.5 77.8a1.1 1.1 0 1 0 2.2 0a1.1 1.1 0 1 0 -2.2 0M441.2 67.7a1.1 1.1 0 1 0 2.2 0a1.1 1.1 0 1 0 -2.2 0M445.1 70.5a1.1 1.1 0 1 0 2.2 0a1.1 1.1 0 1 0 -2.2 0M459.6 74.0a1.1 1.1 0 1 0 2.2 0a1.1 1.1 0 1 0 -2.2 0M444.4 71.2a1.1 1.1 0 1 0 2.2 0a1.1 1.1 0 1 0 -2.2 0M442.8 74.3a1.1 1.1 0 1 0 2.2 0a1.1 1.1 0 1 0 -2.2 0M450.5 68.1a1.1 1.1 0 1 0 2.2 0a1.1 1.1 0 1 0 -2.2 0M469.4 65.2a1.1 1.1 0 1 0 2.2 0a1.1 1.1 0 1 0 -2.2 0M443.1 77.3a1.1 1.1 0 1 0 2.2 0a1.1 1.1 0 1 0 -2.2 0M455.0 78.6a1.1 1.1 0 1 0 2.2 0a1.1 1.1 0 1 0 -2.2 0M428.7 81.6a1.1 1.1 0 1 0 2.2 0a1.1 1.1 0 1 0 -2.2 0M460.4 66.6a1.1 1.1 0 1 0 2.2 0a1.1 1.1 0 1 0 -2.2 0M449.7 63.1a1.1 1.1 0 1 0 2.2 0a1.1 1.1 0 1 0 -2.2 0M458.6 63.0a1.1 1.1 0 1 0 2.2 0a1.1 1.1 0 1 0 -2.2 0M442.9 68.9a1.1 1.1 0 1 0 2.2 0a1.1 1.1 0 1 0 -2.2 0M432.9 75.4a1.1 1.1 0 1 0 2.2 0a1.1 1.1 0 1 0 -2.2 0M452.0 61.5a1.1 1.1 0 1 0 2.2 0a1.1 1.1 0 1 0 -2.2 0M455.5 72.8a1.1 1.1 0 1 0 2.2 0a1.1 1.1 0 1 0 -2.2 0M433.4 71.5a1.1 1.1 0 1 0 2.2 0a1.1 1.1 0 1 0 -2.2 0M429.4 80.1a1.1 1.1 0 1 0 2.2 0a1.1 1.1 0 1 0 -2.2 0M447.3 64.0a1.1 1.1 0 1 0 2.2 0a1.1 1.1 0 1 0 -2.2 0M443.7 73.8a1.1 1.1 0 1 0 2.2 0a1.1 1.1 0 1 0 -2.2 0M476.5 65.2a1.1 1.1 0 1 0 2.2 0a1.1 1.1 0 1 0 -2.2 0M436.6 71.2a1.1 1.1 0 1 0 2.2 0a1.1 1.1 0 1 0 -2.2 0M439.9 75.7a1.1 1.1 0 1 0 2.2 0a1.1 1.1 0 1 0 -2.2 0M443.6 71.8a1.1 1.1 0 1 0 2.2 0a1.1 1.1 0 1 0 -2.2 0M427.3 81.1a1.1 1.1 0 1 0 2.2 0a1.1 1.1 0 1 0 -2.2 0M436.0 77.8a1.1 1.1 0 1 0 2.2 0a1.1 1.1 0 1 0 -2.2 0M461.5 60.5a1.1 1.1 0 1 0 2.2 0a1.1 1.1 0 1 0 -2.2 0M443.1 71.4a1.1 1.1 0 1 0 2.2 0a1.1 1.1 0 1 0 -2.2 0M437.1 72.1a1.1 1.1 0 1 0 2.2 0a1.1 1.1 0 1 0 -2.2 0M429.5 74.5a1.1 1.1 0 1 0 2.2 0a1.1 1.1 0 1 0 -2.2 0M448.8 63.4a1.1 1.1 0 1 0 2.2 0a1.1 1.1 0 1 0 -2.2 0M453.9 72.2a1.1 1.1 0 1 0 2.2 0a1.1 1.1 0 1 0 -2.2 0M446.3 67.1a1.1 1.1 0 1 0 2.2 0a1.1 1.1 0 1 0 -2.2 0M442.0 76.2a1.1 1.1 0 1 0 2.2 0a1.1 1.1 0 1 0 -2.2 0M449.3 72.3a1.1 1.1 0 1 0 2.2 0a1.1 1.1 0 1 0 -2.2 0M447.1 65.4a1.1 1.1 0 1 0 2.2 0a1.1 1.1 0 1 0 -2.2 0M439.5 79.3a1.1 1.1 0 1 0 2.2 0a1.1 1.1 0 1 0 -2.2 0M450.0 64.8a1.1 1.1 0 1 0 2.2 0a1.1 1.1 0 1 0 -2.2 0M423.1 84.8a1.1 1.1 0 1 0 2.2 0a1.1 1.1 0 1 0 -2.2 0M433.7 84.1a1.1 1.1 0 1 0 2.2 0a1.1 1.1 0 1 0 -2.2 0M440.2 70.1a1.1 1.1 0 1 0 2.2 0a1.1 1.1 0 1 0 -2.2 0M441.9 68.2a1.1 1.1 0 1 0 2.2 0a1.1 1.1 0 1 0 -2.2 0M430.4 73.5a1.1 1.1 0 1 0 2.2 0a1.1 1.1 0 1 0 -2.2 0M452.9 79.4a1.1 1.1 0 1 0 2.2 0a1.1 1.1 0 1 0 -2.2 0M455.7 64.6a1.1 1.1 0 1 0 2.2 0a1.1 1.1 0 1 0 -2.2 0M447.3 63.9a1.1 1.1 0 1 0 2.2 0a1.1 1.1 0 1 0 -2.2 0M448.9 73.8a1.1 1.1 0 1 0 2.2 0a1.1 1.1 0 1 0 -2.2 0M453.6 66.6a1.1 1.1 0 1 0 2.2 0a1.1 1.1 0 1 0 -2.2 0M449.2 69.3a1.1 1.1 0 1 0 2.2 0a1.1 1.1 0 1 0 -2.2 0M430.5 73.1a1.1 1.1 0 1 0 2.2 0a1.1 1.1 0 1 0 -2.2 0M438.4 63.2a1.1 1.1 0 1 0 2.2 0a1.1 1.1 0 1 0 -2.2 0M457.5 61.9a1.1 1.1 0 1 0 2.2 0a1.1 1.1 0 1 0 -2.2 0M430.5 72.9a1.1 1.1 0 1 0 2.2 0a1.1 1.1 0 1 0 -2.2 0M442.4 64.4a1.1 1.1 0 1 0 2.2 0a1.1 1.1 0 1 0 -2.2 0M438.5 68.9a1.1 1.1 0 1 0 2.2 0a1.1 1.1 0 1 0 -2.2 0M433.3 72.1a1.1 1.1 0 1 0 2.2 0a1.1 1.1 0 1 0 -2.2 0M435.4 79.9a1.1 1.1 0 1 0 2.2 0a1.1 1.1 0 1 0 -2.2 0M447.4 73.9a1.1 1.1 0 1 0 2.2 0a1.1 1.1 0 1 0 -2.2 0M449.3 72.0a1.1 1.1 0 1 0 2.2 0a1.1 1.1 0 1 0 -2.2 0M447.2 67.7a1.1 1.1 0 1 0 2.2 0a1.1 1.1 0 1 0 -2.2 0M426.7 73.5a1.1 1.1 0 1 0 2.2 0a1.1 1.1 0 1 0 -2.2 0M442.3 74.2a1.1 1.1 0 1 0 2.2 0a1.1 1.1 0 1 0 -2.2 0M449.5 71.6a1.1 1.1 0 1 0 2.2 0a1.1 1.1 0 1 0 -2.2 0M457.1 70.8a1.1 1.1 0 1 0 2.2 0a1.1 1.1 0 1 0 -2.2 0M452.1 67.9a1.1 1.1 0 1 0 2.2 0a1.1 1.1 0 1 0 -2.2 0M453.7 66.7a1.1 1.1 0 1 0 2.2 0a1.1 1.1 0 1 0 -2.2 0M457.4 67.2a1.1 1.1 0 1 0 2.2 0a1.1 1.1 0 1 0 -2.2 0M452.0 63.4a1.1 1.1 0 1 0 2.2 0a1.1 1.1 0 1 0 -2.2 0M434.4 72.2a1.1 1.1 0 1 0 2.2 0a1.1 1.1 0 1 0 -2.2 0M446.8 73.8a1.1 1.1 0 1 0 2.2 0a1.1 1.1 0 1 0 -2.2 0M434.7 69.8a1.1 1.1 0 1 0 2.2 0a1.1 1.1 0 1 0 -2.2 0M418.8 83.2a1.1 1.1 0 1 0 2.2 0a1.1 1.1 0 1 0 -2.2 0M428.1 83.2a1.1 1.1 0 1 0 2.2 0a1.1 1.1 0 1 0 -2.2 0M468.1 61.9a1.1 1.1 0 1 0 2.2 0a1.1 1.1 0 1 0 -2.2 0M433.6 78.9a1.1 1.1 0 1 0 2.2 0a1.1 1.1 0 1 0 -2.2 0M418.3 78.2a1.1 1.1 0 1 0 2.2 0a1.1 1.1 0 1 0 -2.2 0M438.3 73.9a1.1 1.1 0 1 0 2.2 0a1.1 1.1 0 1 0 -2.2 0M460.9 62.6a1.1 1.1 0 1 0 2.2 0a1.1 1.1 0 1 0 -2.2 0M445.6 74.2a1.1 1.1 0 1 0 2.2 0a1.1 1.1 0 1 0 -2.2 0M450.2 71.2a1.1 1.1 0 1 0 2.2 0a1.1 1.1 0 1 0 -2.2 0M442.0 73.0a1.1 1.1 0 1 0 2.2 0a1.1 1.1 0 1 0 -2.2 0M447.7 79.9a1.1 1.1 0 1 0 2.2 0a1.1 1.1 0 1 0 -2.2 0M459.7 67.4a1.1 1.1 0 1 0 2.2 0a1.1 1.1 0 1 0 -2.2 0M453.0 66.3a1.1 1.1 0 1 0 2.2 0a1.1 1.1 0 1 0 -2.2 0M442.8 69.4a1.1 1.1 0 1 0 2.2 0a1.1 1.1 0 1 0 -2.2 0M454.5 66.9a1.1 1.1 0 1 0 2.2 0a1.1 1.1 0 1 0 -2.2 0M455.5 63.7a1.1 1.1 0 1 0 2.2 0a1.1 1.1 0 1 0 -2.2 0M445.7 79.5a1.1 1.1 0 1 0 2.2 0a1.1 1.1 0 1 0 -2.2 0M449.0 72.6a1.1 1.1 0 1 0 2.2 0a1.1 1.1 0 1 0 -2.2 0M447.1 69.0a1.1 1.1 0 1 0 2.2 0a1.1 1.1 0 1 0 -2.2 0M436.4 72.2a1.1 1.1 0 1 0 2.2 0a1.1 1.1 0 1 0 -2.2 0M455.4 61.3a1.1 1.1 0 1 0 2.2 0a1.1 1.1 0 1 0 -2.2 0M442.6 71.3a1.1 1.1 0 1 0 2.2 0a1.1 1.1 0 1 0 -2.2 0M440.8 80.2a1.1 1.1 0 1 0 2.2 0a1.1 1.1 0 1 0 -2.2 0M428.4 83.6a1.1 1.1 0 1 0 2.2 0a1.1 1.1 0 1 0 -2.2 0M431.1 77.8a1.1 1.1 0 1 0 2.2 0a1.1 1.1 0 1 0 -2.2 0M461.8 64.5a1.1 1.1 0 1 0 2.2 0a1.1 1.1 0 1 0 -2.2 0M428.9 69.6a1.1 1.1 0 1 0 2.2 0a1.1 1.1 0 1 0 -2.2 0M451.1 72.6a1.1 1.1 0 1 0 2.2 0a1.1 1.1 0 1 0 -2.2 0M440.5 72.6a1.1 1.1 0 1 0 2.2 0a1.1 1.1 0 1 0 -2.2 0M453.2 74.8a1.1 1.1 0 1 0 2.2 0a1.1 1.1 0 1 0 -2.2 0M451.2 67.8a1.1 1.1 0 1 0 2.2 0a1.1 1.1 0 1 0 -2.2 0M435.6 73.5a1.1 1.1 0 1 0 2.2 0a1.1 1.1 0 1 0 -2.2 0M442.2 74.0a1.1 1.1 0 1 0 2.2 0a1.1 1.1 0 1 0 -2.2 0M444.8 68.5a1.1 1.1 0 1 0 2.2 0a1.1 1.1 0 1 0 -2.2 0M448.8 76.7a1.1 1.1 0 1 0 2.2 0a1.1 1.1 0 1 0 -2.2 0M445.2 73.0a1.1 1.1 0 1 0 2.2 0a1.1 1.1 0 1 0 -2.2 0M442.3 74.8a1.1 1.1 0 1 0 2.2 0a1.1 1.1 0 1 0 -2.2 0M452.5 69.9a1.1 1.1 0 1 0 2.2 0a1.1 1.1 0 1 0 -2.2 0M458.6 63.5a1.1 1.1 0 1 0 2.2 0a1.1 1.1 0 1 0 -2.2 0M451.8 70.9a1.1 1.1 0 1 0 2.2 0a1.1 1.1 0 1 0 -2.2 0M437.3 76.2a1.1 1.1 0 1 0 2.2 0a1.1 1.1 0 1 0 -2.2 0M452.7 77.0a1.1 1.1 0 1 0 2.2 0a1.1 1.1 0 1 0 -2.2 0M445.8 71.6a1.1 1.1 0 1 0 2.2 0a1.1 1.1 0 1 0 -2.2 0M450.7 70.9a1.1 1.1 0 1 0 2.2 0a1.1 1.1 0 1 0 -2.2 0M464.2 60.5a1.1 1.1 0 1 0 2.2 0a1.1 1.1 0 1 0 -2.2 0M442.0 71.3a1.1 1.1 0 1 0 2.2 0a1.1 1.1 0 1 0 -2.2 0M444.3 70.5a1.1 1.1 0 1 0 2.2 0a1.1 1.1 0 1 0 -2.2 0M437.9 81.7a1.1 1.1 0 1 0 2.2 0a1.1 1.1 0 1 0 -2.2 0M442.1 73.6a1.1 1.1 0 1 0 2.2 0a1.1 1.1 0 1 0 -2.2 0M440.7 78.8a1.1 1.1 0 1 0 2.2 0a1.1 1.1 0 1 0 -2.2 0M461.9 62.6a1.1 1.1 0 1 0 2.2 0a1.1 1.1 0 1 0 -2.2 0M447.7 68.8a1.1 1.1 0 1 0 2.2 0a1.1 1.1 0 1 0 -2.2 0M435.1 66.7a1.1 1.1 0 1 0 2.2 0a1.1 1.1 0 1 0 -2.2 0M467.7 65.5a1.1 1.1 0 1 0 2.2 0a1.1 1.1 0 1 0 -2.2 0M434.6 87.2a1.1 1.1 0 1 0 2.2 0a1.1 1.1 0 1 0 -2.2 0M454.0 66.6a1.1 1.1 0 1 0 2.2 0a1.1 1.1 0 1 0 -2.2 0M458.9 72.7a1.1 1.1 0 1 0 2.2 0a1.1 1.1 0 1 0 -2.2 0M453.0 72.5a1.1 1.1 0 1 0 2.2 0a1.1 1.1 0 1 0 -2.2 0M440.9 70.4a1.1 1.1 0 1 0 2.2 0a1.1 1.1 0 1 0 -2.2 0M445.2 75.7a1.1 1.1 0 1 0 2.2 0a1.1 1.1 0 1 0 -2.2 0M439.6 69.9a1.1 1.1 0 1 0 2.2 0a1.1 1.1 0 1 0 -2.2 0M453.1 66.7a1.1 1.1 0 1 0 2.2 0a1.1 1.1 0 1 0 -2.2 0M422.1 88.8a1.1 1.1 0 1 0 2.2 0a1.1 1.1 0 1 0 -2.2 0M439.8 75.2a1.1 1.1 0 1 0 2.2 0a1.1 1.1 0 1 0 -2.2 0M444.5 66.3a1.1 1.1 0 1 0 2.2 0a1.1 1.1 0 1 0 -2.2 0M441.5 80.8a1.1 1.1 0 1 0 2.2 0a1.1 1.1 0 1 0 -2.2 0M423.2 76.6a1.1 1.1 0 1 0 2.2 0a1.1 1.1 0 1 0 -2.2 0M442.1 72.5a1.1 1.1 0 1 0 2.2 0a1.1 1.1 0 1 0 -2.2 0M436.2 74.3a1.1 1.1 0 1 0 2.2 0a1.1 1.1 0 1 0 -2.2 0M453.5 67.2a1.1 1.1 0 1 0 2.2 0a1.1 1.1 0 1 0 -2.2 0M458.6 61.3a1.1 1.1 0 1 0 2.2 0a1.1 1.1 0 1 0 -2.2 0M442.7 64.8a1.1 1.1 0 1 0 2.2 0a1.1 1.1 0 1 0 -2.2 0M427.7 89.5a1.1 1.1 0 1 0 2.2 0a1.1 1.1 0 1 0 -2.2 0M441.1 69.0a1.1 1.1 0 1 0 2.2 0a1.1 1.1 0 1 0 -2.2 0M433.3 72.9a1.1 1.1 0 1 0 2.2 0a1.1 1.1 0 1 0 -2.2 0M447.8 58.3a1.1 1.1 0 1 0 2.2 0a1.1 1.1 0 1 0 -2.2 0M463.7 63.7a1.1 1.1 0 1 0 2.2 0a1.1 1.1 0 1 0 -2.2 0M451.0 75.7a1.1 1.1 0 1 0 2.2 0a1.1 1.1 0 1 0 -2.2 0M469.9 67.4a1.1 1.1 0 1 0 2.2 0a1.1 1.1 0 1 0 -2.2 0M466.9 75.8a1.1 1.1 0 1 0 2.2 0a1.1 1.1 0 1 0 -2.2 0M455.6 74.6a1.1 1.1 0 1 0 2.2 0a1.1 1.1 0 1 0 -2.2 0M436.5 78.0a1.1 1.1 0 1 0 2.2 0a1.1 1.1 0 1 0 -2.2 0M447.4 71.0a1.1 1.1 0 1 0 2.2 0a1.1 1.1 0 1 0 -2.2 0M433.3 84.7a1.1 1.1 0 1 0 2.2 0a1.1 1.1 0 1 0 -2.2 0M457.6 66.0a1.1 1.1 0 1 0 2.2 0a1.1 1.1 0 1 0 -2.2 0M448.1 71.6a1.1 1.1 0 1 0 2.2 0a1.1 1.1 0 1 0 -2.2 0M459.5 60.3a1.1 1.1 0 1 0 2.2 0a1.1 1.1 0 1 0 -2.2 0M449.9 70.2a1.1 1.1 0 1 0 2.2 0a1.1 1.1 0 1 0 -2.2 0M429.3 89.3a1.1 1.1 0 1 0 2.2 0a1.1 1.1 0 1 0 -2.2 0M453.5 67.6a1.1 1.1 0 1 0 2.2 0a1.1 1.1 0 1 0 -2.2 0M457.6 68.1a1.1 1.1 0 1 0 2.2 0a1.1 1.1 0 1 0 -2.2 0M460.1 52.7a1.1 1.1 0 1 0 2.2 0a1.1 1.1 0 1 0 -2.2 0M438.7 81.7a1.1 1.1 0 1 0 2.2 0a1.1 1.1 0 1 0 -2.2 0M437.4 77.4a1.1 1.1 0 1 0 2.2 0a1.1 1.1 0 1 0 -2.2 0M450.1 76.7a1.1 1.1 0 1 0 2.2 0a1.1 1.1 0 1 0 -2.2 0M435.7 77.5a1.1 1.1 0 1 0 2.2 0a1.1 1.1 0 1 0 -2.2 0M430.0 74.6a1.1 1.1 0 1 0 2.2 0a1.1 1.1 0 1 0 -2.2 0M432.1 71.0a1.1 1.1 0 1 0 2.2 0a1.1 1.1 0 1 0 -2.2 0M475.7 60.1a1.1 1.1 0 1 0 2.2 0a1.1 1.1 0 1 0 -2.2 0M439.6 74.3a1.1 1.1 0 1 0 2.2 0a1.1 1.1 0 1 0 -2.2 0M433.5 72.3a1.1 1.1 0 1 0 2.2 0a1.1 1.1 0 1 0 -2.2 0M441.3 73.2a1.1 1.1 0 1 0 2.2 0a1.1 1.1 0 1 0 -2.2 0M445.0 68.5a1.1 1.1 0 1 0 2.2 0a1.1 1.1 0 1 0 -2.2 0M461.6 67.6a1.1 1.1 0 1 0 2.2 0a1.1 1.1 0 1 0 -2.2 0M455.6 64.7a1.1 1.1 0 1 0 2.2 0a1.1 1.1 0 1 0 -2.2 0M452.3 62.1a1.1 1.1 0 1 0 2.2 0a1.1 1.1 0 1 0 -2.2 0M446.4 70.5a1.1 1.1 0 1 0 2.2 0a1.1 1.1 0 1 0 -2.2 0M446.7 68.0a1.1 1.1 0 1 0 2.2 0a1.1 1.1 0 1 0 -2.2 0M442.0 80.5a1.1 1.1 0 1 0 2.2 0a1.1 1.1 0 1 0 -2.2 0M428.8 76.8a1.1 1.1 0 1 0 2.2 0a1.1 1.1 0 1 0 -2.2 0M465.6 55.2a1.1 1.1 0 1 0 2.2 0a1.1 1.1 0 1 0 -2.2 0M440.9 73.1a1.1 1.1 0 1 0 2.2 0a1.1 1.1 0 1 0 -2.2 0M456.5 64.8a1.1 1.1 0 1 0 2.2 0a1.1 1.1 0 1 0 -2.2 0M428.5 68.2a1.1 1.1 0 1 0 2.2 0a1.1 1.1 0 1 0 -2.2 0M428.1 76.5a1.1 1.1 0 1 0 2.2 0a1.1 1.1 0 1 0 -2.2 0M420.6 64.9a1.1 1.1 0 1 0 2.2 0a1.1 1.1 0 1 0 -2.2 0M426.4 83.4a1.1 1.1 0 1 0 2.2 0a1.1 1.1 0 1 0 -2.2 0M426.1 78.5a1.1 1.1 0 1 0 2.2 0a1.1 1.1 0 1 0 -2.2 0M419.5 76.0a1.1 1.1 0 1 0 2.2 0a1.1 1.1 0 1 0 -2.2 0M423.2 78.2a1.1 1.1 0 1 0 2.2 0a1.1 1.1 0 1 0 -2.2 0M427.9 70.3a1.1 1.1 0 1 0 2.2 0a1.1 1.1 0 1 0 -2.2 0M417.1 70.2a1.1 1.1 0 1 0 2.2 0a1.1 1.1 0 1 0 -2.2 0M420.1 79.1a1.1 1.1 0 1 0 2.2 0a1.1 1.1 0 1 0 -2.2 0M423.8 79.6a1.1 1.1 0 1 0 2.2 0a1.1 1.1 0 1 0 -2.2 0M426.0 75.7a1.1 1.1 0 1 0 2.2 0a1.1 1.1 0 1 0 -2.2 0M429.6 74.7a1.1 1.1 0 1 0 2.2 0a1.1 1.1 0 1 0 -2.2 0M418.3 72.3a1.1 1.1 0 1 0 2.2 0a1.1 1.1 0 1 0 -2.2 0M428.2 81.9a1.1 1.1 0 1 0 2.2 0a1.1 1.1 0 1 0 -2.2 0M430.2 67.5a1.1 1.1 0 1 0 2.2 0a1.1 1.1 0 1 0 -2.2 0M435.7 70.7a1.1 1.1 0 1 0 2.2 0a1.1 1.1 0 1 0 -2.2 0M423.9 72.3a1.1 1.1 0 1 0 2.2 0a1.1 1.1 0 1 0 -2.2 0M420.9 67.3a1.1 1.1 0 1 0 2.2 0a1.1 1.1 0 1 0 -2.2 0M417.2 68.3a1.1 1.1 0 1 0 2.2 0a1.1 1.1 0 1 0 -2.2 0M429.7 69.8a1.1 1.1 0 1 0 2.2 0a1.1 1.1 0 1 0 -2.2 0M434.1 80.0a1.1 1.1 0 1 0 2.2 0a1.1 1.1 0 1 0 -2.2 0M422.3 84.0a1.1 1.1 0 1 0 2.2 0a1.1 1.1 0 1 0 -2.2 0M429.1 76.7a1.1 1.1 0 1 0 2.2 0a1.1 1.1 0 1 0 -2.2 0M431.6 66.9a1.1 1.1 0 1 0 2.2 0a1.1 1.1 0 1 0 -2.2 0M432.2 72.0a1.1 1.1 0 1 0 2.2 0a1.1 1.1 0 1 0 -2.2 0M424.2 74.3a1.1 1.1 0 1 0 2.2 0a1.1 1.1 0 1 0 -2.2 0M430.5 73.7a1.1 1.1 0 1 0 2.2 0a1.1 1.1 0 1 0 -2.2 0M426.4 73.1a1.1 1.1 0 1 0 2.2 0a1.1 1.1 0 1 0 -2.2 0M421.1 77.6a1.1 1.1 0 1 0 2.2 0a1.1 1.1 0 1 0 -2.2 0M428.4 65.3a1.1 1.1 0 1 0 2.2 0a1.1 1.1 0 1 0 -2.2 0M429.0 72.1a1.1 1.1 0 1 0 2.2 0a1.1 1.1 0 1 0 -2.2 0M421.1 76.1a1.1 1.1 0 1 0 2.2 0a1.1 1.1 0 1 0 -2.2 0M429.6 78.6a1.1 1.1 0 1 0 2.2 0a1.1 1.1 0 1 0 -2.2 0M438.9 76.5a1.1 1.1 0 1 0 2.2 0a1.1 1.1 0 1 0 -2.2 0M418.0 75.1a1.1 1.1 0 1 0 2.2 0a1.1 1.1 0 1 0 -2.2 0M431.2 74.4a1.1 1.1 0 1 0 2.2 0a1.1 1.1 0 1 0 -2.2 0M432.5 71.7a1.1 1.1 0 1 0 2.2 0a1.1 1.1 0 1 0 -2.2 0M427.3 75.5a1.1 1.1 0 1 0 2.2 0a1.1 1.1 0 1 0 -2.2 0M429.0 74.1a1.1 1.1 0 1 0 2.2 0a1.1 1.1 0 1 0 -2.2 0M425.4 71.6a1.1 1.1 0 1 0 2.2 0a1.1 1.1 0 1 0 -2.2 0M435.1 81.1a1.1 1.1 0 1 0 2.2 0a1.1 1.1 0 1 0 -2.2 0M421.3 81.1a1.1 1.1 0 1 0 2.2 0a1.1 1.1 0 1 0 -2.2 0M426.1 73.3a1.1 1.1 0 1 0 2.2 0a1.1 1.1 0 1 0 -2.2 0M415.3 78.2a1.1 1.1 0 1 0 2.2 0a1.1 1.1 0 1 0 -2.2 0M428.8 81.2a1.1 1.1 0 1 0 2.2 0a1.1 1.1 0 1 0 -2.2 0M429.1 76.5a1.1 1.1 0 1 0 2.2 0a1.1 1.1 0 1 0 -2.2 0M416.8 75.8a1.1 1.1 0 1 0 2.2 0a1.1 1.1 0 1 0 -2.2 0M421.6 77.7a1.1 1.1 0 1 0 2.2 0a1.1 1.1 0 1 0 -2.2 0M429.6 67.0a1.1 1.1 0 1 0 2.2 0a1.1 1.1 0 1 0 -2.2 0M423.8 68.1a1.1 1.1 0 1 0 2.2 0a1.1 1.1 0 1 0 -2.2 0M419.5 77.8a1.1 1.1 0 1 0 2.2 0a1.1 1.1 0 1 0 -2.2 0M411.7 76.6a1.1 1.1 0 1 0 2.2 0a1.1 1.1 0 1 0 -2.2 0M428.7 82.1a1.1 1.1 0 1 0 2.2 0a1.1 1.1 0 1 0 -2.2 0M438.3 72.7a1.1 1.1 0 1 0 2.2 0a1.1 1.1 0 1 0 -2.2 0M423.9 80.7a1.1 1.1 0 1 0 2.2 0a1.1 1.1 0 1 0 -2.2 0M429.2 80.5a1.1 1.1 0 1 0 2.2 0a1.1 1.1 0 1 0 -2.2 0M429.1 85.1a1.1 1.1 0 1 0 2.2 0a1.1 1.1 0 1 0 -2.2 0M426.1 71.2a1.1 1.1 0 1 0 2.2 0a1.1 1.1 0 1 0 -2.2 0M427.2 73.5a1.1 1.1 0 1 0 2.2 0a1.1 1.1 0 1 0 -2.2 0M427.3 76.6a1.1 1.1 0 1 0 2.2 0a1.1 1.1 0 1 0 -2.2 0M421.4 76.6a1.1 1.1 0 1 0 2.2 0a1.1 1.1 0 1 0 -2.2 0M441.6 70.3a1.1 1.1 0 1 0 2.2 0a1.1 1.1 0 1 0 -2.2 0M442.9 72.4a1.1 1.1 0 1 0 2.2 0a1.1 1.1 0 1 0 -2.2 0M428.4 68.7a1.1 1.1 0 1 0 2.2 0a1.1 1.1 0 1 0 -2.2 0M437.3 86.8a1.1 1.1 0 1 0 2.2 0a1.1 1.1 0 1 0 -2.2 0M421.7 74.9a1.1 1.1 0 1 0 2.2 0a1.1 1.1 0 1 0 -2.2 0M425.2 75.2a1.1 1.1 0 1 0 2.2 0a1.1 1.1 0 1 0 -2.2 0M433.4 72.2a1.1 1.1 0 1 0 2.2 0a1.1 1.1 0 1 0 -2.2 0M419.7 75.4a1.1 1.1 0 1 0 2.2 0a1.1 1.1 0 1 0 -2.2 0M463.6 60.5a1.1 1.1 0 1 0 2.2 0a1.1 1.1 0 1 0 -2.2 0M459.5 62.3a1.1 1.1 0 1 0 2.2 0a1.1 1.1 0 1 0 -2.2 0M460.9 62.8a1.1 1.1 0 1 0 2.2 0a1.1 1.1 0 1 0 -2.2 0M471.7 66.6a1.1 1.1 0 1 0 2.2 0a1.1 1.1 0 1 0 -2.2 0M464.5 61.6a1.1 1.1 0 1 0 2.2 0a1.1 1.1 0 1 0 -2.2 0M461.4 61.1a1.1 1.1 0 1 0 2.2 0a1.1 1.1 0 1 0 -2.2 0M458.3 60.3a1.1 1.1 0 1 0 2.2 0a1.1 1.1 0 1 0 -2.2 0M461.8 65.0a1.1 1.1 0 1 0 2.2 0a1.1 1.1 0 1 0 -2.2 0M456.6 59.3a1.1 1.1 0 1 0 2.2 0a1.1 1.1 0 1 0 -2.2 0M463.5 66.5a1.1 1.1 0 1 0 2.2 0a1.1 1.1 0 1 0 -2.2 0M458.5 63.7a1.1 1.1 0 1 0 2.2 0a1.1 1.1 0 1 0 -2.2 0M456.7 59.5a1.1 1.1 0 1 0 2.2 0a1.1 1.1 0 1 0 -2.2 0M459.6 63.8a1.1 1.1 0 1 0 2.2 0a1.1 1.1 0 1 0 -2.2 0M456.8 63.9a1.1 1.1 0 1 0 2.2 0a1.1 1.1 0 1 0 -2.2 0M462.9 65.9a1.1 1.1 0 1 0 2.2 0a1.1 1.1 0 1 0 -2.2 0M468.9 55.1a1.1 1.1 0 1 0 2.2 0a1.1 1.1 0 1 0 -2.2 0M458.8 64.2a1.1 1.1 0 1 0 2.2 0a1.1 1.1 0 1 0 -2.2 0M454.7 65.0a1.1 1.1 0 1 0 2.2 0a1.1 1.1 0 1 0 -2.2 0M465.4 64.1a1.1 1.1 0 1 0 2.2 0a1.1 1.1 0 1 0 -2.2 0M459.3 59.7a1.1 1.1 0 1 0 2.2 0a1.1 1.1 0 1 0 -2.2 0M467.5 57.9a1.1 1.1 0 1 0 2.2 0a1.1 1.1 0 1 0 -2.2 0M464.3 67.8a1.1 1.1 0 1 0 2.2 0a1.1 1.1 0 1 0 -2.2 0M464.9 63.1a1.1 1.1 0 1 0 2.2 0a1.1 1.1 0 1 0 -2.2 0M456.4 59.7a1.1 1.1 0 1 0 2.2 0a1.1 1.1 0 1 0 -2.2 0M455.1 65.9a1.1 1.1 0 1 0 2.2 0a1.1 1.1 0 1 0 -2.2 0M459.3 60.8a1.1 1.1 0 1 0 2.2 0a1.1 1.1 0 1 0 -2.2 0M462.5 60.0a1.1 1.1 0 1 0 2.2 0a1.1 1.1 0 1 0 -2.2 0M456.3 60.6a1.1 1.1 0 1 0 2.2 0a1.1 1.1 0 1 0 -2.2 0M455.8 67.8a1.1 1.1 0 1 0 2.2 0a1.1 1.1 0 1 0 -2.2 0M457.9 62.1a1.1 1.1 0 1 0 2.2 0a1.1 1.1 0 1 0 -2.2 0M408.6 60.2a1.1 1.1 0 1 0 2.2 0a1.1 1.1 0 1 0 -2.2 0M399.0 67.7a1.1 1.1 0 1 0 2.2 0a1.1 1.1 0 1 0 -2.2 0M403.6 67.7a1.1 1.1 0 1 0 2.2 0a1.1 1.1 0 1 0 -2.2 0M406.1 66.0a1.1 1.1 0 1 0 2.2 0a1.1 1.1 0 1 0 -2.2 0M392.0 75.3a1.1 1.1 0 1 0 2.2 0a1.1 1.1 0 1 0 -2.2 0M401.5 71.5a1.1 1.1 0 1 0 2.2 0a1.1 1.1 0 1 0 -2.2 0M411.6 67.7a1.1 1.1 0 1 0 2.2 0a1.1 1.1 0 1 0 -2.2 0M415.4 66.5a1.1 1.1 0 1 0 2.2 0a1.1 1.1 0 1 0 -2.2 0M410.4 72.8a1.1 1.1 0 1 0 2.2 0a1.1 1.1 0 1 0 -2.2 0M399.0 77.8a1.1 1.1 0 1 0 2.2 0a1.1 1.1 0 1 0 -2.2 0M401.5 80.3a1.1 1.1 0 1 0 2.2 0a1.1 1.1 0 1 0 -2.2 0M409.1 85.4a1.1 1.1 0 1 0 2.2 0a1.1 1.1 0 1 0 -2.2 0M396.5 91.7a1.1 1.1 0 1 0 2.2 0a1.1 1.1 0 1 0 -2.2 0M400.3 94.2a1.1 1.1 0 1 0 2.2 0a1.1 1.1 0 1 0 -2.2 0M414.1 80.3a1.1 1.1 0 1 0 2.2 0a1.1 1.1 0 1 0 -2.2 0M416.2 77.8a1.1 1.1 0 1 0 2.2 0a1.1 1.1 0 1 0 -2.2 0M420.5 96.7a1.1 1.1 0 1 0 2.2 0a1.1 1.1 0 1 0 -2.2 0M424.2 92.9a1.1 1.1 0 1 0 2.2 0a1.1 1.1 0 1 0 -2.2 0M445.1 48.6a1.1 1.1 0 1 0 2.2 0a1.1 1.1 0 1 0 -2.2 0M453.4 47.1a1.1 1.1 0 1 0 2.2 0a1.1 1.1 0 1 0 -2.2 0M468.9 44.8a1.1 1.1 0 1 0 2.2 0a1.1 1.1 0 1 0 -2.2 0M474.9 47.9a1.1 1.1 0 1 0 2.2 0a1.1 1.1 0 1 0 -2.2 0M461.8 53.8a1.1 1.1 0 1 0 2.2 0a1.1 1.1 0 1 0 -2.2 0M454.6 55.0a1.1 1.1 0 1 0 2.2 0a1.1 1.1 0 1 0 -2.2 0M454.6 88.3a1.1 1.1 0 1 0 2.2 0a1.1 1.1 0 1 0 -2.2 0M462.9 87.1a1.1 1.1 0 1 0 2.2 0a1.1 1.1 0 1 0 -2.2 0M461.8 92.4a1.1 1.1 0 1 0 2.2 0a1.1 1.1 0 1 0 -2.2 0M470.1 90.7a1.1 1.1 0 1 0 2.2 0a1.1 1.1 0 1 0 -2.2 0M473.7 84.8a1.1 1.1 0 1 0 2.2 0a1.1 1.1 0 1 0 -2.2 0M474.9 77.6a1.1 1.1 0 1 0 2.2 0a1.1 1.1 0 1 0 -2.2 0M468.9 72.9a1.1 1.1 0 1 0 2.2 0a1.1 1.1 0 1 0 -2.2 0M476.0 63.3a1.1 1.1 0 1 0 2.2 0a1.1 1.1 0 1 0 -2.2 0M423.7 94.3a1.1 1.1 0 1 0 2.2 0a1.1 1.1 0 1 0 -2.2 0M435.6 87.1a1.1 1.1 0 1 0 2.2 0a1.1 1.1 0 1 0 -2.2 0M442.7 84.8a1.1 1.1 0 1 0 2.2 0a1.1 1.1 0 1 0 -2.2 0M470.1 45.0a1.1 1.1 0 1 0 2.2 0a1.1 1.1 0 1 0 -2.2 0M476.5 52.0a1.1 1.1 0 1 0 2.2 0a1.1 1.1 0 1 0 -2.2 0M482.9 52.0a1.1 1.1 0 1 0 2.2 0a1.1 1.1 0 1 0 -2.2 0M487.7 61.6a1.1 1.1 0 1 0 2.2 0a1.1 1.1 0 1 0 -2.2 0M497.3 60.0a1.1 1.1 0 1 0 2.2 0a1.1 1.1 0 1 0 -2.2 0M498.9 64.8a1.1 1.1 0 1 0 2.2 0a1.1 1.1 0 1 0 -2.2 0M494.1 66.4a1.1 1.1 0 1 0 2.2 0a1.1 1.1 0 1 0 -2.2 0M490.9 69.6a1.1 1.1 0 1 0 2.2 0a1.1 1.1 0 1 0 -2.2 0M502.1 69.6a1.1 1.1 0 1 0 2.2 0a1.1 1.1 0 1 0 -2.2 0M519.7 64.8a1.1 1.1 0 1 0 2.2 0a1.1 1.1 0 1 0 -2.2 0M484.5 69.6a1.1 1.1 0 1 0 2.2 0a1.1 1.1 0 1 0 -2.2 0M479.7 71.2a1.1 1.1 0 1 0 2.2 0a1.1 1.1 0 1 0 -2.2 0M490.9 76.0a1.1 1.1 0 1 0 2.2 0a1.1 1.1 0 1 0 -2.2 0M494.1 79.2a1.1 1.1 0 1 0 2.2 0a1.1 1.1 0 1 0 -2.2 0M473.3 84.0a1.1 1.1 0 1 0 2.2 0a1.1 1.1 0 1 0 -2.2 0M463.7 87.2a1.1 1.1 0 1 0 2.2 0a1.1 1.1 0 1 0 -2.2 0M495.7 85.6a1.1 1.1 0 1 0 2.2 0a1.1 1.1 0 1 0 -2.2 0M518.1 80.1a1.1 1.1 0 1 0 2.2 0a1.1 1.1 0 1 0 -2.2 0M533.1 85.6a1.1 1.1 0 1 0 2.2 0a1.1 1.1 0 1 0 -2.2 0M463.7 92.9a1.1 1.1 0 1 0 2.2 0a1.1 1.1 0 1 0 -2.2 0M392.1 75.2a1.1 1.1 0 1 0 2.2 0a1.1 1.1 0 1 0 -2.2 0M399.6 76.7a1.1 1.1 0 1 0 2.2 0a1.1 1.1 0 1 0 -2.2 0M401.1 79.7a1.1 1.1 0 1 0 2.2 0a1.1 1.1 0 1 0 -2.2 0M396.6 91.7a1.1 1.1 0 1 0 2.2 0a1.1 1.1 0 1 0 -2.2 0M399.6 93.9a1.1 1.1 0 1 0 2.2 0a1.1 1.1 0 1 0 -2.2 0M408.6 80.5a1.1 1.1 0 1 0 2.2 0a1.1 1.1 0 1 0 -2.2 0M409.3 85.0a1.1 1.1 0 1 0 2.2 0a1.1 1.1 0 1 0 -2.2 0M408.6 86.5a1.1 1.1 0 1 0 2.2 0a1.1 1.1 0 1 0 -2.2 0M411.6 78.2a1.1 1.1 0 1 0 2.2 0a1.1 1.1 0 1 0 -2.2 0M413.1 79.7a1.1 1.1 0 1 0 2.2 0a1.1 1.1 0 1 0 -2.2 0M415.3 76.0a1.1 1.1 0 1 0 2.2 0a1.1 1.1 0 1 0 -2.2 0M416.1 82.0a1.1 1.1 0 1 0 2.2 0a1.1 1.1 0 1 0 -2.2 0M419.8 97.7a1.1 1.1 0 1 0 2.2 0a1.1 1.1 0 1 0 -2.2 0M424.3 94.0a1.1 1.1 0 1 0 2.2 0a1.1 1.1 0 1 0 -2.2 0M419.8 89.5a1.1 1.1 0 1 0 2.2 0a1.1 1.1 0 1 0 -2.2 0M421.3 86.5a1.1 1.1 0 1 0 2.2 0a1.1 1.1 0 1 0 -2.2 0M435.5 87.2a1.1 1.1 0 1 0 2.2 0a1.1 1.1 0 1 0 -2.2 0M442.3 85.0a1.1 1.1 0 1 0 2.2 0a1.1 1.1 0 1 0 -2.2 0M500.5 56.5a1.1 1.1 0 1 0 2.2 0a1.1 1.1 0 1 0 -2.2 0"/>
<line x1="384.8" y1="113.95" x2="546.20" y2="4.0" stroke="#2f4f4f" stroke-width="1.3" stroke-dasharray="2.8 1.5"/>
<line x1="384.8" y1="103.2" x2="546.20" y2="19.7" stroke="#f03c3c" stroke-width="1.3"/>
<rect x="384.8" y="4.0" width="161.4" height="109.95" fill="none" stroke="#8e8e8e" stroke-width="1.3"/>
<rect x="389.50" y="7.5" width="40.9" height="16.7" rx="0.6" fill="white" fill-opacity="0.9" stroke="#cfcfcf" stroke-width="0.7"/>
<text transform="translate(392.20,13.90)" font-size="6.4">MAE = 16.62</text>
<text transform="translate(392.20,20.90)" font-size="6.4">R^2 = 0.53</text>
<rect x="479.80" y="93" width="64.2" height="17.9" rx="0.6" fill="white" fill-opacity="0.9" stroke="#cfcfcf" stroke-width="0.7"/>
<line x1="482.20" y1="97.9" x2="494.40" y2="97.9" stroke="#2f4f4f" stroke-width="1.3" stroke-dasharray="2.8 1.5"/>
<line x1="482.20" y1="105.6" x2="494.40" y2="105.6" stroke="#f03c3c" stroke-width="1.3"/>
<text transform="translate(499.10,99.60)" font-size="5.75">Linear(1:1)</text>
<text transform="translate(499.10,107.40)" font-size="5.75">Regression(CNN)</text>
<text transform="translate(465.50,126.90)" text-anchor="middle" font-size="5.8">Observed CS (Mg C/ha)</text>
<text transform="translate(371.40,59.00) rotate(-90)" text-anchor="middle" font-size="5.8">Predicted CS (Mg C/ha)</text>
<text transform="translate(460.80,137.00)" text-anchor="middle" font-size="7.7" font-weight="bold" fill="#000">(C)</text></g>
<g class="ln" font-family='"Liberation Sans", sans-serif' fill="#262626"><polyline points="104.40,161.86 105.15,175.77 105.90,201.66 106.64,225.93 107.39,242.11 108.14,248.91 108.89,249.23 109.64,249.27 110.38,249.31 111.13,249.35 111.88,249.39 112.63,249.47 113.38,249.55 114.12,249.63 114.87,249.71 115.62,249.80 116.37,249.88 117.12,249.96 117.86,250.04 118.61,250.12 119.36,250.20 120.11,250.28 120.86,250.36 121.60,250.58 122.35,250.79 123.10,251.01 123.85,251.49 124.60,251.98 125.34,252.47 126.09,252.65 126.84,252.84 127.59,252.97 128.34,252.97 129.08,253.27 129.83,253.66 130.58,253.76 131.33,253.90 132.08,254.03 132.82,254.38 133.57,254.20 134.32,254.47 135.07,254.52 135.82,254.68 136.56,254.71 137.31,254.95 138.06,255.13 138.81,255.08 139.56,255.07 140.30,255.31 141.05,255.22 141.80,255.41 142.55,255.56 143.30,255.43 144.04,255.74 144.79,255.64 145.54,255.86 146.29,255.84 147.04,256.08 147.78,256.12 148.53,256.01 149.28,256.17 150.03,256.20 150.78,256.26 151.52,256.19 152.27,256.39 153.02,256.38 153.77,256.30 154.52,256.38 155.26,256.38 156.01,256.34 156.76,256.36 157.51,256.39 158.26,256.22 159.00,256.30 159.75,256.29 160.50,256.43 161.25,256.49 162.00,256.60 162.74,256.51 163.49,256.70 164.24,256.57 164.99,256.45 165.74,256.39 166.48,256.46 167.23,256.66 167.98,256.54 168.73,256.68 169.48,256.54 170.22,256.65 170.97,256.57 171.72,256.42 172.47,256.60 173.22,256.48 173.96,256.70 174.71,256.77 175.46,256.62 176.21,256.60 176.96,256.84 177.70,256.79 178.45,256.96 179.20,256.85 179.95,256.77 180.70,256.89 181.44,256.96 182.19,257.06 182.94,256.91 183.69,256.90 184.44,256.94 185.18,256.99 185.93,257.17 186.68,256.89 187.43,257.09 188.18,257.13 188.92,257.06 189.67,257.37 190.42,257.19 191.17,257.22 191.92,257.19 192.66,257.12 193.41,257.23 194.16,257.47 194.91,257.35 195.66,257.32 196.40,257.35 197.15,257.51 197.90,257.57 198.65,257.38 199.40,257.42 200.14,257.48 200.89,257.67 201.64,257.36 202.39,257.83 203.14,257.61 203.88,257.39 204.63,257.63 205.38,257.62 206.13,257.77 206.88,257.54 207.62,257.82 208.37,257.68 209.12,257.71 209.87,257.84 210.62,257.67 211.36,257.91 212.11,257.85 212.86,257.81 213.61,257.86 214.36,257.79 215.10,257.76 215.85,257.90 216.60,257.94 217.35,257.95 218.10,257.95 218.84,257.86 219.59,257.97 220.34,257.93 221.09,257.99 221.84,258.08 222.58,257.93 223.33,258.13 224.08,258.05 224.83,257.92 225.58,258.19 226.32,258.10 227.07,258.27 227.82,258.18 228.57,258.29 229.32,258.20 230.06,258.24 230.81,258.19 231.56,258.07 232.31,258.21 233.06,258.20 233.80,258.29 234.55,258.32 235.30,258.40 236.05,258.51 236.80,258.35 237.54,258.22 238.29,258.35 239.04,258.47 239.79,258.27 240.54,258.49 241.28,258.53 242.03,258.61 242.78,258.60 243.53,258.55 244.28,258.35 245.02,258.59 245.77,258.69 246.52,258.66 247.27,258.64 248.02,258.81 248.76,258.65 249.51,258.61 250.26,258.67 251.01,258.66 251.76,258.86 252.50,258.92 253.25,258.65" fill="none" stroke="#1f77b4" stroke-width="1.1" stroke-linejoin="round"/>
<polyline points="104.40,165.09 105.15,183.86 105.90,211.37 106.64,234.02 107.39,246.16 108.14,250.20 108.89,250.36 109.64,250.40 110.38,250.44 111.13,250.48 111.88,250.52 112.63,250.58 113.38,250.63 114.12,250.69 114.87,250.74 115.62,250.79 116.37,250.85 117.12,250.90 117.86,250.96 118.61,251.01 119.36,251.06 120.11,251.12 120.86,251.17 121.60,251.33 122.35,251.49 123.10,251.66 123.85,252.03 124.60,252.41 125.34,252.79 126.09,252.93 126.84,253.07 127.59,253.26 128.34,253.17 129.08,253.37 129.83,253.60 130.58,253.63 131.33,254.37 132.08,253.69 132.82,254.14 133.57,254.34 134.32,254.03 135.07,254.01 135.82,254.30 136.56,254.49 137.31,254.34 138.06,254.42 138.81,254.17 139.56,254.33 140.30,254.47 141.05,254.32 141.80,254.61 142.55,254.78 143.30,254.52 144.04,254.55 144.79,253.75 145.54,254.88 146.29,254.72 147.04,255.28 147.78,254.69 148.53,254.76 149.28,255.21 150.03,254.88 150.78,255.09 151.52,254.76 152.27,255.30 153.02,255.09 153.77,254.78 154.52,254.70 155.26,255.34 156.01,255.03 156.76,254.87 157.51,255.05 158.26,254.63 159.00,255.18 159.75,254.88 160.50,255.16 161.25,253.78 162.00,254.97 162.74,255.04 163.49,255.30 164.24,254.65 164.99,254.83 165.74,254.83 166.48,254.76 167.23,254.92 167.98,255.12 168.73,255.15 169.48,255.16 170.22,254.15 170.97,255.29 171.72,255.13 172.47,255.08 173.22,254.98 173.96,254.91 174.71,255.27 175.46,255.37 176.21,255.04 176.96,254.81 177.70,254.90 178.45,255.01 179.20,254.17 179.95,255.01 180.70,255.13 181.44,254.94 182.19,254.74 182.94,255.10 183.69,255.16 184.44,255.05 185.18,255.12 185.93,254.68 186.68,254.16 187.43,254.92 188.18,254.80 188.92,255.30 189.67,255.37 190.42,255.16 191.17,255.14 191.92,255.06 192.66,255.10 193.41,255.57 194.16,255.52 194.91,255.50 195.66,255.35 196.40,255.25 197.15,254.39 197.90,255.44 198.65,255.27 199.40,255.40 200.14,255.10 200.89,255.31 201.64,254.63 202.39,255.69 203.14,255.54 203.88,255.67 204.63,255.23 205.38,255.41 206.13,255.61 206.88,255.66 207.62,255.49 208.37,255.74 209.12,255.80 209.87,255.54 210.62,255.17 211.36,255.72 212.11,255.79 212.86,255.93 213.61,255.98 214.36,255.63 215.10,254.76 215.85,254.77 216.60,255.72 217.35,255.78 218.10,255.79 218.84,256.13 219.59,255.94 220.34,254.98 221.09,256.03 221.84,255.99 222.58,256.07 223.33,255.99 224.08,255.78 224.83,256.04 225.58,256.01 226.32,255.83 227.07,255.88 227.82,255.70 228.57,256.44 229.32,255.88 230.06,256.15 230.81,256.04 231.56,255.91 232.31,255.87 233.06,255.89 233.80,255.14 234.55,255.23 235.30,256.17 236.05,255.58 236.80,254.88 237.54,256.26 238.29,255.74 239.04,255.97 239.79,255.75 240.54,256.19 241.28,256.27 242.03,256.17 242.78,256.07 243.53,256.34 244.28,256.16 245.02,256.25 245.77,255.44 246.52,255.69 247.27,256.07 248.02,256.41 248.76,256.48 249.51,256.44 250.26,256.54 251.01,256.29 251.76,256.13 252.50,256.31 253.25,256.23" fill="none" stroke="#ff7f0e" stroke-width="1.1" stroke-linejoin="round"/>
<rect x="97.5" y="157.5" width="164.00" height="106.50" fill="none" stroke="#666" stroke-width="0.75"/>
<line x1="104.40" y1="264.0" x2="104.40" y2="266.0" stroke="#555" stroke-width="0.5"/>
<text transform="translate(104.40,271.80)" text-anchor="middle" font-size="5.2">0</text>
<line x1="123.10" y1="264.0" x2="123.10" y2="266.0" stroke="#555" stroke-width="0.5"/>
<text transform="translate(123.10,271.80)" text-anchor="middle" font-size="5.2">25</text>
<line x1="141.80" y1="264.0" x2="141.80" y2="266.0" stroke="#555" stroke-width="0.5"/>
<text transform="translate(141.80,271.80)" text-anchor="middle" font-size="5.2">50</text>
<line x1="160.50" y1="264.0" x2="160.50" y2="266.0" stroke="#555" stroke-width="0.5"/>
<text transform="translate(160.50,271.80)" text-anchor="middle" font-size="5.2">75</text>
<line x1="179.20" y1="264.0" x2="179.20" y2="266.0" stroke="#555" stroke-width="0.5"/>
<text transform="translate(179.20,271.80)" text-anchor="middle" font-size="5.2">100</text>
<line x1="197.90" y1="264.0" x2="197.90" y2="266.0" stroke="#555" stroke-width="0.5"/>
<text transform="translate(197.90,271.80)" text-anchor="middle" font-size="5.2">125</text>
<line x1="216.60" y1="264.0" x2="216.60" y2="266.0" stroke="#555" stroke-width="0.5"/>
<text transform="translate(216.60,271.80)" text-anchor="middle" font-size="5.2">150</text>
<line x1="235.30" y1="264.0" x2="235.30" y2="266.0" stroke="#555" stroke-width="0.5"/>
<text transform="translate(235.30,271.80)" text-anchor="middle" font-size="5.2">175</text>
<line x1="254.00" y1="264.0" x2="254.00" y2="266.0" stroke="#555" stroke-width="0.5"/>
<text transform="translate(254.00,271.80)" text-anchor="middle" font-size="5.2">200</text>
<line x1="95.5" y1="250.20" x2="97.5" y2="250.20" stroke="#555" stroke-width="0.5"/>
<text transform="translate(94.30,252.10)" text-anchor="end" font-size="5.2">20</text>
<line x1="95.5" y1="234.02" x2="97.5" y2="234.02" stroke="#555" stroke-width="0.5"/>
<text transform="translate(94.30,235.92)" text-anchor="end" font-size="5.2">30</text>
<line x1="95.5" y1="217.84" x2="97.5" y2="217.84" stroke="#555" stroke-width="0.5"/>
<text transform="translate(94.30,219.74)" text-anchor="end" font-size="5.2">40</text>
<line x1="95.5" y1="201.66" x2="97.5" y2="201.66" stroke="#555" stroke-width="0.5"/>
<text transform="translate(94.30,203.56)" text-anchor="end" font-size="5.2">50</text>
<line x1="95.5" y1="185.48" x2="97.5" y2="185.48" stroke="#555" stroke-width="0.5"/>
<text transform="translate(94.30,187.38)" text-anchor="end" font-size="5.2">60</text>
<line x1="95.5" y1="169.30" x2="97.5" y2="169.30" stroke="#555" stroke-width="0.5"/>
<text transform="translate(94.30,171.20)" text-anchor="end" font-size="5.2">70</text>
<text transform="translate(179.50,154.70) scale(1,1.12)" text-anchor="middle" font-size="5.4">MAE</text>
<text transform="translate(179.50,278.60)" text-anchor="middle" font-size="5.4">Epoch</text>
<text transform="translate(179.50,288.90)" text-anchor="middle" font-size="7.7" font-family='"Liberation Serif", serif' font-weight="bold" fill="#000" class="bl">(D)</text>
<text transform="translate(84.90,210.75) rotate(-90)" text-anchor="middle" font-size="5.4">MAE</text>
<rect x="217.40" y="160.20" width="41.5" height="15.6" rx="0.8" fill="white" stroke="#dddddd" stroke-width="0.5"/>
<line x1="218.70" y1="164.30" x2="229.40" y2="164.30" stroke="#1f77b4" stroke-width="0.95"/>
<line x1="218.70" y1="171.60" x2="229.40" y2="171.60" stroke="#ff7f0e" stroke-width="0.95"/>
<text transform="translate(233.40,166.10)" font-size="4.85">Train MAE</text>
<text transform="translate(233.40,173.40)" font-size="4.85">Val MAE</text>
<text transform="translate(112.50,168.20)" font-size="8.5" font-family='"Liberation Serif", serif' fill="#111" class="cn">(CNN)</text></g>
<g class="ln" font-family='"Liberation Sans", sans-serif' fill="#262626"><polyline points="311.90,161.07 312.62,179.94 313.34,205.92 314.07,231.89 314.79,241.82 315.51,245.80 316.23,246.26 316.96,246.53 317.68,246.80 318.40,247.07 319.12,247.34 319.85,247.61 320.57,247.89 321.29,248.16 322.01,248.43 322.74,248.70 323.46,248.93 324.18,249.17 324.90,249.40 325.63,249.64 326.35,249.87 327.07,250.11 327.79,250.34 328.52,250.58 329.24,250.81 329.96,251.05 330.69,251.28 331.41,251.52 332.13,251.75 332.85,251.99 333.57,252.14 334.30,252.23 335.02,252.26 335.74,252.37 336.46,252.47 337.19,252.43 337.91,252.57 338.63,252.61 339.35,252.66 340.08,252.81 340.80,252.80 341.52,252.82 342.25,252.87 342.97,252.87 343.69,252.94 344.41,253.03 345.13,252.96 345.86,253.01 346.58,252.95 347.30,253.00 348.02,253.05 348.75,253.05 349.47,253.01 350.19,253.04 350.91,253.09 351.64,253.11 352.36,253.16 353.08,253.18 353.80,253.16 354.53,253.22 355.25,253.22 355.97,253.30 356.69,253.35 357.42,253.37 358.14,253.33 358.86,253.27 359.58,253.30 360.31,253.42 361.03,253.47 361.75,253.38 362.47,253.41 363.20,253.52 363.92,253.43 364.64,253.49 365.37,253.46 366.09,253.52 366.81,253.52 367.53,253.56 368.25,253.64 368.98,253.63 369.70,253.67 370.42,253.62 371.14,253.73 371.87,253.77 372.59,253.69 373.31,253.69 374.03,253.70 374.76,253.73 375.48,253.87 376.20,253.86 376.92,253.87 377.65,253.87 378.37,253.98 379.09,253.91 379.81,253.91 380.54,253.99 381.26,253.96 381.98,253.93 382.70,254.00 383.43,253.98 384.15,254.00 384.87,254.04 385.59,254.05 386.32,254.10 387.04,254.04 387.76,254.13 388.49,254.15 389.21,254.10 389.93,254.18 390.65,254.14 391.38,254.12 392.10,254.18 392.82,254.19 393.54,254.16 394.26,254.18 394.99,254.30 395.71,254.30 396.43,254.19 397.15,254.25 397.88,254.38 398.60,254.35 399.32,254.30 400.04,254.36 400.77,254.31 401.49,254.34 402.21,254.33 402.94,254.42 403.66,254.35 404.38,254.30 405.10,254.44 405.82,254.35 406.55,254.38 407.27,254.41 407.99,254.45 408.71,254.52 409.44,254.52 410.16,254.45 410.88,254.45 411.60,254.46 412.33,254.48 413.05,254.49 413.77,254.57 414.50,254.62 415.22,254.56 415.94,254.56 416.66,254.59 417.38,254.68 418.11,254.65 418.83,254.70 419.55,254.64 420.27,254.71 421.00,254.68 421.72,254.67 422.44,254.70 423.16,254.66 423.89,254.79 424.61,254.85 425.33,254.72 426.05,254.72 426.78,254.73 427.50,254.80 428.22,254.80 428.94,254.84 429.67,254.92 430.39,254.90 431.11,254.87 431.83,254.93 432.56,254.84 433.28,255.01 434.00,254.97 434.72,254.92 435.45,255.01 436.17,255.05 436.89,255.08 437.62,255.07 438.34,254.98 439.06,255.04 439.78,255.06 440.50,255.12 441.23,255.07 441.95,255.12 442.67,255.18 443.39,255.18 444.12,255.16 444.84,255.13 445.56,255.21 446.28,255.20 447.01,255.14 447.73,255.29 448.45,255.32 449.17,255.24 449.90,255.28 450.62,255.32 451.34,255.32 452.06,255.36 452.79,255.34 453.51,255.39 454.23,255.35 454.95,255.46 455.68,255.46" fill="none" stroke="#1f77b4" stroke-width="1.1" stroke-linejoin="round"/>
<polyline points="311.90,171.80 312.62,189.11 313.34,213.56 314.07,234.95 314.79,245.64 315.51,250.99 316.23,251.76 316.96,251.77 317.68,251.78 318.40,251.80 319.12,251.81 319.85,252.01 320.57,251.89 321.29,251.95 322.01,251.85 322.74,251.83 323.46,251.87 324.18,251.92 324.90,251.90 325.63,251.84 326.35,251.96 327.07,251.86 327.79,251.88 328.52,251.92 329.24,251.85 329.96,251.99 330.69,251.90 331.41,252.02 332.13,252.02 332.85,252.04 333.57,251.96 334.30,252.07 335.02,252.04 335.74,252.15 336.46,252.04 337.19,252.03 337.91,252.15 338.63,252.10 339.35,252.20 340.08,252.13 340.80,252.28 341.52,252.40 342.25,252.23 342.97,252.34 343.69,252.42 344.41,252.41 345.13,252.48 345.86,252.41 346.58,252.48 347.30,252.34 348.02,252.40 348.75,252.56 349.47,252.57 350.19,252.52 350.91,252.62 351.64,252.53 352.36,252.54 353.08,252.60 353.80,252.60 354.53,252.55 355.25,252.51 355.97,252.52 356.69,252.62 357.42,252.59 358.14,252.70 358.86,252.65 359.58,252.75 360.31,252.66 361.03,252.79 361.75,252.79 362.47,252.75 363.20,252.73 363.92,252.87 364.64,252.84 365.37,252.81 366.09,252.82 366.81,252.91 367.53,252.87 368.25,252.91 368.98,252.82 369.70,252.89 370.42,253.03 371.14,253.10 371.87,252.97 372.59,252.93 373.31,253.01 374.03,252.98 374.76,253.08 375.48,253.15 376.20,253.04 376.92,253.10 377.65,253.08 378.37,253.23 379.09,253.15 379.81,253.22 380.54,253.15 381.26,253.25 381.98,253.27 382.70,253.28 383.43,253.19 384.15,253.28 384.87,253.34 385.59,253.37 386.32,253.38 387.04,253.24 387.76,253.46 388.49,253.41 389.21,253.33 389.93,253.31 390.65,253.40 391.38,253.36 392.10,253.37 392.82,253.37 393.54,253.44 394.26,253.35 394.99,253.45 395.71,253.38 396.43,253.56 397.15,253.45 397.88,253.59 398.60,253.62 399.32,253.51 400.04,253.60 400.77,253.54 401.49,253.64 402.21,253.49 402.94,253.60 403.66,253.68 404.38,253.61 405.10,253.58 405.82,253.70 406.55,253.63 407.27,253.55 407.99,253.63 408.71,253.70 409.44,253.74 410.16,253.69 410.88,253.83 411.60,253.93 412.33,253.80 413.05,253.84 413.77,253.68 414.50,253.79 415.22,253.87 415.94,253.89 416.66,253.80 417.38,253.89 418.11,253.89 418.83,253.87 419.55,253.87 420.27,253.89 421.00,253.90 421.72,253.84 422.44,253.83 423.16,254.05 423.89,253.81 424.61,253.98 425.33,253.92 426.05,254.06 426.78,254.01 427.50,254.03 428.22,254.06 428.94,254.03 429.67,254.05 430.39,254.17 431.11,254.13 431.83,254.10 432.56,254.11 433.28,254.19 434.00,254.20 434.72,254.21 435.45,254.29 436.17,254.31 436.89,254.15 437.62,254.29 438.34,254.27 439.06,254.34 439.78,254.23 440.50,254.22 441.23,254.36 441.95,254.33 442.67,254.42 443.39,254.28 444.12,254.35 444.84,254.47 445.56,254.36 446.28,254.43 447.01,254.44 447.73,254.46 448.45,254.54 449.17,254.55 449.90,254.49 450.62,254.55 451.34,254.62 452.06,254.45 452.79,254.61 453.51,254.64 454.23,254.67 454.95,254.60 455.68,254.60" fill="none" stroke="#ff7f0e" stroke-width="1.1" stroke-linejoin="round"/>
<rect x="305.5" y="157.5" width="158.50" height="102.90" fill="none" stroke="#666" stroke-width="0.75"/>
<line x1="311.90" y1="260.4" x2="311.90" y2="262.4" stroke="#555" stroke-width="0.5"/>
<text transform="translate(311.90,268.20)" text-anchor="middle" font-size="5.2">0</text>
<line x1="329.96" y1="260.4" x2="329.96" y2="262.4" stroke="#555" stroke-width="0.5"/>
<text transform="translate(329.96,268.20)" text-anchor="middle" font-size="5.2">25</text>
<line x1="348.02" y1="260.4" x2="348.02" y2="262.4" stroke="#555" stroke-width="0.5"/>
<text transform="translate(348.02,268.20)" text-anchor="middle" font-size="5.2">50</text>
<line x1="366.09" y1="260.4" x2="366.09" y2="262.4" stroke="#555" stroke-width="0.5"/>
<text transform="translate(366.09,268.20)" text-anchor="middle" font-size="5.2">75</text>
<line x1="384.15" y1="260.4" x2="384.15" y2="262.4" stroke="#555" stroke-width="0.5"/>
<text transform="translate(384.15,268.20)" text-anchor="middle" font-size="5.2">100</text>
<line x1="402.21" y1="260.4" x2="402.21" y2="262.4" stroke="#555" stroke-width="0.5"/>
<text transform="translate(402.21,268.20)" text-anchor="middle" font-size="5.2">125</text>
<line x1="420.27" y1="260.4" x2="420.27" y2="262.4" stroke="#555" stroke-width="0.5"/>
<text transform="translate(420.27,268.20)" text-anchor="middle" font-size="5.2">150</text>
<line x1="438.34" y1="260.4" x2="438.34" y2="262.4" stroke="#555" stroke-width="0.5"/>
<text transform="translate(438.34,268.20)" text-anchor="middle" font-size="5.2">175</text>
<line x1="456.40" y1="260.4" x2="456.40" y2="262.4" stroke="#555" stroke-width="0.5"/>
<text transform="translate(456.40,268.20)" text-anchor="middle" font-size="5.2">200</text>
<line x1="303.5" y1="248.70" x2="305.5" y2="248.70" stroke="#555" stroke-width="0.5"/>
<text transform="translate(302.30,250.60)" text-anchor="end" font-size="5.2">1000</text>
<line x1="303.5" y1="233.42" x2="305.5" y2="233.42" stroke="#555" stroke-width="0.5"/>
<text transform="translate(302.30,235.32)" text-anchor="end" font-size="5.2">2000</text>
<line x1="303.5" y1="218.14" x2="305.5" y2="218.14" stroke="#555" stroke-width="0.5"/>
<text transform="translate(302.30,220.04)" text-anchor="end" font-size="5.2">3000</text>
<line x1="303.5" y1="202.86" x2="305.5" y2="202.86" stroke="#555" stroke-width="0.5"/>
<text transform="translate(302.30,204.76)" text-anchor="end" font-size="5.2">4000</text>
<line x1="303.5" y1="187.58" x2="305.5" y2="187.58" stroke="#555" stroke-width="0.5"/>
<text transform="translate(302.30,189.48)" text-anchor="end" font-size="5.2">5000</text>
<line x1="303.5" y1="172.30" x2="305.5" y2="172.30" stroke="#555" stroke-width="0.5"/>
<text transform="translate(302.30,174.20)" text-anchor="end" font-size="5.2">6000</text>
<text transform="translate(384.75,154.70) scale(1,1.12)" text-anchor="middle" font-size="5.4">LOSS</text>
<text transform="translate(384.75,275.00)" text-anchor="middle" font-size="5.4">Epoch</text>
<text transform="translate(384.75,288.90)" text-anchor="middle" font-size="7.7" font-family='"Liberation Serif", serif' font-weight="bold" fill="#000" class="bl">(E)</text>
<text transform="translate(286.70,208.95) rotate(-90)" text-anchor="middle" font-size="5.4">LOSS</text>
<rect x="419.20" y="160.20" width="42.4" height="15.6" rx="0.8" fill="white" stroke="#dddddd" stroke-width="0.5"/>
<line x1="420.50" y1="164.30" x2="431.20" y2="164.30" stroke="#1f77b4" stroke-width="0.95"/>
<line x1="420.50" y1="171.60" x2="431.20" y2="171.60" stroke="#ff7f0e" stroke-width="0.95"/>
<text transform="translate(435.20,166.10)" font-size="4.85">Train LOSS</text>
<text transform="translate(435.20,173.40)" font-size="4.85">Val LOSS</text>
<text transform="translate(320.50,168.20)" font-size="8.5" font-family='"Liberation Serif", serif' fill="#111" class="cn">(CNN)</text></g>
</g>
</svg>
</body></html>
